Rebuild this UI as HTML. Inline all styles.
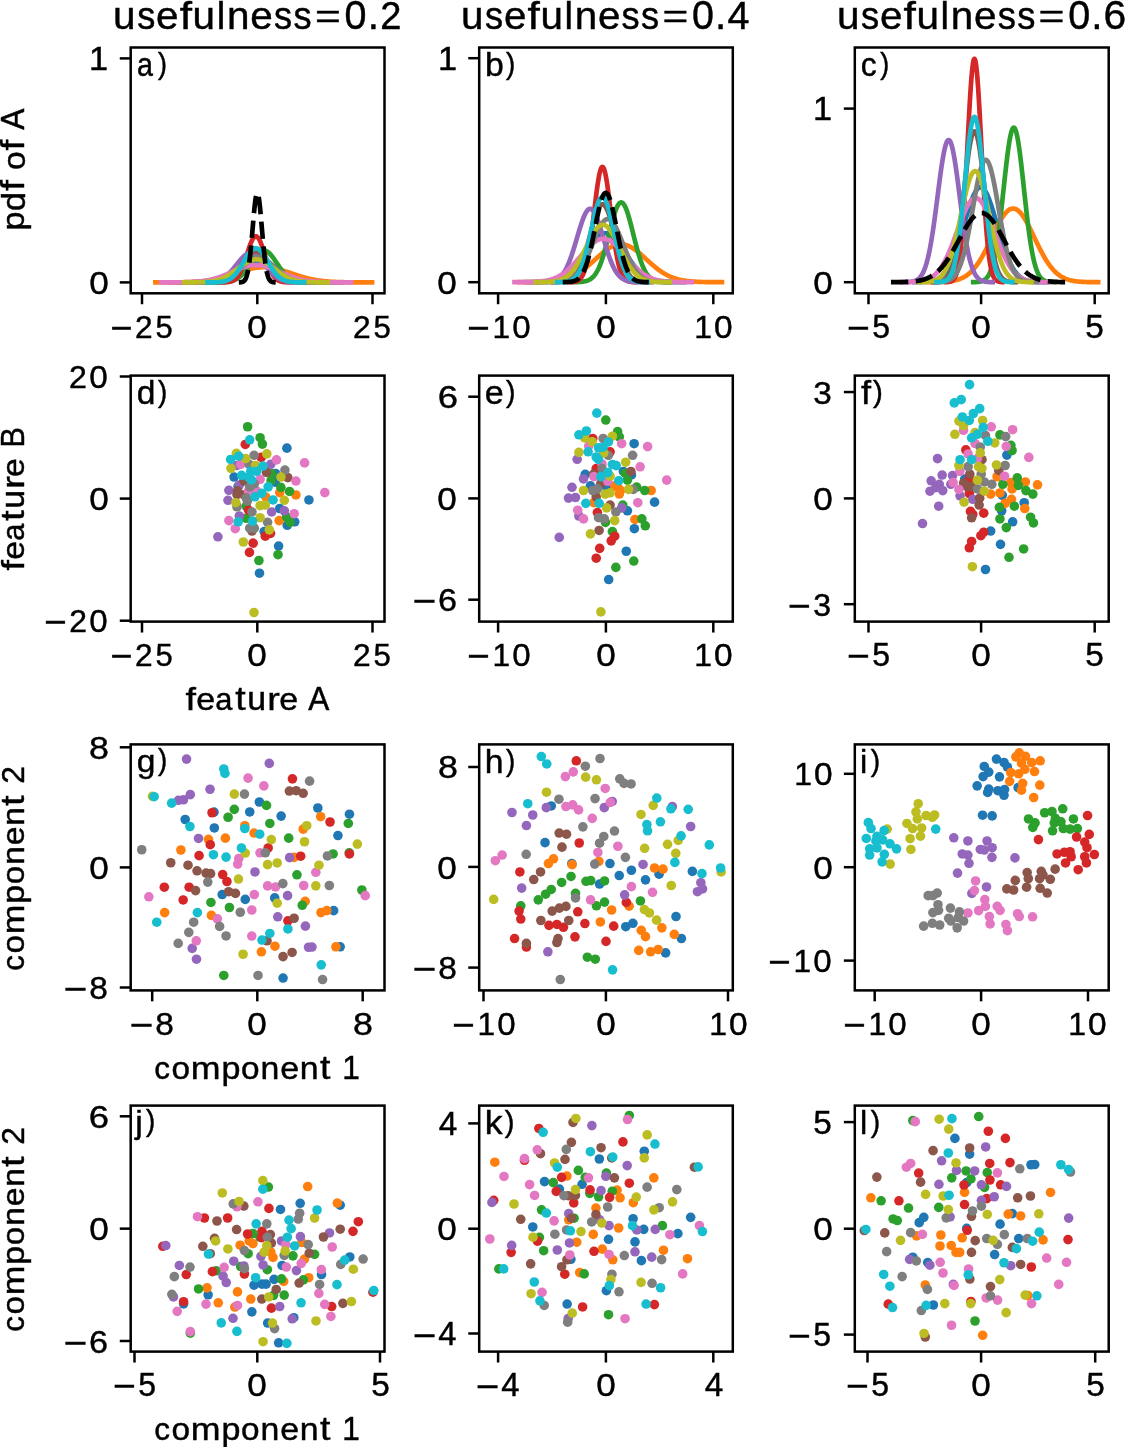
<!DOCTYPE html><html><head><meta charset="utf-8"><style>html,body{margin:0;padding:0;background:#fff;}svg{display:block;will-change:transform;}text{font-family:"Liberation Sans",sans-serif;}</style></head><body>
<svg width="1125" height="1447" viewBox="0 0 1125 1447">
<rect x="0" y="0" width="1125" height="1447" fill="#fff"/>
<defs>
<clipPath id="ca"><rect x="130.7" y="47.5" width="253.8" height="245.8"/></clipPath>
<clipPath id="cb"><rect x="479.2" y="47.5" width="253.6" height="245.8"/></clipPath>
<clipPath id="cc"><rect x="854.8" y="47.5" width="253.9" height="245.8"/></clipPath>
<clipPath id="cd"><rect x="130.7" y="375.6" width="253.8" height="246"/></clipPath>
<clipPath id="ce"><rect x="479.2" y="375.6" width="253.6" height="246"/></clipPath>
<clipPath id="cf"><rect x="854.8" y="375.6" width="253.9" height="246"/></clipPath>
<clipPath id="cg"><rect x="130.7" y="744.4" width="253.8" height="246"/></clipPath>
<clipPath id="ch"><rect x="479.2" y="744.4" width="253.6" height="246"/></clipPath>
<clipPath id="ci"><rect x="854.8" y="744.4" width="253.9" height="246"/></clipPath>
<clipPath id="cj"><rect x="130.7" y="1105.6" width="253.8" height="246"/></clipPath>
<clipPath id="ck"><rect x="479.2" y="1105.6" width="253.6" height="246"/></clipPath>
<clipPath id="cl"><rect x="854.8" y="1105.6" width="253.9" height="246"/></clipPath>
</defs>
<g clip-path="url(#ca)" fill="none" stroke-width="4.69" stroke-linejoin="round">
<path d="M172.95,282.39 L174.01,282.39 L175.07,282.39 L176.12,282.39 L177.18,282.39 L178.24,282.38 L179.3,282.38 L180.36,282.37 L181.42,282.37 L182.47,282.36 L183.53,282.36 L184.59,282.35 L185.65,282.34 L186.71,282.33 L187.77,282.31 L188.82,282.3 L189.88,282.28 L190.94,282.26 L192,282.24 L193.06,282.21 L194.12,282.18 L195.17,282.14 L196.23,282.1 L197.29,282.06 L198.35,282 L199.41,281.94 L200.46,281.88 L201.52,281.8 L202.58,281.72 L203.64,281.62 L204.7,281.52 L205.76,281.4 L206.81,281.27 L207.87,281.13 L208.93,280.97 L209.99,280.8 L211.05,280.61 L212.11,280.41 L213.16,280.19 L214.22,279.94 L215.28,279.68 L216.34,279.4 L217.4,279.1 L218.46,278.77 L219.51,278.43 L220.57,278.06 L221.63,277.67 L222.69,277.26 L223.75,276.82 L224.81,276.37 L225.86,275.89 L226.92,275.39 L227.98,274.88 L229.04,274.35 L230.1,273.8 L231.15,273.24 L232.21,272.66 L233.27,272.08 L234.33,271.49 L235.39,270.89 L236.45,270.3 L237.5,269.7 L238.56,269.11 L239.62,268.52 L240.68,267.95 L241.74,267.39 L242.8,266.85 L243.85,266.33 L244.91,265.83 L245.97,265.36 L247.03,264.93 L248.09,264.53 L249.15,264.16 L250.2,263.83 L251.26,263.55 L252.32,263.31 L253.38,263.11 L254.44,262.97 L255.49,262.87 L256.55,262.82 L257.61,262.82 L258.67,262.87 L259.73,262.97 L260.79,263.11 L261.84,263.31 L262.9,263.55 L263.96,263.83 L265.02,264.16 L266.08,264.53 L267.14,264.93 L268.19,265.36 L269.25,265.83 L270.31,266.33 L271.37,266.85 L272.43,267.39 L273.49,267.95 L274.54,268.52 L275.6,269.11 L276.66,269.7 L277.72,270.3 L278.78,270.89 L279.84,271.49 L280.89,272.08 L281.95,272.66 L283.01,273.24 L284.07,273.8 L285.13,274.35 L286.18,274.88 L287.24,275.39 L288.3,275.89 L289.36,276.37 L290.42,276.82 L291.48,277.26 L292.53,277.67 L293.59,278.06 L294.65,278.43 L295.71,278.77 L296.77,279.1 L297.83,279.4 L298.88,279.68 L299.94,279.94 L301,280.19 L302.06,280.41 L303.12,280.61 L304.18,280.8 L305.23,280.97 L306.29,281.13 L307.35,281.27 L308.41,281.4 L309.47,281.52 L310.52,281.62 L311.58,281.72 L312.64,281.8 L313.7,281.88 L314.76,281.94 L315.82,282 L316.87,282.06 L317.93,282.1 L318.99,282.14 L320.05,282.18 L321.11,282.21 L322.17,282.24 L323.22,282.26 L324.28,282.28 L325.34,282.3 L326.4,282.31 L327.46,282.33 L328.52,282.34 L329.57,282.35 L330.63,282.36 L331.69,282.36 L332.75,282.37 L333.81,282.37 L334.87,282.38 L335.92,282.38 L336.98,282.39 L338.04,282.39 L339.1,282.39 L340.16,282.39 L341.21,282.39" stroke="#1f77b4" stroke-linecap="square"/>
<path d="M155.39,282.39 L156.75,282.39 L158.11,282.39 L159.47,282.39 L160.84,282.39 L162.2,282.39 L163.56,282.38 L164.92,282.38 L166.29,282.38 L167.65,282.37 L169.01,282.37 L170.38,282.36 L171.74,282.35 L173.1,282.34 L174.46,282.33 L175.83,282.32 L177.19,282.31 L178.55,282.29 L179.91,282.27 L181.28,282.25 L182.64,282.23 L184,282.2 L185.37,282.17 L186.73,282.13 L188.09,282.09 L189.45,282.05 L190.82,281.99 L192.18,281.94 L193.54,281.87 L194.9,281.8 L196.27,281.72 L197.63,281.63 L198.99,281.53 L200.35,281.41 L201.72,281.29 L203.08,281.16 L204.44,281.01 L205.81,280.85 L207.17,280.68 L208.53,280.49 L209.89,280.29 L211.26,280.07 L212.62,279.83 L213.98,279.58 L215.34,279.31 L216.71,279.03 L218.07,278.73 L219.43,278.41 L220.8,278.07 L222.16,277.71 L223.52,277.34 L224.88,276.96 L226.25,276.56 L227.61,276.15 L228.97,275.72 L230.33,275.28 L231.7,274.84 L233.06,274.39 L234.42,273.93 L235.79,273.46 L237.15,273 L238.51,272.54 L239.87,272.08 L241.24,271.62 L242.6,271.18 L243.96,270.74 L245.32,270.32 L246.69,269.92 L248.05,269.53 L249.41,269.17 L250.77,268.83 L252.14,268.52 L253.5,268.23 L254.86,267.98 L256.23,267.76 L257.59,267.57 L258.95,267.42 L260.31,267.31 L261.68,267.23 L263.04,267.19 L264.4,267.19 L265.76,267.23 L267.13,267.31 L268.49,267.42 L269.85,267.57 L271.22,267.76 L272.58,267.98 L273.94,268.23 L275.3,268.52 L276.67,268.83 L278.03,269.17 L279.39,269.53 L280.75,269.92 L282.12,270.32 L283.48,270.74 L284.84,271.18 L286.21,271.62 L287.57,272.08 L288.93,272.54 L290.29,273 L291.66,273.46 L293.02,273.93 L294.38,274.39 L295.74,274.84 L297.11,275.28 L298.47,275.72 L299.83,276.15 L301.2,276.56 L302.56,276.96 L303.92,277.34 L305.28,277.71 L306.65,278.07 L308.01,278.41 L309.37,278.73 L310.73,279.03 L312.1,279.31 L313.46,279.58 L314.82,279.83 L316.18,280.07 L317.55,280.29 L318.91,280.49 L320.27,280.68 L321.64,280.85 L323,281.01 L324.36,281.16 L325.72,281.29 L327.09,281.41 L328.45,281.53 L329.81,281.63 L331.17,281.72 L332.54,281.8 L333.9,281.87 L335.26,281.94 L336.63,281.99 L337.99,282.05 L339.35,282.09 L340.71,282.13 L342.08,282.17 L343.44,282.2 L344.8,282.23 L346.16,282.25 L347.53,282.27 L348.89,282.29 L350.25,282.31 L351.62,282.32 L352.98,282.33 L354.34,282.34 L355.7,282.35 L357.07,282.36 L358.43,282.37 L359.79,282.37 L361.15,282.38 L362.52,282.38 L363.88,282.38 L365.24,282.39 L366.6,282.39 L367.97,282.39 L369.33,282.39 L370.69,282.39 L372.06,282.39" stroke="#ff7f0e" stroke-linecap="square"/>
<path d="M212.23,282.39 L212.88,282.39 L213.53,282.38 L214.18,282.38 L214.82,282.38 L215.47,282.37 L216.12,282.37 L216.77,282.36 L217.42,282.35 L218.07,282.34 L218.72,282.33 L219.37,282.32 L220.02,282.3 L220.67,282.28 L221.32,282.26 L221.97,282.24 L222.62,282.21 L223.27,282.17 L223.92,282.13 L224.57,282.09 L225.22,282.04 L225.87,281.98 L226.52,281.91 L227.16,281.84 L227.81,281.75 L228.46,281.66 L229.11,281.55 L229.76,281.43 L230.41,281.29 L231.06,281.14 L231.71,280.96 L232.36,280.77 L233.01,280.56 L233.66,280.33 L234.31,280.08 L234.96,279.8 L235.61,279.49 L236.26,279.16 L236.91,278.79 L237.56,278.4 L238.21,277.97 L238.85,277.51 L239.5,277.02 L240.15,276.49 L240.8,275.93 L241.45,275.33 L242.1,274.69 L242.75,274.02 L243.4,273.31 L244.05,272.57 L244.7,271.79 L245.35,270.98 L246,270.15 L246.65,269.28 L247.3,268.39 L247.95,267.47 L248.6,266.54 L249.25,265.58 L249.9,264.62 L250.55,263.65 L251.19,262.68 L251.84,261.71 L252.49,260.74 L253.14,259.79 L253.79,258.85 L254.44,257.94 L255.09,257.06 L255.74,256.21 L256.39,255.4 L257.04,254.64 L257.69,253.93 L258.34,253.27 L258.99,252.68 L259.64,252.15 L260.29,251.68 L260.94,251.29 L261.59,250.98 L262.24,250.74 L262.88,250.58 L263.53,250.49 L264.18,250.49 L264.83,250.58 L265.48,250.74 L266.13,250.98 L266.78,251.29 L267.43,251.68 L268.08,252.15 L268.73,252.68 L269.38,253.27 L270.03,253.93 L270.68,254.64 L271.33,255.4 L271.98,256.21 L272.63,257.06 L273.28,257.94 L273.93,258.85 L274.58,259.79 L275.22,260.74 L275.87,261.71 L276.52,262.68 L277.17,263.65 L277.82,264.62 L278.47,265.58 L279.12,266.54 L279.77,267.47 L280.42,268.39 L281.07,269.28 L281.72,270.15 L282.37,270.98 L283.02,271.79 L283.67,272.57 L284.32,273.31 L284.97,274.02 L285.62,274.69 L286.27,275.33 L286.91,275.93 L287.56,276.49 L288.21,277.02 L288.86,277.51 L289.51,277.97 L290.16,278.4 L290.81,278.79 L291.46,279.16 L292.11,279.49 L292.76,279.8 L293.41,280.08 L294.06,280.33 L294.71,280.56 L295.36,280.77 L296.01,280.96 L296.66,281.14 L297.31,281.29 L297.96,281.43 L298.61,281.55 L299.25,281.66 L299.9,281.75 L300.55,281.84 L301.2,281.91 L301.85,281.98 L302.5,282.04 L303.15,282.09 L303.8,282.13 L304.45,282.17 L305.1,282.21 L305.75,282.24 L306.4,282.26 L307.05,282.28 L307.7,282.3 L308.35,282.32 L309,282.33 L309.65,282.34 L310.3,282.35 L310.94,282.36 L311.59,282.37 L312.24,282.37 L312.89,282.38 L313.54,282.38 L314.19,282.38 L314.84,282.39 L315.49,282.39" stroke="#2ca02c" stroke-linecap="square"/>
<path d="M220.11,282.38 L220.56,282.38 L221.01,282.38 L221.46,282.37 L221.91,282.37 L222.36,282.36 L222.81,282.35 L223.26,282.34 L223.71,282.33 L224.15,282.31 L224.6,282.3 L225.05,282.28 L225.5,282.26 L225.95,282.23 L226.4,282.2 L226.85,282.16 L227.3,282.12 L227.75,282.07 L228.2,282.02 L228.65,281.95 L229.1,281.88 L229.55,281.79 L230,281.7 L230.45,281.59 L230.9,281.47 L231.35,281.33 L231.79,281.17 L232.24,280.99 L232.69,280.79 L233.14,280.57 L233.59,280.33 L234.04,280.05 L234.49,279.75 L234.94,279.41 L235.39,279.04 L235.84,278.64 L236.29,278.2 L236.74,277.71 L237.19,277.19 L237.64,276.62 L238.09,276 L238.54,275.34 L238.98,274.62 L239.43,273.86 L239.88,273.04 L240.33,272.18 L240.78,271.26 L241.23,270.29 L241.68,269.26 L242.13,268.19 L242.58,267.07 L243.03,265.9 L243.48,264.69 L243.93,263.44 L244.38,262.15 L244.83,260.83 L245.28,259.47 L245.73,258.1 L246.18,256.71 L246.62,255.3 L247.07,253.9 L247.52,252.49 L247.97,251.1 L248.42,249.72 L248.87,248.37 L249.32,247.05 L249.77,245.78 L250.22,244.55 L250.67,243.39 L251.12,242.28 L251.57,241.26 L252.02,240.31 L252.47,239.45 L252.92,238.68 L253.37,238.01 L253.82,237.44 L254.26,236.99 L254.71,236.64 L255.16,236.41 L255.61,236.29 L256.06,236.29 L256.51,236.41 L256.96,236.64 L257.41,236.99 L257.86,237.44 L258.31,238.01 L258.76,238.68 L259.21,239.45 L259.66,240.31 L260.11,241.26 L260.56,242.28 L261.01,243.39 L261.46,244.55 L261.9,245.78 L262.35,247.05 L262.8,248.37 L263.25,249.72 L263.7,251.1 L264.15,252.49 L264.6,253.9 L265.05,255.3 L265.5,256.71 L265.95,258.1 L266.4,259.47 L266.85,260.83 L267.3,262.15 L267.75,263.44 L268.2,264.69 L268.65,265.9 L269.09,267.07 L269.54,268.19 L269.99,269.26 L270.44,270.29 L270.89,271.26 L271.34,272.18 L271.79,273.04 L272.24,273.86 L272.69,274.62 L273.14,275.34 L273.59,276 L274.04,276.62 L274.49,277.19 L274.94,277.71 L275.39,278.2 L275.84,278.64 L276.29,279.04 L276.73,279.41 L277.18,279.75 L277.63,280.05 L278.08,280.33 L278.53,280.57 L278.98,280.79 L279.43,280.99 L279.88,281.17 L280.33,281.33 L280.78,281.47 L281.23,281.59 L281.68,281.7 L282.13,281.79 L282.58,281.88 L283.03,281.95 L283.48,282.02 L283.93,282.07 L284.37,282.12 L284.82,282.16 L285.27,282.2 L285.72,282.23 L286.17,282.26 L286.62,282.28 L287.07,282.3 L287.52,282.31 L287.97,282.33 L288.42,282.34 L288.87,282.35 L289.32,282.36 L289.77,282.37 L290.22,282.37 L290.67,282.38 L291.12,282.38 L291.57,282.38" stroke="#d62728" stroke-linecap="square"/>
<path d="M194.46,282.39 L195.16,282.39 L195.87,282.39 L196.57,282.38 L197.28,282.38 L197.99,282.37 L198.69,282.37 L199.4,282.36 L200.1,282.35 L200.81,282.35 L201.52,282.34 L202.22,282.32 L202.93,282.31 L203.63,282.29 L204.34,282.27 L205.05,282.25 L205.75,282.22 L206.46,282.19 L207.16,282.16 L207.87,282.11 L208.58,282.07 L209.28,282.01 L209.99,281.95 L210.69,281.88 L211.4,281.81 L212.11,281.72 L212.81,281.62 L213.52,281.5 L214.22,281.38 L214.93,281.24 L215.64,281.08 L216.34,280.9 L217.05,280.71 L217.75,280.5 L218.46,280.26 L219.17,280.01 L219.87,279.72 L220.58,279.42 L221.28,279.08 L221.99,278.72 L222.7,278.33 L223.4,277.9 L224.11,277.45 L224.81,276.96 L225.52,276.44 L226.23,275.89 L226.93,275.31 L227.64,274.69 L228.34,274.04 L229.05,273.36 L229.76,272.64 L230.46,271.9 L231.17,271.13 L231.87,270.33 L232.58,269.51 L233.29,268.67 L233.99,267.81 L234.7,266.93 L235.4,266.05 L236.11,265.15 L236.82,264.26 L237.52,263.36 L238.23,262.48 L238.93,261.6 L239.64,260.74 L240.35,259.9 L241.05,259.09 L241.76,258.31 L242.46,257.57 L243.17,256.86 L243.88,256.21 L244.58,255.61 L245.29,255.06 L245.99,254.57 L246.7,254.14 L247.41,253.78 L248.11,253.49 L248.82,253.27 L249.52,253.12 L250.23,253.05 L250.94,253.05 L251.64,253.12 L252.35,253.27 L253.05,253.49 L253.76,253.78 L254.47,254.14 L255.17,254.57 L255.88,255.06 L256.58,255.61 L257.29,256.21 L258,256.86 L258.7,257.57 L259.41,258.31 L260.11,259.09 L260.82,259.9 L261.53,260.74 L262.23,261.6 L262.94,262.48 L263.64,263.36 L264.35,264.26 L265.06,265.15 L265.76,266.05 L266.47,266.93 L267.17,267.81 L267.88,268.67 L268.59,269.51 L269.29,270.33 L270,271.13 L270.7,271.9 L271.41,272.64 L272.12,273.36 L272.82,274.04 L273.53,274.69 L274.23,275.31 L274.94,275.89 L275.65,276.44 L276.35,276.96 L277.06,277.45 L277.76,277.9 L278.47,278.33 L279.18,278.72 L279.88,279.08 L280.59,279.42 L281.29,279.72 L282,280.01 L282.71,280.26 L283.41,280.5 L284.12,280.71 L284.82,280.9 L285.53,281.08 L286.24,281.24 L286.94,281.38 L287.65,281.5 L288.35,281.62 L289.06,281.72 L289.76,281.81 L290.47,281.88 L291.18,281.95 L291.88,282.01 L292.59,282.07 L293.29,282.11 L294,282.16 L294.71,282.19 L295.41,282.22 L296.12,282.25 L296.82,282.27 L297.53,282.29 L298.24,282.31 L298.94,282.32 L299.65,282.34 L300.35,282.35 L301.06,282.35 L301.77,282.36 L302.47,282.37 L303.18,282.37 L303.88,282.38 L304.59,282.38 L305.3,282.39 L306,282.39 L306.71,282.39" stroke="#9467bd" stroke-linecap="square"/>
<path d="M202.94,282.39 L203.6,282.39 L204.27,282.38 L204.93,282.38 L205.6,282.38 L206.26,282.37 L206.93,282.37 L207.6,282.36 L208.26,282.35 L208.93,282.34 L209.59,282.33 L210.26,282.32 L210.92,282.3 L211.59,282.28 L212.25,282.26 L212.92,282.24 L213.58,282.21 L214.25,282.18 L214.92,282.14 L215.58,282.1 L216.25,282.05 L216.91,281.99 L217.58,281.93 L218.24,281.85 L218.91,281.77 L219.57,281.67 L220.24,281.57 L220.9,281.45 L221.57,281.31 L222.23,281.17 L222.9,281 L223.57,280.81 L224.23,280.61 L224.9,280.38 L225.56,280.13 L226.23,279.86 L226.89,279.56 L227.56,279.23 L228.22,278.88 L228.89,278.49 L229.55,278.08 L230.22,277.63 L230.88,277.15 L231.55,276.63 L232.22,276.08 L232.88,275.5 L233.55,274.87 L234.21,274.22 L234.88,273.53 L235.54,272.8 L236.21,272.05 L236.87,271.26 L237.54,270.44 L238.2,269.59 L238.87,268.72 L239.54,267.83 L240.2,266.92 L240.87,265.99 L241.53,265.05 L242.2,264.1 L242.86,263.15 L243.53,262.2 L244.19,261.26 L244.86,260.33 L245.52,259.42 L246.19,258.53 L246.85,257.67 L247.52,256.84 L248.19,256.05 L248.85,255.31 L249.52,254.61 L250.18,253.97 L250.85,253.39 L251.51,252.87 L252.18,252.42 L252.84,252.04 L253.51,251.73 L254.17,251.49 L254.84,251.34 L255.5,251.26 L256.17,251.26 L256.84,251.34 L257.5,251.49 L258.17,251.73 L258.83,252.04 L259.5,252.42 L260.16,252.87 L260.83,253.39 L261.49,253.97 L262.16,254.61 L262.82,255.31 L263.49,256.05 L264.16,256.84 L264.82,257.67 L265.49,258.53 L266.15,259.42 L266.82,260.33 L267.48,261.26 L268.15,262.2 L268.81,263.15 L269.48,264.1 L270.14,265.05 L270.81,265.99 L271.47,266.92 L272.14,267.83 L272.81,268.72 L273.47,269.59 L274.14,270.44 L274.8,271.26 L275.47,272.05 L276.13,272.8 L276.8,273.53 L277.46,274.22 L278.13,274.87 L278.79,275.5 L279.46,276.08 L280.12,276.63 L280.79,277.15 L281.46,277.63 L282.12,278.08 L282.79,278.49 L283.45,278.88 L284.12,279.23 L284.78,279.56 L285.45,279.86 L286.11,280.13 L286.78,280.38 L287.44,280.61 L288.11,280.81 L288.78,281 L289.44,281.17 L290.11,281.31 L290.77,281.45 L291.44,281.57 L292.1,281.67 L292.77,281.77 L293.43,281.85 L294.1,281.93 L294.76,281.99 L295.43,282.05 L296.09,282.1 L296.76,282.14 L297.43,282.18 L298.09,282.21 L298.76,282.24 L299.42,282.26 L300.09,282.28 L300.75,282.3 L301.42,282.32 L302.08,282.33 L302.75,282.34 L303.41,282.35 L304.08,282.36 L304.74,282.37 L305.41,282.37 L306.08,282.38 L306.74,282.38 L307.41,282.38 L308.07,282.39 L308.74,282.39" stroke="#8c564b" stroke-linecap="square"/>
<path d="M161.26,282.39 L162.46,282.39 L163.65,282.39 L164.84,282.39 L166.04,282.39 L167.23,282.38 L168.42,282.38 L169.62,282.38 L170.81,282.37 L172,282.37 L173.19,282.36 L174.39,282.35 L175.58,282.35 L176.77,282.34 L177.97,282.32 L179.16,282.31 L180.35,282.29 L181.55,282.28 L182.74,282.26 L183.93,282.23 L185.13,282.2 L186.32,282.17 L187.51,282.14 L188.7,282.09 L189.9,282.05 L191.09,282 L192.28,281.94 L193.48,281.87 L194.67,281.79 L195.86,281.71 L197.06,281.62 L198.25,281.52 L199.44,281.4 L200.64,281.27 L201.83,281.14 L203.02,280.98 L204.21,280.82 L205.41,280.63 L206.6,280.44 L207.79,280.22 L208.99,279.99 L210.18,279.74 L211.37,279.47 L212.57,279.18 L213.76,278.88 L214.95,278.55 L216.15,278.2 L217.34,277.84 L218.53,277.45 L219.72,277.05 L220.92,276.63 L222.11,276.19 L223.3,275.73 L224.5,275.26 L225.69,274.77 L226.88,274.27 L228.08,273.76 L229.27,273.25 L230.46,272.72 L231.66,272.19 L232.85,271.66 L234.04,271.13 L235.24,270.61 L236.43,270.09 L237.62,269.58 L238.81,269.09 L240.01,268.61 L241.2,268.14 L242.39,267.7 L243.59,267.29 L244.78,266.9 L245.97,266.55 L247.17,266.22 L248.36,265.93 L249.55,265.68 L250.75,265.47 L251.94,265.29 L253.13,265.16 L254.32,265.08 L255.52,265.03 L256.71,265.03 L257.9,265.08 L259.1,265.16 L260.29,265.29 L261.48,265.47 L262.68,265.68 L263.87,265.93 L265.06,266.22 L266.26,266.55 L267.45,266.9 L268.64,267.29 L269.83,267.7 L271.03,268.14 L272.22,268.61 L273.41,269.09 L274.61,269.58 L275.8,270.09 L276.99,270.61 L278.19,271.13 L279.38,271.66 L280.57,272.19 L281.77,272.72 L282.96,273.25 L284.15,273.76 L285.34,274.27 L286.54,274.77 L287.73,275.26 L288.92,275.73 L290.12,276.19 L291.31,276.63 L292.5,277.05 L293.7,277.45 L294.89,277.84 L296.08,278.2 L297.28,278.55 L298.47,278.88 L299.66,279.18 L300.86,279.47 L302.05,279.74 L303.24,279.99 L304.43,280.22 L305.63,280.44 L306.82,280.63 L308.01,280.82 L309.21,280.98 L310.4,281.14 L311.59,281.27 L312.79,281.4 L313.98,281.52 L315.17,281.62 L316.37,281.71 L317.56,281.79 L318.75,281.87 L319.94,281.94 L321.14,282 L322.33,282.05 L323.52,282.09 L324.72,282.14 L325.91,282.17 L327.1,282.2 L328.3,282.23 L329.49,282.26 L330.68,282.28 L331.88,282.29 L333.07,282.31 L334.26,282.32 L335.45,282.34 L336.65,282.35 L337.84,282.35 L339.03,282.36 L340.23,282.37 L341.42,282.37 L342.61,282.38 L343.81,282.38 L345,282.38 L346.19,282.39 L347.39,282.39 L348.58,282.39 L349.77,282.39 L350.96,282.39" stroke="#e377c2" stroke-linecap="square"/>
<path d="M192.91,282.39 L193.73,282.39 L194.55,282.39 L195.37,282.38 L196.19,282.38 L197.01,282.38 L197.83,282.37 L198.65,282.37 L199.48,282.36 L200.3,282.35 L201.12,282.34 L201.94,282.33 L202.76,282.32 L203.58,282.31 L204.4,282.29 L205.22,282.27 L206.04,282.25 L206.86,282.22 L207.68,282.19 L208.5,282.15 L209.32,282.11 L210.14,282.07 L210.96,282.02 L211.78,281.96 L212.6,281.89 L213.42,281.81 L214.24,281.73 L215.07,281.63 L215.89,281.52 L216.71,281.4 L217.53,281.26 L218.35,281.11 L219.17,280.95 L219.99,280.76 L220.81,280.56 L221.63,280.34 L222.45,280.1 L223.27,279.83 L224.09,279.54 L224.91,279.23 L225.73,278.89 L226.55,278.53 L227.37,278.14 L228.19,277.72 L229.01,277.28 L229.83,276.8 L230.66,276.3 L231.48,275.77 L232.3,275.21 L233.12,274.62 L233.94,274 L234.76,273.36 L235.58,272.7 L236.4,272.01 L237.22,271.31 L238.04,270.58 L238.86,269.84 L239.68,269.09 L240.5,268.33 L241.32,267.56 L242.14,266.79 L242.96,266.02 L243.78,265.26 L244.6,264.5 L245.42,263.76 L246.24,263.04 L247.07,262.34 L247.89,261.67 L248.71,261.03 L249.53,260.43 L250.35,259.87 L251.17,259.35 L251.99,258.87 L252.81,258.45 L253.63,258.09 L254.45,257.78 L255.27,257.53 L256.09,257.34 L256.91,257.21 L257.73,257.15 L258.55,257.15 L259.37,257.21 L260.19,257.34 L261.01,257.53 L261.83,257.78 L262.66,258.09 L263.48,258.45 L264.3,258.87 L265.12,259.35 L265.94,259.87 L266.76,260.43 L267.58,261.03 L268.4,261.67 L269.22,262.34 L270.04,263.04 L270.86,263.76 L271.68,264.5 L272.5,265.26 L273.32,266.02 L274.14,266.79 L274.96,267.56 L275.78,268.33 L276.6,269.09 L277.42,269.84 L278.25,270.58 L279.07,271.31 L279.89,272.01 L280.71,272.7 L281.53,273.36 L282.35,274 L283.17,274.62 L283.99,275.21 L284.81,275.77 L285.63,276.3 L286.45,276.8 L287.27,277.28 L288.09,277.72 L288.91,278.14 L289.73,278.53 L290.55,278.89 L291.37,279.23 L292.19,279.54 L293.01,279.83 L293.84,280.1 L294.66,280.34 L295.48,280.56 L296.3,280.76 L297.12,280.95 L297.94,281.11 L298.76,281.26 L299.58,281.4 L300.4,281.52 L301.22,281.63 L302.04,281.73 L302.86,281.81 L303.68,281.89 L304.5,281.96 L305.32,282.02 L306.14,282.07 L306.96,282.11 L307.78,282.15 L308.6,282.19 L309.43,282.22 L310.25,282.25 L311.07,282.27 L311.89,282.29 L312.71,282.31 L313.53,282.32 L314.35,282.33 L315.17,282.34 L315.99,282.35 L316.81,282.36 L317.63,282.37 L318.45,282.37 L319.27,282.38 L320.09,282.38 L320.91,282.38 L321.73,282.39 L322.55,282.39 L323.37,282.39" stroke="#7f7f7f" stroke-linecap="square"/>
<path d="M184.18,282.39 L185.08,282.39 L185.98,282.39 L186.88,282.39 L187.79,282.38 L188.69,282.38 L189.59,282.38 L190.5,282.37 L191.4,282.36 L192.3,282.36 L193.21,282.35 L194.11,282.34 L195.01,282.33 L195.92,282.31 L196.82,282.3 L197.72,282.28 L198.63,282.26 L199.53,282.24 L200.43,282.21 L201.34,282.18 L202.24,282.14 L203.14,282.1 L204.04,282.05 L204.95,282 L205.85,281.93 L206.75,281.87 L207.66,281.79 L208.56,281.7 L209.46,281.6 L210.37,281.49 L211.27,281.37 L212.17,281.23 L213.08,281.08 L213.98,280.91 L214.88,280.73 L215.79,280.53 L216.69,280.31 L217.59,280.07 L218.49,279.81 L219.4,279.52 L220.3,279.22 L221.2,278.88 L222.11,278.53 L223.01,278.15 L223.91,277.74 L224.82,277.31 L225.72,276.86 L226.62,276.37 L227.53,275.86 L228.43,275.33 L229.33,274.77 L230.24,274.19 L231.14,273.59 L232.04,272.96 L232.95,272.32 L233.85,271.66 L234.75,270.99 L235.65,270.31 L236.56,269.62 L237.46,268.92 L238.36,268.22 L239.27,267.52 L240.17,266.82 L241.07,266.14 L241.98,265.47 L242.88,264.81 L243.78,264.18 L244.69,263.57 L245.59,262.99 L246.49,262.44 L247.4,261.93 L248.3,261.46 L249.2,261.03 L250.11,260.64 L251.01,260.31 L251.91,260.03 L252.81,259.8 L253.72,259.63 L254.62,259.51 L255.52,259.46 L256.43,259.46 L257.33,259.51 L258.23,259.63 L259.14,259.8 L260.04,260.03 L260.94,260.31 L261.85,260.64 L262.75,261.03 L263.65,261.46 L264.56,261.93 L265.46,262.44 L266.36,262.99 L267.27,263.57 L268.17,264.18 L269.07,264.81 L269.97,265.47 L270.88,266.14 L271.78,266.82 L272.68,267.52 L273.59,268.22 L274.49,268.92 L275.39,269.62 L276.3,270.31 L277.2,270.99 L278.1,271.66 L279.01,272.32 L279.91,272.96 L280.81,273.59 L281.72,274.19 L282.62,274.77 L283.52,275.33 L284.43,275.86 L285.33,276.37 L286.23,276.86 L287.13,277.31 L288.04,277.74 L288.94,278.15 L289.84,278.53 L290.75,278.88 L291.65,279.22 L292.55,279.52 L293.46,279.81 L294.36,280.07 L295.26,280.31 L296.17,280.53 L297.07,280.73 L297.97,280.91 L298.88,281.08 L299.78,281.23 L300.68,281.37 L301.59,281.49 L302.49,281.6 L303.39,281.7 L304.29,281.79 L305.2,281.87 L306.1,281.93 L307,282 L307.91,282.05 L308.81,282.1 L309.71,282.14 L310.62,282.18 L311.52,282.21 L312.42,282.24 L313.33,282.26 L314.23,282.28 L315.13,282.3 L316.04,282.31 L316.94,282.33 L317.84,282.34 L318.75,282.35 L319.65,282.36 L320.55,282.36 L321.45,282.37 L322.36,282.38 L323.26,282.38 L324.16,282.38 L325.07,282.39 L325.97,282.39 L326.87,282.39 L327.78,282.39" stroke="#bcbd22" stroke-linecap="square"/>
<path d="M207.55,282.39 L208.16,282.39 L208.76,282.38 L209.37,282.38 L209.98,282.37 L210.58,282.37 L211.19,282.36 L211.8,282.36 L212.41,282.35 L213.01,282.34 L213.62,282.32 L214.23,282.31 L214.84,282.29 L215.44,282.27 L216.05,282.25 L216.66,282.22 L217.27,282.19 L217.87,282.16 L218.48,282.12 L219.09,282.07 L219.7,282.01 L220.3,281.95 L220.91,281.88 L221.52,281.8 L222.13,281.71 L222.73,281.61 L223.34,281.49 L223.95,281.36 L224.56,281.21 L225.16,281.05 L225.77,280.86 L226.38,280.66 L226.99,280.44 L227.59,280.19 L228.2,279.92 L228.81,279.62 L229.41,279.29 L230.02,278.93 L230.63,278.54 L231.24,278.12 L231.84,277.66 L232.45,277.17 L233.06,276.65 L233.67,276.08 L234.27,275.48 L234.88,274.84 L235.49,274.16 L236.1,273.44 L236.7,272.68 L237.31,271.89 L237.92,271.06 L238.53,270.19 L239.13,269.3 L239.74,268.37 L240.35,267.42 L240.96,266.44 L241.56,265.44 L242.17,264.42 L242.78,263.39 L243.39,262.35 L243.99,261.31 L244.6,260.27 L245.21,259.24 L245.82,258.22 L246.42,257.22 L247.03,256.25 L247.64,255.31 L248.24,254.4 L248.85,253.54 L249.46,252.72 L250.07,251.96 L250.67,251.26 L251.28,250.62 L251.89,250.05 L252.5,249.56 L253.1,249.14 L253.71,248.8 L254.32,248.54 L254.93,248.37 L255.53,248.29 L256.14,248.29 L256.75,248.37 L257.36,248.54 L257.96,248.8 L258.57,249.14 L259.18,249.56 L259.79,250.05 L260.39,250.62 L261,251.26 L261.61,251.96 L262.22,252.72 L262.82,253.54 L263.43,254.4 L264.04,255.31 L264.65,256.25 L265.25,257.22 L265.86,258.22 L266.47,259.24 L267.07,260.27 L267.68,261.31 L268.29,262.35 L268.9,263.39 L269.5,264.42 L270.11,265.44 L270.72,266.44 L271.33,267.42 L271.93,268.37 L272.54,269.3 L273.15,270.19 L273.76,271.06 L274.36,271.89 L274.97,272.68 L275.58,273.44 L276.19,274.16 L276.79,274.84 L277.4,275.48 L278.01,276.08 L278.62,276.65 L279.22,277.17 L279.83,277.66 L280.44,278.12 L281.05,278.54 L281.65,278.93 L282.26,279.29 L282.87,279.62 L283.48,279.92 L284.08,280.19 L284.69,280.44 L285.3,280.66 L285.9,280.86 L286.51,281.05 L287.12,281.21 L287.73,281.36 L288.33,281.49 L288.94,281.61 L289.55,281.71 L290.16,281.8 L290.76,281.88 L291.37,281.95 L291.98,282.01 L292.59,282.07 L293.19,282.12 L293.8,282.16 L294.41,282.19 L295.02,282.22 L295.62,282.25 L296.23,282.27 L296.84,282.29 L297.45,282.31 L298.05,282.32 L298.66,282.34 L299.27,282.35 L299.88,282.36 L300.48,282.36 L301.09,282.37 L301.7,282.37 L302.31,282.38 L302.91,282.38 L303.52,282.39 L304.13,282.39" stroke="#17becf" stroke-linecap="square"/>
<path d="M238.83,282.37 L239.06,282.36 L239.29,282.36 L239.52,282.35 L239.75,282.33 L239.99,282.32 L240.22,282.3 L240.45,282.28 L240.68,282.26 L240.91,282.23 L241.15,282.2 L241.38,282.16 L241.61,282.12 L241.84,282.07 L242.07,282.01 L242.31,281.94 L242.54,281.86 L242.77,281.76 L243,281.66 L243.23,281.53 L243.47,281.39 L243.7,281.23 L243.93,281.04 L244.16,280.83 L244.39,280.59 L244.63,280.32 L244.86,280.01 L245.09,279.67 L245.32,279.29 L245.55,278.86 L245.79,278.38 L246.02,277.85 L246.25,277.26 L246.48,276.61 L246.71,275.9 L246.94,275.11 L247.18,274.25 L247.41,273.32 L247.64,272.3 L247.87,271.19 L248.1,270 L248.34,268.71 L248.57,267.33 L248.8,265.85 L249.03,264.27 L249.26,262.59 L249.5,260.81 L249.73,258.93 L249.96,256.95 L250.19,254.87 L250.42,252.7 L250.66,250.44 L250.89,248.09 L251.12,245.66 L251.35,243.16 L251.58,240.6 L251.82,237.98 L252.05,235.32 L252.28,232.62 L252.51,229.9 L252.74,227.18 L252.98,224.45 L253.21,221.75 L253.44,219.09 L253.67,216.47 L253.9,213.92 L254.14,211.45 L254.37,209.07 L254.6,206.81 L254.83,204.68 L255.06,202.68 L255.3,200.85 L255.53,199.18 L255.76,197.69 L255.99,196.39 L256.22,195.3 L256.45,194.41 L256.69,193.74 L256.92,193.29 L257.15,193.07 L257.38,193.07 L257.61,193.29 L257.85,193.74 L258.08,194.41 L258.31,195.3 L258.54,196.39 L258.77,197.69 L259.01,199.18 L259.24,200.85 L259.47,202.68 L259.7,204.68 L259.93,206.81 L260.17,209.07 L260.4,211.45 L260.63,213.92 L260.86,216.47 L261.09,219.09 L261.33,221.75 L261.56,224.45 L261.79,227.18 L262.02,229.9 L262.25,232.62 L262.49,235.32 L262.72,237.98 L262.95,240.6 L263.18,243.16 L263.41,245.66 L263.65,248.09 L263.88,250.44 L264.11,252.7 L264.34,254.87 L264.57,256.95 L264.81,258.93 L265.04,260.81 L265.27,262.59 L265.5,264.27 L265.73,265.85 L265.96,267.33 L266.2,268.71 L266.43,270 L266.66,271.19 L266.89,272.3 L267.12,273.32 L267.36,274.25 L267.59,275.11 L267.82,275.9 L268.05,276.61 L268.28,277.26 L268.52,277.85 L268.75,278.38 L268.98,278.86 L269.21,279.29 L269.44,279.67 L269.68,280.01 L269.91,280.32 L270.14,280.59 L270.37,280.83 L270.6,281.04 L270.84,281.23 L271.07,281.39 L271.3,281.53 L271.53,281.66 L271.76,281.76 L272,281.86 L272.23,281.94 L272.46,282.01 L272.69,282.07 L272.92,282.12 L273.16,282.16 L273.39,282.2 L273.62,282.23 L273.85,282.26 L274.08,282.28 L274.31,282.3 L274.55,282.32 L274.78,282.33 L275.01,282.35 L275.24,282.36 L275.47,282.36 L275.71,282.37" stroke="#000" stroke-dasharray="17.34 7.5"/>
</g>
<g clip-path="url(#cb)" fill="none" stroke-width="4.69" stroke-linejoin="round">
<path d="M526.79,282.18 L527.78,282.18 L528.76,282.18 L529.75,282.17 L530.74,282.16 L531.73,282.16 L532.72,282.15 L533.7,282.14 L534.69,282.12 L535.68,282.11 L536.67,282.09 L537.66,282.07 L538.64,282.05 L539.63,282.02 L540.62,281.99 L541.61,281.95 L542.6,281.9 L543.58,281.85 L544.57,281.79 L545.56,281.72 L546.55,281.65 L547.54,281.56 L548.52,281.45 L549.51,281.34 L550.5,281.21 L551.49,281.06 L552.48,280.89 L553.46,280.7 L554.45,280.49 L555.44,280.26 L556.43,280 L557.42,279.71 L558.41,279.38 L559.39,279.03 L560.38,278.64 L561.37,278.21 L562.36,277.74 L563.35,277.22 L564.33,276.66 L565.32,276.06 L566.31,275.4 L567.3,274.7 L568.29,273.94 L569.27,273.13 L570.26,272.27 L571.25,271.35 L572.24,270.37 L573.23,269.34 L574.21,268.25 L575.2,267.12 L576.19,265.93 L577.18,264.69 L578.17,263.4 L579.15,262.07 L580.14,260.7 L581.13,259.3 L582.12,257.86 L583.11,256.4 L584.09,254.92 L585.08,253.43 L586.07,251.94 L587.06,250.45 L588.05,248.97 L589.03,247.51 L590.02,246.07 L591.01,244.68 L592,243.32 L592.99,242.02 L593.97,240.78 L594.96,239.61 L595.95,238.52 L596.94,237.51 L597.93,236.6 L598.91,235.78 L599.9,235.07 L600.89,234.47 L601.88,233.99 L602.87,233.62 L603.85,233.37 L604.84,233.25 L605.83,233.25 L606.82,233.37 L607.81,233.62 L608.79,233.99 L609.78,234.47 L610.77,235.07 L611.76,235.78 L612.75,236.6 L613.73,237.51 L614.72,238.52 L615.71,239.61 L616.7,240.78 L617.69,242.02 L618.67,243.32 L619.66,244.68 L620.65,246.07 L621.64,247.51 L622.63,248.97 L623.61,250.45 L624.6,251.94 L625.59,253.43 L626.58,254.92 L627.57,256.4 L628.55,257.86 L629.54,259.3 L630.53,260.7 L631.52,262.07 L632.51,263.4 L633.49,264.69 L634.48,265.93 L635.47,267.12 L636.46,268.25 L637.45,269.34 L638.44,270.37 L639.42,271.35 L640.41,272.27 L641.4,273.13 L642.39,273.94 L643.38,274.7 L644.36,275.4 L645.35,276.06 L646.34,276.66 L647.33,277.22 L648.32,277.74 L649.3,278.21 L650.29,278.64 L651.28,279.03 L652.27,279.38 L653.26,279.71 L654.24,280 L655.23,280.26 L656.22,280.49 L657.21,280.7 L658.2,280.89 L659.18,281.06 L660.17,281.21 L661.16,281.34 L662.15,281.45 L663.14,281.56 L664.12,281.65 L665.11,281.72 L666.1,281.79 L667.09,281.85 L668.08,281.9 L669.06,281.95 L670.05,281.99 L671.04,282.02 L672.03,282.05 L673.02,282.07 L674,282.09 L674.99,282.11 L675.98,282.12 L676.97,282.14 L677.96,282.15 L678.94,282.16 L679.93,282.16 L680.92,282.17 L681.91,282.18 L682.9,282.18 L683.88,282.18" stroke="#1f77b4" stroke-linecap="square"/>
<path d="M519.69,282.19 L520.96,282.18 L522.23,282.18 L523.5,282.18 L524.78,282.17 L526.05,282.17 L527.32,282.16 L528.59,282.15 L529.86,282.14 L531.14,282.13 L532.41,282.12 L533.68,282.1 L534.95,282.08 L536.23,282.06 L537.5,282.03 L538.77,282 L540.04,281.97 L541.31,281.93 L542.59,281.88 L543.86,281.83 L545.13,281.77 L546.4,281.7 L547.68,281.62 L548.95,281.53 L550.22,281.43 L551.49,281.31 L552.77,281.18 L554.04,281.04 L555.31,280.88 L556.58,280.69 L557.85,280.49 L559.13,280.26 L560.4,280.01 L561.67,279.74 L562.94,279.43 L564.22,279.1 L565.49,278.73 L566.76,278.33 L568.03,277.9 L569.3,277.43 L570.58,276.92 L571.85,276.38 L573.12,275.79 L574.39,275.16 L575.67,274.49 L576.94,273.77 L578.21,273.01 L579.48,272.21 L580.75,271.37 L582.03,270.49 L583.3,269.56 L584.57,268.6 L585.84,267.6 L587.12,266.57 L588.39,265.5 L589.66,264.41 L590.93,263.3 L592.21,262.16 L593.48,261.02 L594.75,259.86 L596.02,258.7 L597.29,257.54 L598.57,256.39 L599.84,255.26 L601.11,254.14 L602.38,253.06 L603.66,252.01 L604.93,251 L606.2,250.03 L607.47,249.13 L608.74,248.28 L610.02,247.5 L611.29,246.79 L612.56,246.15 L613.83,245.6 L615.11,245.14 L616.38,244.76 L617.65,244.47 L618.92,244.28 L620.19,244.19 L621.47,244.19 L622.74,244.28 L624.01,244.47 L625.28,244.76 L626.56,245.14 L627.83,245.6 L629.1,246.15 L630.37,246.79 L631.64,247.5 L632.92,248.28 L634.19,249.13 L635.46,250.03 L636.73,251 L638.01,252.01 L639.28,253.06 L640.55,254.14 L641.82,255.26 L643.1,256.39 L644.37,257.54 L645.64,258.7 L646.91,259.86 L648.18,261.02 L649.46,262.16 L650.73,263.3 L652,264.41 L653.27,265.5 L654.55,266.57 L655.82,267.6 L657.09,268.6 L658.36,269.56 L659.63,270.49 L660.91,271.37 L662.18,272.21 L663.45,273.01 L664.72,273.77 L666,274.49 L667.27,275.16 L668.54,275.79 L669.81,276.38 L671.08,276.92 L672.36,277.43 L673.63,277.9 L674.9,278.33 L676.17,278.73 L677.45,279.1 L678.72,279.43 L679.99,279.74 L681.26,280.01 L682.53,280.26 L683.81,280.49 L685.08,280.69 L686.35,280.88 L687.62,281.04 L688.9,281.18 L690.17,281.31 L691.44,281.43 L692.71,281.53 L693.99,281.62 L695.26,281.7 L696.53,281.77 L697.8,281.83 L699.07,281.88 L700.35,281.93 L701.62,281.97 L702.89,282 L704.16,282.03 L705.44,282.06 L706.71,282.08 L707.98,282.1 L709.25,282.12 L710.52,282.13 L711.8,282.14 L713.07,282.15 L714.34,282.16 L715.61,282.17 L716.89,282.17 L718.16,282.18 L719.43,282.18 L720.7,282.18 L721.97,282.19" stroke="#ff7f0e" stroke-linecap="square"/>
<path d="M572.95,282.17 L573.56,282.17 L574.16,282.16 L574.77,282.15 L575.37,282.14 L575.98,282.13 L576.59,282.11 L577.19,282.1 L577.8,282.08 L578.41,282.05 L579.01,282.02 L579.62,281.99 L580.22,281.95 L580.83,281.9 L581.44,281.85 L582.04,281.79 L582.65,281.72 L583.26,281.63 L583.86,281.54 L584.47,281.42 L585.08,281.3 L585.68,281.15 L586.29,280.99 L586.89,280.8 L587.5,280.58 L588.11,280.34 L588.71,280.07 L589.32,279.76 L589.93,279.42 L590.53,279.04 L591.14,278.61 L591.75,278.14 L592.35,277.61 L592.96,277.03 L593.56,276.39 L594.17,275.69 L594.78,274.93 L595.38,274.09 L595.99,273.18 L596.6,272.19 L597.2,271.13 L597.81,269.98 L598.42,268.74 L599.02,267.42 L599.63,266.01 L600.23,264.51 L600.84,262.92 L601.45,261.24 L602.05,259.48 L602.66,257.62 L603.27,255.68 L603.87,253.66 L604.48,251.57 L605.09,249.4 L605.69,247.17 L606.3,244.88 L606.9,242.54 L607.51,240.16 L608.12,237.75 L608.72,235.33 L609.33,232.89 L609.94,230.46 L610.54,228.05 L611.15,225.67 L611.76,223.33 L612.36,221.05 L612.97,218.85 L613.57,216.73 L614.18,214.71 L614.79,212.8 L615.39,211.02 L616,209.38 L616.61,207.89 L617.21,206.57 L617.82,205.41 L618.42,204.43 L619.03,203.64 L619.64,203.04 L620.24,202.64 L620.85,202.44 L621.46,202.44 L622.06,202.64 L622.67,203.04 L623.28,203.64 L623.88,204.43 L624.49,205.41 L625.09,206.57 L625.7,207.89 L626.31,209.38 L626.91,211.02 L627.52,212.8 L628.13,214.71 L628.73,216.73 L629.34,218.85 L629.95,221.05 L630.55,223.33 L631.16,225.67 L631.76,228.05 L632.37,230.46 L632.98,232.89 L633.58,235.33 L634.19,237.75 L634.8,240.16 L635.4,242.54 L636.01,244.88 L636.62,247.17 L637.22,249.4 L637.83,251.57 L638.43,253.66 L639.04,255.68 L639.65,257.62 L640.25,259.48 L640.86,261.24 L641.47,262.92 L642.07,264.51 L642.68,266.01 L643.29,267.42 L643.89,268.74 L644.5,269.98 L645.1,271.13 L645.71,272.19 L646.32,273.18 L646.92,274.09 L647.53,274.93 L648.14,275.69 L648.74,276.39 L649.35,277.03 L649.96,277.61 L650.56,278.14 L651.17,278.61 L651.77,279.04 L652.38,279.42 L652.99,279.76 L653.59,280.07 L654.2,280.34 L654.81,280.58 L655.41,280.8 L656.02,280.99 L656.62,281.15 L657.23,281.3 L657.84,281.42 L658.44,281.54 L659.05,281.63 L659.66,281.72 L660.26,281.79 L660.87,281.85 L661.48,281.9 L662.08,281.95 L662.69,281.99 L663.29,282.02 L663.9,282.05 L664.51,282.08 L665.11,282.1 L665.72,282.11 L666.33,282.13 L666.93,282.14 L667.54,282.15 L668.15,282.16 L668.75,282.17 L669.36,282.17" stroke="#2ca02c" stroke-linecap="square"/>
<path d="M569.08,282.16 L569.49,282.15 L569.91,282.14 L570.33,282.13 L570.75,282.12 L571.17,282.1 L571.59,282.08 L572.01,282.05 L572.43,282.02 L572.85,281.99 L573.27,281.94 L573.69,281.9 L574.11,281.84 L574.53,281.77 L574.95,281.69 L575.37,281.6 L575.79,281.5 L576.21,281.38 L576.63,281.24 L577.05,281.08 L577.47,280.89 L577.89,280.68 L578.31,280.44 L578.73,280.17 L579.14,279.86 L579.56,279.51 L579.98,279.12 L580.4,278.68 L580.82,278.18 L581.24,277.63 L581.66,277.01 L582.08,276.33 L582.5,275.57 L582.92,274.73 L583.34,273.81 L583.76,272.8 L584.18,271.69 L584.6,270.48 L585.02,269.17 L585.44,267.74 L585.86,266.2 L586.28,264.54 L586.7,262.75 L587.12,260.85 L587.54,258.81 L587.96,256.64 L588.38,254.34 L588.79,251.92 L589.21,249.36 L589.63,246.68 L590.05,243.88 L590.47,240.96 L590.89,237.93 L591.31,234.8 L591.73,231.57 L592.15,228.26 L592.57,224.88 L592.99,221.45 L593.41,217.97 L593.83,214.46 L594.25,210.94 L594.67,207.43 L595.09,203.95 L595.51,200.5 L595.93,197.13 L596.35,193.84 L596.77,190.65 L597.19,187.58 L597.61,184.67 L598.03,181.91 L598.45,179.34 L598.86,176.97 L599.28,174.82 L599.7,172.9 L600.12,171.22 L600.54,169.81 L600.96,168.67 L601.38,167.8 L601.8,167.22 L602.22,166.93 L602.64,166.93 L603.06,167.22 L603.48,167.8 L603.9,168.67 L604.32,169.81 L604.74,171.22 L605.16,172.9 L605.58,174.82 L606,176.97 L606.42,179.34 L606.84,181.91 L607.26,184.67 L607.68,187.58 L608.1,190.65 L608.51,193.84 L608.93,197.13 L609.35,200.5 L609.77,203.95 L610.19,207.43 L610.61,210.94 L611.03,214.46 L611.45,217.97 L611.87,221.45 L612.29,224.88 L612.71,228.26 L613.13,231.57 L613.55,234.8 L613.97,237.93 L614.39,240.96 L614.81,243.88 L615.23,246.68 L615.65,249.36 L616.07,251.92 L616.49,254.34 L616.91,256.64 L617.33,258.81 L617.75,260.85 L618.17,262.75 L618.58,264.54 L619,266.2 L619.42,267.74 L619.84,269.17 L620.26,270.48 L620.68,271.69 L621.1,272.8 L621.52,273.81 L621.94,274.73 L622.36,275.57 L622.78,276.33 L623.2,277.01 L623.62,277.63 L624.04,278.18 L624.46,278.68 L624.88,279.12 L625.3,279.51 L625.72,279.86 L626.14,280.17 L626.56,280.44 L626.98,280.68 L627.4,280.89 L627.82,281.08 L628.23,281.24 L628.65,281.38 L629.07,281.5 L629.49,281.6 L629.91,281.69 L630.33,281.77 L630.75,281.84 L631.17,281.9 L631.59,281.94 L632.01,281.99 L632.43,282.02 L632.85,282.05 L633.27,282.08 L633.69,282.1 L634.11,282.12 L634.53,282.13 L634.95,282.14 L635.37,282.15 L635.79,282.16" stroke="#d62728" stroke-linecap="square"/>
<path d="M537.76,282.18 L538.42,282.17 L539.08,282.16 L539.74,282.16 L540.4,282.15 L541.06,282.13 L541.72,282.12 L542.38,282.11 L543.04,282.09 L543.7,282.06 L544.35,282.04 L545.01,282.01 L545.67,281.97 L546.33,281.93 L546.99,281.88 L547.65,281.82 L548.31,281.75 L548.97,281.68 L549.63,281.59 L550.29,281.49 L550.95,281.37 L551.61,281.24 L552.26,281.08 L552.92,280.91 L553.58,280.71 L554.24,280.49 L554.9,280.24 L555.56,279.96 L556.22,279.64 L556.88,279.29 L557.54,278.9 L558.2,278.46 L558.86,277.98 L559.51,277.45 L560.17,276.86 L560.83,276.21 L561.49,275.51 L562.15,274.74 L562.81,273.9 L563.47,273 L564.13,272.01 L564.79,270.96 L565.45,269.82 L566.11,268.61 L566.77,267.31 L567.42,265.93 L568.08,264.47 L568.74,262.92 L569.4,261.3 L570.06,259.59 L570.72,257.81 L571.38,255.95 L572.04,254.02 L572.7,252.02 L573.36,249.97 L574.02,247.87 L574.68,245.72 L575.33,243.53 L575.99,241.31 L576.65,239.08 L577.31,236.84 L577.97,234.61 L578.63,232.39 L579.29,230.2 L579.95,228.05 L580.61,225.95 L581.27,223.92 L581.93,221.97 L582.58,220.11 L583.24,218.36 L583.9,216.72 L584.56,215.22 L585.22,213.85 L585.88,212.62 L586.54,211.56 L587.2,210.66 L587.86,209.93 L588.52,209.38 L589.18,209.01 L589.84,208.82 L590.49,208.82 L591.15,209.01 L591.81,209.38 L592.47,209.93 L593.13,210.66 L593.79,211.56 L594.45,212.62 L595.11,213.85 L595.77,215.22 L596.43,216.72 L597.09,218.36 L597.74,220.11 L598.4,221.97 L599.06,223.92 L599.72,225.95 L600.38,228.05 L601.04,230.2 L601.7,232.39 L602.36,234.61 L603.02,236.84 L603.68,239.08 L604.34,241.31 L605,243.53 L605.65,245.72 L606.31,247.87 L606.97,249.97 L607.63,252.02 L608.29,254.02 L608.95,255.95 L609.61,257.81 L610.27,259.59 L610.93,261.3 L611.59,262.92 L612.25,264.47 L612.9,265.93 L613.56,267.31 L614.22,268.61 L614.88,269.82 L615.54,270.96 L616.2,272.01 L616.86,273 L617.52,273.9 L618.18,274.74 L618.84,275.51 L619.5,276.21 L620.16,276.86 L620.81,277.45 L621.47,277.98 L622.13,278.46 L622.79,278.9 L623.45,279.29 L624.11,279.64 L624.77,279.96 L625.43,280.24 L626.09,280.49 L626.75,280.71 L627.41,280.91 L628.06,281.08 L628.72,281.24 L629.38,281.37 L630.04,281.49 L630.7,281.59 L631.36,281.68 L632.02,281.75 L632.68,281.82 L633.34,281.88 L634,281.93 L634.66,281.97 L635.32,282.01 L635.97,282.04 L636.63,282.06 L637.29,282.09 L637.95,282.11 L638.61,282.12 L639.27,282.13 L639.93,282.15 L640.59,282.16 L641.25,282.16 L641.91,282.17 L642.57,282.18" stroke="#9467bd" stroke-linecap="square"/>
<path d="M553.04,282.17 L553.66,282.17 L554.29,282.16 L554.91,282.15 L555.53,282.14 L556.15,282.13 L556.77,282.12 L557.39,282.1 L558.01,282.08 L558.63,282.06 L559.26,282.03 L559.88,281.99 L560.5,281.96 L561.12,281.91 L561.74,281.86 L562.36,281.8 L562.98,281.73 L563.6,281.65 L564.22,281.55 L564.85,281.44 L565.47,281.32 L566.09,281.18 L566.71,281.01 L567.33,280.83 L567.95,280.62 L568.57,280.39 L569.19,280.12 L569.82,279.82 L570.44,279.49 L571.06,279.11 L571.68,278.7 L572.3,278.23 L572.92,277.72 L573.54,277.16 L574.16,276.53 L574.79,275.85 L575.41,275.1 L576.03,274.28 L576.65,273.4 L577.27,272.43 L577.89,271.39 L578.51,270.27 L579.13,269.07 L579.76,267.78 L580.38,266.4 L581,264.94 L581.62,263.39 L582.24,261.75 L582.86,260.02 L583.48,258.21 L584.1,256.32 L584.73,254.35 L585.35,252.3 L585.97,250.18 L586.59,248.01 L587.21,245.77 L587.83,243.49 L588.45,241.17 L589.07,238.82 L589.7,236.45 L590.32,234.07 L590.94,231.7 L591.56,229.35 L592.18,227.02 L592.8,224.74 L593.42,222.52 L594.04,220.37 L594.67,218.3 L595.29,216.33 L595.91,214.47 L596.53,212.73 L597.15,211.13 L597.77,209.68 L598.39,208.38 L599.01,207.25 L599.64,206.29 L600.26,205.52 L600.88,204.94 L601.5,204.55 L602.12,204.35 L602.74,204.35 L603.36,204.55 L603.98,204.94 L604.61,205.52 L605.23,206.29 L605.85,207.25 L606.47,208.38 L607.09,209.68 L607.71,211.13 L608.33,212.73 L608.95,214.47 L609.58,216.33 L610.2,218.3 L610.82,220.37 L611.44,222.52 L612.06,224.74 L612.68,227.02 L613.3,229.35 L613.92,231.7 L614.55,234.07 L615.17,236.45 L615.79,238.82 L616.41,241.17 L617.03,243.49 L617.65,245.77 L618.27,248.01 L618.89,250.18 L619.52,252.3 L620.14,254.35 L620.76,256.32 L621.38,258.21 L622,260.02 L622.62,261.75 L623.24,263.39 L623.86,264.94 L624.49,266.4 L625.11,267.78 L625.73,269.07 L626.35,270.27 L626.97,271.39 L627.59,272.43 L628.21,273.4 L628.83,274.28 L629.45,275.1 L630.08,275.85 L630.7,276.53 L631.32,277.16 L631.94,277.72 L632.56,278.23 L633.18,278.7 L633.8,279.11 L634.42,279.49 L635.05,279.82 L635.67,280.12 L636.29,280.39 L636.91,280.62 L637.53,280.83 L638.15,281.01 L638.77,281.18 L639.39,281.32 L640.02,281.44 L640.64,281.55 L641.26,281.65 L641.88,281.73 L642.5,281.8 L643.12,281.86 L643.74,281.91 L644.36,281.96 L644.99,281.99 L645.61,282.03 L646.23,282.06 L646.85,282.08 L647.47,282.1 L648.09,282.12 L648.71,282.13 L649.33,282.14 L649.96,282.15 L650.58,282.16 L651.2,282.17 L651.82,282.17" stroke="#8c564b" stroke-linecap="square"/>
<path d="M514.52,282.19 L515.64,282.18 L516.75,282.18 L517.86,282.17 L518.98,282.17 L520.09,282.16 L521.21,282.15 L522.32,282.14 L523.43,282.13 L524.55,282.12 L525.66,282.1 L526.77,282.09 L527.89,282.06 L529,282.04 L530.12,282.01 L531.23,281.98 L532.34,281.94 L533.46,281.89 L534.57,281.84 L535.69,281.78 L536.8,281.71 L537.91,281.63 L539.03,281.54 L540.14,281.44 L541.26,281.32 L542.37,281.19 L543.48,281.04 L544.6,280.87 L545.71,280.69 L546.82,280.48 L547.94,280.25 L549.05,279.99 L550.17,279.7 L551.28,279.39 L552.39,279.04 L553.51,278.66 L554.62,278.24 L555.74,277.79 L556.85,277.29 L557.96,276.75 L559.08,276.17 L560.19,275.55 L561.31,274.88 L562.42,274.16 L563.53,273.39 L564.65,272.57 L565.76,271.71 L566.88,270.79 L567.99,269.83 L569.1,268.82 L570.22,267.76 L571.33,266.67 L572.44,265.52 L573.56,264.34 L574.67,263.13 L575.79,261.88 L576.9,260.61 L578.01,259.32 L579.13,258.01 L580.24,256.68 L581.36,255.36 L582.47,254.04 L583.58,252.72 L584.7,251.43 L585.81,250.16 L586.93,248.92 L588.04,247.71 L589.15,246.56 L590.27,245.46 L591.38,244.42 L592.49,243.46 L593.61,242.56 L594.72,241.75 L595.84,241.03 L596.95,240.4 L598.06,239.87 L599.18,239.44 L600.29,239.11 L601.41,238.89 L602.52,238.78 L603.63,238.78 L604.75,238.89 L605.86,239.11 L606.98,239.44 L608.09,239.87 L609.2,240.4 L610.32,241.03 L611.43,241.75 L612.54,242.56 L613.66,243.46 L614.77,244.42 L615.89,245.46 L617,246.56 L618.11,247.71 L619.23,248.92 L620.34,250.16 L621.46,251.43 L622.57,252.72 L623.68,254.04 L624.8,255.36 L625.91,256.68 L627.03,258.01 L628.14,259.32 L629.25,260.61 L630.37,261.88 L631.48,263.13 L632.59,264.34 L633.71,265.52 L634.82,266.67 L635.94,267.76 L637.05,268.82 L638.16,269.83 L639.28,270.79 L640.39,271.71 L641.51,272.57 L642.62,273.39 L643.73,274.16 L644.85,274.88 L645.96,275.55 L647.08,276.17 L648.19,276.75 L649.3,277.29 L650.42,277.79 L651.53,278.24 L652.65,278.66 L653.76,279.04 L654.87,279.39 L655.99,279.7 L657.1,279.99 L658.21,280.25 L659.33,280.48 L660.44,280.69 L661.56,280.87 L662.67,281.04 L663.78,281.19 L664.9,281.32 L666.01,281.44 L667.13,281.54 L668.24,281.63 L669.35,281.71 L670.47,281.78 L671.58,281.84 L672.7,281.89 L673.81,281.94 L674.92,281.98 L676.04,282.01 L677.15,282.04 L678.26,282.06 L679.38,282.09 L680.49,282.1 L681.61,282.12 L682.72,282.13 L683.83,282.14 L684.95,282.15 L686.06,282.16 L687.18,282.17 L688.29,282.17 L689.4,282.18 L690.52,282.18 L691.63,282.19" stroke="#e377c2" stroke-linecap="square"/>
<path d="M546.91,282.18 L547.68,282.17 L548.44,282.17 L549.21,282.16 L549.97,282.15 L550.74,282.14 L551.51,282.13 L552.27,282.12 L553.04,282.1 L553.8,282.08 L554.57,282.06 L555.34,282.03 L556.1,282 L556.87,281.97 L557.63,281.92 L558.4,281.87 L559.17,281.82 L559.93,281.75 L560.7,281.67 L561.46,281.59 L562.23,281.49 L563,281.37 L563.76,281.24 L564.53,281.09 L565.29,280.92 L566.06,280.73 L566.83,280.51 L567.59,280.27 L568.36,280 L569.13,279.7 L569.89,279.36 L570.66,278.98 L571.42,278.57 L572.19,278.11 L572.96,277.6 L573.72,277.05 L574.49,276.44 L575.25,275.78 L576.02,275.06 L576.79,274.28 L577.55,273.44 L578.32,272.53 L579.08,271.55 L579.85,270.5 L580.62,269.39 L581.38,268.2 L582.15,266.94 L582.91,265.61 L583.68,264.21 L584.45,262.75 L585.21,261.21 L585.98,259.61 L586.74,257.95 L587.51,256.24 L588.28,254.47 L589.04,252.66 L589.81,250.81 L590.57,248.93 L591.34,247.02 L592.11,245.1 L592.87,243.17 L593.64,241.25 L594.41,239.34 L595.17,237.46 L595.94,235.61 L596.7,233.8 L597.47,232.06 L598.24,230.38 L599,228.78 L599.77,227.27 L600.53,225.86 L601.3,224.57 L602.07,223.39 L602.83,222.33 L603.6,221.42 L604.36,220.64 L605.13,220.02 L605.9,219.54 L606.66,219.23 L607.43,219.07 L608.19,219.07 L608.96,219.23 L609.73,219.54 L610.49,220.02 L611.26,220.64 L612.02,221.42 L612.79,222.33 L613.56,223.39 L614.32,224.57 L615.09,225.86 L615.85,227.27 L616.62,228.78 L617.39,230.38 L618.15,232.06 L618.92,233.8 L619.68,235.61 L620.45,237.46 L621.22,239.34 L621.98,241.25 L622.75,243.17 L623.52,245.1 L624.28,247.02 L625.05,248.93 L625.81,250.81 L626.58,252.66 L627.35,254.47 L628.11,256.24 L628.88,257.95 L629.64,259.61 L630.41,261.21 L631.18,262.75 L631.94,264.21 L632.71,265.61 L633.47,266.94 L634.24,268.2 L635.01,269.39 L635.77,270.5 L636.54,271.55 L637.3,272.53 L638.07,273.44 L638.84,274.28 L639.6,275.06 L640.37,275.78 L641.13,276.44 L641.9,277.05 L642.67,277.6 L643.43,278.11 L644.2,278.57 L644.96,278.98 L645.73,279.36 L646.5,279.7 L647.26,280 L648.03,280.27 L648.8,280.51 L649.56,280.73 L650.33,280.92 L651.09,281.09 L651.86,281.24 L652.63,281.37 L653.39,281.49 L654.16,281.59 L654.92,281.67 L655.69,281.75 L656.46,281.82 L657.22,281.87 L657.99,281.92 L658.75,281.97 L659.52,282 L660.29,282.03 L661.05,282.06 L661.82,282.08 L662.58,282.1 L663.35,282.12 L664.12,282.13 L664.88,282.14 L665.65,282.15 L666.41,282.16 L667.18,282.17 L667.95,282.17 L668.71,282.18" stroke="#7f7f7f" stroke-linecap="square"/>
<path d="M535.72,282.18 L536.56,282.18 L537.41,282.17 L538.25,282.17 L539.09,282.16 L539.94,282.15 L540.78,282.14 L541.62,282.13 L542.46,282.11 L543.31,282.09 L544.15,282.07 L544.99,282.05 L545.84,282.02 L546.68,281.99 L547.52,281.95 L548.37,281.9 L549.21,281.85 L550.05,281.79 L550.9,281.72 L551.74,281.64 L552.58,281.55 L553.43,281.45 L554.27,281.33 L555.11,281.19 L555.96,281.04 L556.8,280.86 L557.64,280.67 L558.49,280.45 L559.33,280.2 L560.17,279.93 L561.02,279.62 L561.86,279.28 L562.7,278.9 L563.54,278.48 L564.39,278.02 L565.23,277.52 L566.07,276.97 L566.92,276.37 L567.76,275.71 L568.6,275 L569.45,274.24 L570.29,273.41 L571.13,272.52 L571.98,271.57 L572.82,270.56 L573.66,269.48 L574.51,268.34 L575.35,267.13 L576.19,265.86 L577.04,264.53 L577.88,263.13 L578.72,261.68 L579.57,260.17 L580.41,258.61 L581.25,257.01 L582.1,255.36 L582.94,253.68 L583.78,251.97 L584.62,250.24 L585.47,248.49 L586.31,246.74 L587.15,245 L588,243.26 L588.84,241.55 L589.68,239.87 L590.53,238.23 L591.37,236.64 L592.21,235.12 L593.06,233.67 L593.9,232.3 L594.74,231.02 L595.59,229.84 L596.43,228.77 L597.27,227.81 L598.12,226.98 L598.96,226.28 L599.8,225.71 L600.65,225.28 L601.49,224.99 L602.33,224.84 L603.18,224.84 L604.02,224.99 L604.86,225.28 L605.71,225.71 L606.55,226.28 L607.39,226.98 L608.23,227.81 L609.08,228.77 L609.92,229.84 L610.76,231.02 L611.61,232.3 L612.45,233.67 L613.29,235.12 L614.14,236.64 L614.98,238.23 L615.82,239.87 L616.67,241.55 L617.51,243.26 L618.35,245 L619.2,246.74 L620.04,248.49 L620.88,250.24 L621.73,251.97 L622.57,253.68 L623.41,255.36 L624.26,257.01 L625.1,258.61 L625.94,260.17 L626.79,261.68 L627.63,263.13 L628.47,264.53 L629.31,265.86 L630.16,267.13 L631,268.34 L631.84,269.48 L632.69,270.56 L633.53,271.57 L634.37,272.52 L635.22,273.41 L636.06,274.24 L636.9,275 L637.75,275.71 L638.59,276.37 L639.43,276.97 L640.28,277.52 L641.12,278.02 L641.96,278.48 L642.81,278.9 L643.65,279.28 L644.49,279.62 L645.34,279.93 L646.18,280.2 L647.02,280.45 L647.87,280.67 L648.71,280.86 L649.55,281.04 L650.39,281.19 L651.24,281.33 L652.08,281.45 L652.92,281.55 L653.77,281.64 L654.61,281.72 L655.45,281.79 L656.3,281.85 L657.14,281.9 L657.98,281.95 L658.83,281.99 L659.67,282.02 L660.51,282.05 L661.36,282.07 L662.2,282.09 L663.04,282.11 L663.89,282.13 L664.73,282.14 L665.57,282.15 L666.42,282.16 L667.26,282.17 L668.1,282.17 L668.95,282.18 L669.79,282.18" stroke="#bcbd22" stroke-linecap="square"/>
<path d="M557.35,282.17 L557.91,282.17 L558.48,282.16 L559.05,282.15 L559.62,282.14 L560.18,282.12 L560.75,282.11 L561.32,282.09 L561.88,282.07 L562.45,282.04 L563.02,282.01 L563.58,281.98 L564.15,281.93 L564.72,281.88 L565.29,281.83 L565.85,281.76 L566.42,281.68 L566.99,281.59 L567.55,281.49 L568.12,281.37 L568.69,281.23 L569.26,281.08 L569.82,280.9 L570.39,280.7 L570.96,280.47 L571.52,280.21 L572.09,279.92 L572.66,279.59 L573.23,279.23 L573.79,278.82 L574.36,278.36 L574.93,277.86 L575.49,277.29 L576.06,276.67 L576.63,275.99 L577.2,275.24 L577.76,274.42 L578.33,273.53 L578.9,272.56 L579.46,271.5 L580.03,270.36 L580.6,269.13 L581.16,267.81 L581.73,266.4 L582.3,264.89 L582.87,263.29 L583.43,261.59 L584,259.79 L584.57,257.9 L585.13,255.92 L585.7,253.85 L586.27,251.69 L586.84,249.44 L587.4,247.13 L587.97,244.74 L588.54,242.29 L589.1,239.79 L589.67,237.25 L590.24,234.68 L590.81,232.08 L591.37,229.48 L591.94,226.88 L592.51,224.3 L593.07,221.76 L593.64,219.26 L594.21,216.82 L594.78,214.46 L595.34,212.2 L595.91,210.04 L596.48,208 L597.04,206.1 L597.61,204.34 L598.18,202.75 L598.74,201.33 L599.31,200.09 L599.88,199.05 L600.45,198.2 L601.01,197.56 L601.58,197.13 L602.15,196.92 L602.71,196.92 L603.28,197.13 L603.85,197.56 L604.42,198.2 L604.98,199.05 L605.55,200.09 L606.12,201.33 L606.68,202.75 L607.25,204.34 L607.82,206.1 L608.39,208 L608.95,210.04 L609.52,212.2 L610.09,214.46 L610.65,216.82 L611.22,219.26 L611.79,221.76 L612.36,224.3 L612.92,226.88 L613.49,229.48 L614.06,232.08 L614.62,234.68 L615.19,237.25 L615.76,239.79 L616.33,242.29 L616.89,244.74 L617.46,247.13 L618.03,249.44 L618.59,251.69 L619.16,253.85 L619.73,255.92 L620.29,257.9 L620.86,259.79 L621.43,261.59 L622,263.29 L622.56,264.89 L623.13,266.4 L623.7,267.81 L624.26,269.13 L624.83,270.36 L625.4,271.5 L625.97,272.56 L626.53,273.53 L627.1,274.42 L627.67,275.24 L628.23,275.99 L628.8,276.67 L629.37,277.29 L629.94,277.86 L630.5,278.36 L631.07,278.82 L631.64,279.23 L632.2,279.59 L632.77,279.92 L633.34,280.21 L633.91,280.47 L634.47,280.7 L635.04,280.9 L635.61,281.08 L636.17,281.23 L636.74,281.37 L637.31,281.49 L637.87,281.59 L638.44,281.68 L639.01,281.76 L639.58,281.83 L640.14,281.88 L640.71,281.93 L641.28,281.98 L641.84,282.01 L642.41,282.04 L642.98,282.07 L643.55,282.09 L644.11,282.11 L644.68,282.12 L645.25,282.14 L645.81,282.15 L646.38,282.16 L646.95,282.17 L647.52,282.17" stroke="#17becf" stroke-linecap="square"/>
<path d="M562.73,282.17 L563.27,282.16 L563.81,282.16 L564.35,282.15 L564.89,282.13 L565.43,282.12 L565.97,282.1 L566.52,282.08 L567.06,282.06 L567.6,282.03 L568.14,282 L568.68,281.96 L569.22,281.92 L569.76,281.87 L570.31,281.81 L570.85,281.74 L571.39,281.66 L571.93,281.56 L572.47,281.46 L573.01,281.33 L573.55,281.19 L574.1,281.03 L574.64,280.84 L575.18,280.63 L575.72,280.39 L576.26,280.12 L576.8,279.81 L577.34,279.47 L577.89,279.09 L578.43,278.66 L578.97,278.18 L579.51,277.65 L580.05,277.06 L580.59,276.41 L581.13,275.7 L581.68,274.91 L582.22,274.05 L582.76,273.12 L583.3,272.1 L583.84,270.99 L584.38,269.8 L584.92,268.51 L585.46,267.13 L586.01,265.65 L586.55,264.07 L587.09,262.39 L587.63,260.61 L588.17,258.73 L588.71,256.75 L589.25,254.67 L589.8,252.5 L590.34,250.24 L590.88,247.89 L591.42,245.46 L591.96,242.96 L592.5,240.4 L593.04,237.78 L593.59,235.12 L594.13,232.42 L594.67,229.7 L595.21,226.98 L595.75,224.25 L596.29,221.55 L596.83,218.89 L597.38,216.27 L597.92,213.72 L598.46,211.25 L599,208.87 L599.54,206.61 L600.08,204.48 L600.62,202.48 L601.16,200.65 L601.71,198.98 L602.25,197.49 L602.79,196.19 L603.33,195.1 L603.87,194.21 L604.41,193.54 L604.95,193.09 L605.5,192.87 L606.04,192.87 L606.58,193.09 L607.12,193.54 L607.66,194.21 L608.2,195.1 L608.74,196.19 L609.29,197.49 L609.83,198.98 L610.37,200.65 L610.91,202.48 L611.45,204.48 L611.99,206.61 L612.53,208.87 L613.08,211.25 L613.62,213.72 L614.16,216.27 L614.7,218.89 L615.24,221.55 L615.78,224.25 L616.32,226.98 L616.87,229.7 L617.41,232.42 L617.95,235.12 L618.49,237.78 L619.03,240.4 L619.57,242.96 L620.11,245.46 L620.65,247.89 L621.2,250.24 L621.74,252.5 L622.28,254.67 L622.82,256.75 L623.36,258.73 L623.9,260.61 L624.44,262.39 L624.99,264.07 L625.53,265.65 L626.07,267.13 L626.61,268.51 L627.15,269.8 L627.69,270.99 L628.23,272.1 L628.78,273.12 L629.32,274.05 L629.86,274.91 L630.4,275.7 L630.94,276.41 L631.48,277.06 L632.02,277.65 L632.57,278.18 L633.11,278.66 L633.65,279.09 L634.19,279.47 L634.73,279.81 L635.27,280.12 L635.81,280.39 L636.35,280.63 L636.9,280.84 L637.44,281.03 L637.98,281.19 L638.52,281.33 L639.06,281.46 L639.6,281.56 L640.14,281.66 L640.69,281.74 L641.23,281.81 L641.77,281.87 L642.31,281.92 L642.85,281.96 L643.39,282 L643.93,282.03 L644.48,282.06 L645.02,282.08 L645.56,282.1 L646.1,282.12 L646.64,282.13 L647.18,282.15 L647.72,282.16 L648.27,282.16 L648.81,282.17" stroke="#000" stroke-dasharray="17.34 7.5"/>
</g>
<g clip-path="url(#cc)" fill="none" stroke-width="4.69" stroke-linejoin="round">
<path d="M914.48,282.17 L915.31,282.16 L916.14,282.15 L916.97,282.14 L917.8,282.13 L918.63,282.12 L919.46,282.1 L920.29,282.08 L921.12,282.05 L921.96,282.02 L922.79,281.99 L923.62,281.95 L924.45,281.9 L925.28,281.85 L926.11,281.78 L926.94,281.71 L927.77,281.62 L928.6,281.52 L929.43,281.41 L930.26,281.28 L931.09,281.13 L931.93,280.95 L932.76,280.76 L933.59,280.53 L934.42,280.28 L935.25,279.99 L936.08,279.67 L936.91,279.3 L937.74,278.9 L938.57,278.44 L939.4,277.93 L940.23,277.37 L941.06,276.74 L941.9,276.06 L942.73,275.3 L943.56,274.46 L944.39,273.55 L945.22,272.56 L946.05,271.48 L946.88,270.3 L947.71,269.03 L948.54,267.67 L949.37,266.2 L950.2,264.63 L951.03,262.95 L951.87,261.17 L952.7,259.28 L953.53,257.28 L954.36,255.18 L955.19,252.97 L956.02,250.67 L956.85,248.27 L957.68,245.77 L958.51,243.2 L959.34,240.54 L960.17,237.82 L961,235.04 L961.84,232.21 L962.67,229.35 L963.5,226.47 L964.33,223.57 L965.16,220.68 L965.99,217.81 L966.82,214.98 L967.65,212.2 L968.48,209.5 L969.31,206.87 L970.14,204.35 L970.97,201.95 L971.8,199.69 L972.64,197.57 L973.47,195.62 L974.3,193.85 L975.13,192.27 L975.96,190.89 L976.79,189.73 L977.62,188.79 L978.45,188.08 L979.28,187.6 L980.11,187.36 L980.94,187.36 L981.77,187.6 L982.61,188.08 L983.44,188.79 L984.27,189.73 L985.1,190.89 L985.93,192.27 L986.76,193.85 L987.59,195.62 L988.42,197.57 L989.25,199.69 L990.08,201.95 L990.91,204.35 L991.74,206.87 L992.58,209.5 L993.41,212.2 L994.24,214.98 L995.07,217.81 L995.9,220.68 L996.73,223.57 L997.56,226.47 L998.39,229.35 L999.22,232.21 L1000.05,235.04 L1000.88,237.82 L1001.71,240.54 L1002.55,243.2 L1003.38,245.77 L1004.21,248.27 L1005.04,250.67 L1005.87,252.97 L1006.7,255.18 L1007.53,257.28 L1008.36,259.28 L1009.19,261.17 L1010.02,262.95 L1010.85,264.63 L1011.68,266.2 L1012.52,267.67 L1013.35,269.03 L1014.18,270.3 L1015.01,271.48 L1015.84,272.56 L1016.67,273.55 L1017.5,274.46 L1018.33,275.3 L1019.16,276.06 L1019.99,276.74 L1020.82,277.37 L1021.65,277.93 L1022.49,278.44 L1023.32,278.9 L1024.15,279.3 L1024.98,279.67 L1025.81,279.99 L1026.64,280.28 L1027.47,280.53 L1028.3,280.76 L1029.13,280.95 L1029.96,281.13 L1030.79,281.28 L1031.62,281.41 L1032.45,281.52 L1033.29,281.62 L1034.12,281.71 L1034.95,281.78 L1035.78,281.85 L1036.61,281.9 L1037.44,281.95 L1038.27,281.99 L1039.1,282.02 L1039.93,282.05 L1040.76,282.08 L1041.59,282.1 L1042.42,282.12 L1043.26,282.13 L1044.09,282.14 L1044.92,282.15 L1045.75,282.16 L1046.58,282.17" stroke="#1f77b4" stroke-linecap="square"/>
<path d="M928.05,282.18 L929.12,282.17 L930.19,282.16 L931.26,282.16 L932.33,282.15 L933.4,282.13 L934.47,282.12 L935.54,282.1 L936.61,282.09 L937.68,282.06 L938.75,282.04 L939.82,282.01 L940.89,281.97 L941.96,281.93 L943.03,281.88 L944.1,281.82 L945.17,281.75 L946.24,281.68 L947.31,281.59 L948.38,281.48 L949.45,281.37 L950.52,281.23 L951.59,281.08 L952.66,280.9 L953.73,280.71 L954.8,280.48 L955.87,280.23 L956.94,279.95 L958.01,279.63 L959.08,279.28 L960.14,278.89 L961.21,278.45 L962.28,277.96 L963.35,277.43 L964.42,276.84 L965.49,276.19 L966.56,275.48 L967.63,274.71 L968.7,273.87 L969.77,272.96 L970.84,271.98 L971.91,270.91 L972.98,269.78 L974.05,268.56 L975.12,267.25 L976.19,265.87 L977.26,264.4 L978.33,262.85 L979.4,261.22 L980.47,259.5 L981.54,257.71 L982.61,255.85 L983.68,253.91 L984.75,251.91 L985.82,249.85 L986.89,247.74 L987.96,245.58 L989.03,243.38 L990.1,241.16 L991.17,238.92 L992.24,236.67 L993.31,234.43 L994.38,232.2 L995.45,230 L996.52,227.84 L997.59,225.74 L998.66,223.7 L999.73,221.74 L1000.8,219.88 L1001.87,218.12 L1002.94,216.48 L1004.01,214.96 L1005.08,213.59 L1006.15,212.36 L1007.22,211.29 L1008.29,210.39 L1009.36,209.66 L1010.43,209.1 L1011.5,208.73 L1012.57,208.55 L1013.64,208.55 L1014.71,208.73 L1015.78,209.1 L1016.85,209.66 L1017.92,210.39 L1018.99,211.29 L1020.06,212.36 L1021.13,213.59 L1022.19,214.96 L1023.26,216.48 L1024.33,218.12 L1025.4,219.88 L1026.47,221.74 L1027.54,223.7 L1028.61,225.74 L1029.68,227.84 L1030.75,230 L1031.82,232.2 L1032.89,234.43 L1033.96,236.67 L1035.03,238.92 L1036.1,241.16 L1037.17,243.38 L1038.24,245.58 L1039.31,247.74 L1040.38,249.85 L1041.45,251.91 L1042.52,253.91 L1043.59,255.85 L1044.66,257.71 L1045.73,259.5 L1046.8,261.22 L1047.87,262.85 L1048.94,264.4 L1050.01,265.87 L1051.08,267.25 L1052.15,268.56 L1053.22,269.78 L1054.29,270.91 L1055.36,271.98 L1056.43,272.96 L1057.5,273.87 L1058.57,274.71 L1059.64,275.48 L1060.71,276.19 L1061.78,276.84 L1062.85,277.43 L1063.92,277.96 L1064.99,278.45 L1066.06,278.89 L1067.13,279.28 L1068.2,279.63 L1069.27,279.95 L1070.34,280.23 L1071.41,280.48 L1072.48,280.71 L1073.55,280.9 L1074.62,281.08 L1075.69,281.23 L1076.76,281.37 L1077.83,281.48 L1078.9,281.59 L1079.97,281.68 L1081.04,281.75 L1082.11,281.82 L1083.17,281.88 L1084.24,281.93 L1085.31,281.97 L1086.38,282.01 L1087.45,282.04 L1088.52,282.06 L1089.59,282.09 L1090.66,282.1 L1091.73,282.12 L1092.8,282.13 L1093.87,282.15 L1094.94,282.16 L1096.01,282.16 L1097.08,282.17 L1098.15,282.18" stroke="#ff7f0e" stroke-linecap="square"/>
<path d="M973.24,282.15 L973.75,282.14 L974.26,282.12 L974.77,282.11 L975.28,282.09 L975.79,282.06 L976.3,282.03 L976.81,282 L977.32,281.96 L977.83,281.91 L978.34,281.86 L978.85,281.79 L979.36,281.72 L979.87,281.63 L980.38,281.52 L980.89,281.4 L981.4,281.26 L981.91,281.1 L982.42,280.91 L982.93,280.7 L983.44,280.45 L983.95,280.17 L984.46,279.85 L984.97,279.48 L985.48,279.07 L985.99,278.6 L986.5,278.07 L987.01,277.48 L987.52,276.81 L988.03,276.07 L988.54,275.25 L989.05,274.33 L989.56,273.31 L990.07,272.19 L990.58,270.95 L991.09,269.59 L991.6,268.11 L992.11,266.49 L992.62,264.72 L993.13,262.81 L993.64,260.75 L994.15,258.52 L994.66,256.13 L995.17,253.57 L995.68,250.84 L996.19,247.93 L996.7,244.85 L997.21,241.6 L997.72,238.17 L998.23,234.58 L998.74,230.82 L999.25,226.91 L999.76,222.84 L1000.27,218.65 L1000.78,214.32 L1001.29,209.89 L1001.8,205.36 L1002.31,200.75 L1002.82,196.09 L1003.33,191.38 L1003.84,186.67 L1004.35,181.96 L1004.86,177.29 L1005.37,172.67 L1005.88,168.15 L1006.39,163.73 L1006.9,159.46 L1007.41,155.35 L1007.92,151.44 L1008.43,147.75 L1008.94,144.3 L1009.45,141.12 L1009.96,138.23 L1010.47,135.66 L1010.98,133.42 L1011.49,131.52 L1012,129.99 L1012.51,128.83 L1013.02,128.05 L1013.52,127.66 L1014.03,127.66 L1014.54,128.05 L1015.05,128.83 L1015.56,129.99 L1016.07,131.52 L1016.58,133.42 L1017.09,135.66 L1017.6,138.23 L1018.11,141.12 L1018.62,144.3 L1019.13,147.75 L1019.64,151.44 L1020.15,155.35 L1020.66,159.46 L1021.17,163.73 L1021.68,168.15 L1022.19,172.67 L1022.7,177.29 L1023.21,181.96 L1023.72,186.67 L1024.23,191.38 L1024.74,196.09 L1025.25,200.75 L1025.76,205.36 L1026.27,209.89 L1026.78,214.32 L1027.29,218.65 L1027.8,222.84 L1028.31,226.91 L1028.82,230.82 L1029.33,234.58 L1029.84,238.17 L1030.35,241.6 L1030.86,244.85 L1031.37,247.93 L1031.88,250.84 L1032.39,253.57 L1032.9,256.13 L1033.41,258.52 L1033.92,260.75 L1034.43,262.81 L1034.94,264.72 L1035.45,266.49 L1035.96,268.11 L1036.47,269.59 L1036.98,270.95 L1037.49,272.19 L1038,273.31 L1038.51,274.33 L1039.02,275.25 L1039.53,276.07 L1040.04,276.81 L1040.55,277.48 L1041.06,278.07 L1041.57,278.6 L1042.08,279.07 L1042.59,279.48 L1043.1,279.85 L1043.61,280.17 L1044.12,280.45 L1044.63,280.7 L1045.14,280.91 L1045.65,281.1 L1046.16,281.26 L1046.67,281.4 L1047.18,281.52 L1047.69,281.63 L1048.2,281.72 L1048.71,281.79 L1049.22,281.86 L1049.73,281.91 L1050.24,281.96 L1050.75,282 L1051.26,282.03 L1051.77,282.06 L1052.28,282.09 L1052.79,282.11 L1053.3,282.12 L1053.81,282.14 L1054.31,282.15" stroke="#2ca02c" stroke-linecap="square"/>
<path d="M946.37,282.13 L946.73,282.11 L947.08,282.09 L947.43,282.06 L947.78,282.04 L948.14,282 L948.49,281.96 L948.84,281.91 L949.19,281.85 L949.55,281.79 L949.9,281.71 L950.25,281.61 L950.61,281.5 L950.96,281.37 L951.31,281.22 L951.66,281.05 L952.02,280.84 L952.37,280.61 L952.72,280.34 L953.08,280.03 L953.43,279.67 L953.78,279.26 L954.13,278.8 L954.49,278.27 L954.84,277.67 L955.19,277 L955.55,276.23 L955.9,275.38 L956.25,274.42 L956.6,273.35 L956.96,272.15 L957.31,270.82 L957.66,269.35 L958.02,267.73 L958.37,265.94 L958.72,263.98 L959.07,261.83 L959.43,259.49 L959.78,256.95 L960.13,254.18 L960.48,251.2 L960.84,247.98 L961.19,244.52 L961.54,240.83 L961.9,236.88 L962.25,232.68 L962.6,228.23 L962.95,223.52 L963.31,218.57 L963.66,213.38 L964.01,207.95 L964.37,202.29 L964.72,196.42 L965.07,190.35 L965.42,184.11 L965.78,177.7 L966.13,171.15 L966.48,164.49 L966.84,157.75 L967.19,150.96 L967.54,144.14 L967.89,137.34 L968.25,130.58 L968.6,123.92 L968.95,117.37 L969.31,110.99 L969.66,104.82 L970.01,98.88 L970.36,93.23 L970.72,87.89 L971.07,82.91 L971.42,78.32 L971.78,74.15 L972.13,70.43 L972.48,67.18 L972.83,64.45 L973.19,62.23 L973.54,60.55 L973.89,59.43 L974.24,58.86 L974.6,58.86 L974.95,59.43 L975.3,60.55 L975.66,62.23 L976.01,64.45 L976.36,67.18 L976.71,70.43 L977.07,74.15 L977.42,78.32 L977.77,82.91 L978.13,87.89 L978.48,93.23 L978.83,98.88 L979.18,104.82 L979.54,110.99 L979.89,117.37 L980.24,123.92 L980.6,130.58 L980.95,137.34 L981.3,144.14 L981.65,150.96 L982.01,157.75 L982.36,164.49 L982.71,171.15 L983.07,177.7 L983.42,184.11 L983.77,190.35 L984.12,196.42 L984.48,202.29 L984.83,207.95 L985.18,213.38 L985.53,218.57 L985.89,223.52 L986.24,228.23 L986.59,232.68 L986.95,236.88 L987.3,240.83 L987.65,244.52 L988,247.98 L988.36,251.2 L988.71,254.18 L989.06,256.95 L989.42,259.49 L989.77,261.83 L990.12,263.98 L990.47,265.94 L990.83,267.73 L991.18,269.35 L991.53,270.82 L991.89,272.15 L992.24,273.35 L992.59,274.42 L992.94,275.38 L993.3,276.23 L993.65,277 L994,277.67 L994.36,278.27 L994.71,278.8 L995.06,279.26 L995.41,279.67 L995.77,280.03 L996.12,280.34 L996.47,280.61 L996.82,280.84 L997.18,281.05 L997.53,281.22 L997.88,281.37 L998.24,281.5 L998.59,281.61 L998.94,281.71 L999.29,281.79 L999.65,281.85 L1000,281.91 L1000.35,281.96 L1000.71,282 L1001.06,282.04 L1001.41,282.06 L1001.76,282.09 L1002.12,282.11 L1002.47,282.13" stroke="#d62728" stroke-linecap="square"/>
<path d="M904.57,282.15 L905.12,282.14 L905.68,282.13 L906.23,282.11 L906.79,282.1 L907.34,282.07 L907.9,282.05 L908.45,282.02 L909,281.98 L909.56,281.94 L910.11,281.89 L910.67,281.83 L911.22,281.76 L911.78,281.67 L912.33,281.58 L912.88,281.47 L913.44,281.34 L913.99,281.19 L914.55,281.01 L915.1,280.82 L915.66,280.59 L916.21,280.33 L916.76,280.04 L917.32,279.7 L917.87,279.32 L918.43,278.89 L918.98,278.4 L919.54,277.86 L920.09,277.25 L920.64,276.56 L921.2,275.8 L921.75,274.96 L922.31,274.02 L922.86,272.99 L923.42,271.85 L923.97,270.6 L924.52,269.24 L925.08,267.75 L925.63,266.12 L926.19,264.37 L926.74,262.47 L927.3,260.42 L927.85,258.22 L928.4,255.86 L928.96,253.35 L929.51,250.68 L930.07,247.84 L930.62,244.85 L931.18,241.7 L931.73,238.39 L932.28,234.94 L932.84,231.33 L933.39,227.6 L933.95,223.74 L934.5,219.76 L935.05,215.68 L935.61,211.51 L936.16,207.27 L936.72,202.98 L937.27,198.66 L937.83,194.32 L938.38,189.99 L938.93,185.69 L939.49,181.44 L940.04,177.28 L940.6,173.22 L941.15,169.29 L941.71,165.51 L942.26,161.91 L942.81,158.51 L943.37,155.34 L943.92,152.42 L944.48,149.76 L945.03,147.4 L945.59,145.33 L946.14,143.59 L946.69,142.18 L947.25,141.11 L947.8,140.39 L948.36,140.03 L948.91,140.03 L949.47,140.39 L950.02,141.11 L950.57,142.18 L951.13,143.59 L951.68,145.33 L952.24,147.4 L952.79,149.76 L953.35,152.42 L953.9,155.34 L954.45,158.51 L955.01,161.91 L955.56,165.51 L956.12,169.29 L956.67,173.22 L957.23,177.28 L957.78,181.44 L958.33,185.69 L958.89,189.99 L959.44,194.32 L960,198.66 L960.55,202.98 L961.11,207.27 L961.66,211.51 L962.21,215.68 L962.77,219.76 L963.32,223.74 L963.88,227.6 L964.43,231.33 L964.99,234.94 L965.54,238.39 L966.09,241.7 L966.65,244.85 L967.2,247.84 L967.76,250.68 L968.31,253.35 L968.86,255.86 L969.42,258.22 L969.97,260.42 L970.53,262.47 L971.08,264.37 L971.64,266.12 L972.19,267.75 L972.74,269.24 L973.3,270.6 L973.85,271.85 L974.41,272.99 L974.96,274.02 L975.52,274.96 L976.07,275.8 L976.62,276.56 L977.18,277.25 L977.73,277.86 L978.29,278.4 L978.84,278.89 L979.4,279.32 L979.95,279.7 L980.5,280.04 L981.06,280.33 L981.61,280.59 L982.17,280.82 L982.72,281.01 L983.28,281.19 L983.83,281.34 L984.38,281.47 L984.94,281.58 L985.49,281.67 L986.05,281.76 L986.6,281.83 L987.16,281.89 L987.71,281.94 L988.26,281.98 L988.82,282.02 L989.37,282.05 L989.93,282.07 L990.48,282.1 L991.04,282.11 L991.59,282.13 L992.14,282.14 L992.7,282.15" stroke="#9467bd" stroke-linecap="square"/>
<path d="M932.89,282.15 L933.41,282.14 L933.94,282.12 L934.46,282.11 L934.98,282.09 L935.5,282.07 L936.03,282.04 L936.55,282.01 L937.07,281.97 L937.59,281.92 L938.11,281.87 L938.64,281.8 L939.16,281.73 L939.68,281.64 L940.2,281.54 L940.73,281.42 L941.25,281.28 L941.77,281.13 L942.29,280.94 L942.82,280.73 L943.34,280.49 L943.86,280.22 L944.38,279.9 L944.91,279.55 L945.43,279.14 L945.95,278.69 L946.47,278.17 L947,277.59 L947.52,276.94 L948.04,276.22 L948.56,275.41 L949.09,274.52 L949.61,273.52 L950.13,272.43 L950.65,271.22 L951.17,269.9 L951.7,268.45 L952.22,266.86 L952.74,265.14 L953.26,263.28 L953.79,261.26 L954.31,259.09 L954.83,256.75 L955.35,254.26 L955.88,251.59 L956.4,248.75 L956.92,245.75 L957.44,242.57 L957.97,239.23 L958.49,235.72 L959.01,232.05 L959.53,228.23 L960.06,224.27 L960.58,220.17 L961.1,215.95 L961.62,211.62 L962.14,207.2 L962.67,202.7 L963.19,198.15 L963.71,193.56 L964.23,188.96 L964.76,184.36 L965.28,179.8 L965.8,175.3 L966.32,170.88 L966.85,166.57 L967.37,162.4 L967.89,158.39 L968.41,154.57 L968.94,150.97 L969.46,147.6 L969.98,144.5 L970.5,141.68 L971.03,139.17 L971.55,136.98 L972.07,135.13 L972.59,133.64 L973.12,132.5 L973.64,131.74 L974.16,131.36 L974.68,131.36 L975.2,131.74 L975.73,132.5 L976.25,133.64 L976.77,135.13 L977.29,136.98 L977.82,139.17 L978.34,141.68 L978.86,144.5 L979.38,147.6 L979.91,150.97 L980.43,154.57 L980.95,158.39 L981.47,162.4 L982,166.57 L982.52,170.88 L983.04,175.3 L983.56,179.8 L984.09,184.36 L984.61,188.96 L985.13,193.56 L985.65,198.15 L986.17,202.7 L986.7,207.2 L987.22,211.62 L987.74,215.95 L988.26,220.17 L988.79,224.27 L989.31,228.23 L989.83,232.05 L990.35,235.72 L990.88,239.23 L991.4,242.57 L991.92,245.75 L992.44,248.75 L992.97,251.59 L993.49,254.26 L994.01,256.75 L994.53,259.09 L995.06,261.26 L995.58,263.28 L996.1,265.14 L996.62,266.86 L997.15,268.45 L997.67,269.9 L998.19,271.22 L998.71,272.43 L999.23,273.52 L999.76,274.52 L1000.28,275.41 L1000.8,276.22 L1001.32,276.94 L1001.85,277.59 L1002.37,278.17 L1002.89,278.69 L1003.41,279.14 L1003.94,279.55 L1004.46,279.9 L1004.98,280.22 L1005.5,280.49 L1006.03,280.73 L1006.55,280.94 L1007.07,281.13 L1007.59,281.28 L1008.12,281.42 L1008.64,281.54 L1009.16,281.64 L1009.68,281.73 L1010.21,281.8 L1010.73,281.87 L1011.25,281.92 L1011.77,281.97 L1012.29,282.01 L1012.82,282.04 L1013.34,282.07 L1013.86,282.09 L1014.38,282.11 L1014.91,282.12 L1015.43,282.14 L1015.95,282.15" stroke="#8c564b" stroke-linecap="square"/>
<path d="M901.31,282.17 L902.25,282.17 L903.19,282.16 L904.12,282.15 L905.06,282.14 L906,282.13 L906.93,282.11 L907.87,282.09 L908.81,282.07 L909.74,282.04 L910.68,282.01 L911.62,281.98 L912.55,281.94 L913.49,281.89 L914.43,281.83 L915.36,281.77 L916.3,281.69 L917.24,281.6 L918.17,281.5 L919.11,281.38 L920.05,281.25 L920.98,281.09 L921.92,280.92 L922.86,280.72 L923.79,280.49 L924.73,280.24 L925.67,279.95 L926.6,279.63 L927.54,279.27 L928.48,278.86 L929.41,278.41 L930.35,277.91 L931.29,277.36 L932.22,276.75 L933.16,276.08 L934.1,275.34 L935.03,274.53 L935.97,273.65 L936.91,272.69 L937.84,271.65 L938.78,270.52 L939.72,269.31 L940.65,268.01 L941.59,266.62 L942.53,265.13 L943.46,263.55 L944.4,261.87 L945.34,260.1 L946.27,258.23 L947.21,256.28 L948.15,254.23 L949.08,252.1 L950.02,249.89 L950.96,247.6 L951.89,245.25 L952.83,242.84 L953.77,240.37 L954.7,237.86 L955.64,235.32 L956.58,232.76 L957.51,230.2 L958.45,227.63 L959.39,225.09 L960.32,222.58 L961.26,220.11 L962.2,217.71 L963.13,215.39 L964.07,213.15 L965.01,211.02 L965.94,209.01 L966.88,207.13 L967.82,205.4 L968.75,203.83 L969.69,202.43 L970.63,201.21 L971.56,200.18 L972.5,199.34 L973.44,198.71 L974.37,198.29 L975.31,198.08 L976.25,198.08 L977.18,198.29 L978.12,198.71 L979.06,199.34 L979.99,200.18 L980.93,201.21 L981.87,202.43 L982.8,203.83 L983.74,205.4 L984.68,207.13 L985.61,209.01 L986.55,211.02 L987.49,213.15 L988.42,215.39 L989.36,217.71 L990.3,220.11 L991.23,222.58 L992.17,225.09 L993.11,227.63 L994.04,230.2 L994.98,232.76 L995.92,235.32 L996.85,237.86 L997.79,240.37 L998.73,242.84 L999.66,245.25 L1000.6,247.6 L1001.54,249.89 L1002.47,252.1 L1003.41,254.23 L1004.35,256.28 L1005.28,258.23 L1006.22,260.1 L1007.16,261.87 L1008.09,263.55 L1009.03,265.13 L1009.97,266.62 L1010.9,268.01 L1011.84,269.31 L1012.78,270.52 L1013.71,271.65 L1014.65,272.69 L1015.59,273.65 L1016.52,274.53 L1017.46,275.34 L1018.4,276.08 L1019.33,276.75 L1020.27,277.36 L1021.21,277.91 L1022.14,278.41 L1023.08,278.86 L1024.02,279.27 L1024.95,279.63 L1025.89,279.95 L1026.83,280.24 L1027.76,280.49 L1028.7,280.72 L1029.64,280.92 L1030.57,281.09 L1031.51,281.25 L1032.45,281.38 L1033.38,281.5 L1034.32,281.6 L1035.26,281.69 L1036.19,281.77 L1037.13,281.83 L1038.07,281.89 L1039,281.94 L1039.94,281.98 L1040.88,282.01 L1041.81,282.04 L1042.75,282.07 L1043.69,282.09 L1044.62,282.11 L1045.56,282.13 L1046.5,282.14 L1047.43,282.15 L1048.37,282.16 L1049.31,282.17 L1050.24,282.17" stroke="#e377c2" stroke-linecap="square"/>
<path d="M934.52,282.16 L935.16,282.15 L935.81,282.14 L936.45,282.13 L937.1,282.11 L937.74,282.09 L938.38,282.07 L939.03,282.04 L939.67,282.01 L940.32,281.97 L940.96,281.93 L941.61,281.88 L942.25,281.82 L942.89,281.75 L943.54,281.66 L944.18,281.57 L944.83,281.46 L945.47,281.33 L946.11,281.18 L946.76,281.01 L947.4,280.81 L948.05,280.59 L948.69,280.34 L949.34,280.05 L949.98,279.72 L950.62,279.35 L951.27,278.93 L951.91,278.46 L952.56,277.94 L953.2,277.35 L953.84,276.7 L954.49,275.97 L955.13,275.16 L955.78,274.27 L956.42,273.3 L957.07,272.22 L957.71,271.05 L958.35,269.76 L959,268.37 L959.64,266.85 L960.29,265.22 L960.93,263.46 L961.57,261.57 L962.22,259.54 L962.86,257.38 L963.51,255.08 L964.15,252.64 L964.8,250.06 L965.44,247.35 L966.08,244.51 L966.73,241.53 L967.37,238.43 L968.02,235.22 L968.66,231.9 L969.3,228.47 L969.95,224.96 L970.59,221.38 L971.24,217.73 L971.88,214.04 L972.53,210.32 L973.17,206.58 L973.81,202.86 L974.46,199.16 L975.1,195.51 L975.75,191.92 L976.39,188.43 L977.03,185.05 L977.68,181.8 L978.32,178.7 L978.97,175.78 L979.61,173.05 L980.26,170.53 L980.9,168.25 L981.54,166.21 L982.19,164.44 L982.83,162.94 L983.48,161.72 L984.12,160.8 L984.76,160.19 L985.41,159.88 L986.05,159.88 L986.7,160.19 L987.34,160.8 L987.99,161.72 L988.63,162.94 L989.27,164.44 L989.92,166.21 L990.56,168.25 L991.21,170.53 L991.85,173.05 L992.49,175.78 L993.14,178.7 L993.78,181.8 L994.43,185.05 L995.07,188.43 L995.72,191.92 L996.36,195.51 L997,199.16 L997.65,202.86 L998.29,206.58 L998.94,210.32 L999.58,214.04 L1000.23,217.73 L1000.87,221.38 L1001.51,224.96 L1002.16,228.47 L1002.8,231.9 L1003.45,235.22 L1004.09,238.43 L1004.73,241.53 L1005.38,244.51 L1006.02,247.35 L1006.67,250.06 L1007.31,252.64 L1007.96,255.08 L1008.6,257.38 L1009.24,259.54 L1009.89,261.57 L1010.53,263.46 L1011.18,265.22 L1011.82,266.85 L1012.46,268.37 L1013.11,269.76 L1013.75,271.05 L1014.4,272.22 L1015.04,273.3 L1015.69,274.27 L1016.33,275.16 L1016.97,275.97 L1017.62,276.7 L1018.26,277.35 L1018.91,277.94 L1019.55,278.46 L1020.19,278.93 L1020.84,279.35 L1021.48,279.72 L1022.13,280.05 L1022.77,280.34 L1023.42,280.59 L1024.06,280.81 L1024.7,281.01 L1025.35,281.18 L1025.99,281.33 L1026.64,281.46 L1027.28,281.57 L1027.92,281.66 L1028.57,281.75 L1029.21,281.82 L1029.86,281.88 L1030.5,281.93 L1031.15,281.97 L1031.79,282.01 L1032.43,282.04 L1033.08,282.07 L1033.72,282.09 L1034.37,282.11 L1035.01,282.13 L1035.65,282.14 L1036.3,282.15 L1036.94,282.16" stroke="#7f7f7f" stroke-linecap="square"/>
<path d="M918.73,282.16 L919.44,282.15 L920.15,282.14 L920.86,282.13 L921.57,282.12 L922.28,282.1 L922.98,282.08 L923.69,282.06 L924.4,282.03 L925.11,281.99 L925.82,281.95 L926.53,281.91 L927.24,281.85 L927.95,281.79 L928.66,281.71 L929.37,281.63 L930.08,281.52 L930.78,281.41 L931.49,281.27 L932.2,281.12 L932.91,280.94 L933.62,280.74 L934.33,280.51 L935.04,280.25 L935.75,279.95 L936.46,279.61 L937.17,279.23 L937.87,278.81 L938.58,278.33 L939.29,277.79 L940,277.2 L940.71,276.54 L941.42,275.81 L942.13,275 L942.84,274.11 L943.55,273.13 L944.26,272.07 L944.97,270.9 L945.67,269.63 L946.38,268.26 L947.09,266.77 L947.8,265.17 L948.51,263.45 L949.22,261.61 L949.93,259.65 L950.64,257.56 L951.35,255.34 L952.06,253 L952.76,250.54 L953.47,247.96 L954.18,245.25 L954.89,242.44 L955.6,239.52 L956.31,236.5 L957.02,233.39 L957.73,230.2 L958.44,226.94 L959.15,223.63 L959.86,220.28 L960.56,216.89 L961.27,213.5 L961.98,210.12 L962.69,206.76 L963.4,203.44 L964.11,200.18 L964.82,197.01 L965.53,193.94 L966.24,190.98 L966.95,188.17 L967.65,185.51 L968.36,183.03 L969.07,180.75 L969.78,178.67 L970.49,176.82 L971.2,175.21 L971.91,173.85 L972.62,172.74 L973.33,171.91 L974.04,171.35 L974.75,171.07 L975.45,171.07 L976.16,171.35 L976.87,171.91 L977.58,172.74 L978.29,173.85 L979,175.21 L979.71,176.82 L980.42,178.67 L981.13,180.75 L981.84,183.03 L982.54,185.51 L983.25,188.17 L983.96,190.98 L984.67,193.94 L985.38,197.01 L986.09,200.18 L986.8,203.44 L987.51,206.76 L988.22,210.12 L988.93,213.5 L989.64,216.89 L990.34,220.28 L991.05,223.63 L991.76,226.94 L992.47,230.2 L993.18,233.39 L993.89,236.5 L994.6,239.52 L995.31,242.44 L996.02,245.25 L996.73,247.96 L997.43,250.54 L998.14,253 L998.85,255.34 L999.56,257.56 L1000.27,259.65 L1000.98,261.61 L1001.69,263.45 L1002.4,265.17 L1003.11,266.77 L1003.82,268.26 L1004.53,269.63 L1005.23,270.9 L1005.94,272.07 L1006.65,273.13 L1007.36,274.11 L1008.07,275 L1008.78,275.81 L1009.49,276.54 L1010.2,277.2 L1010.91,277.79 L1011.62,278.33 L1012.32,278.81 L1013.03,279.23 L1013.74,279.61 L1014.45,279.95 L1015.16,280.25 L1015.87,280.51 L1016.58,280.74 L1017.29,280.94 L1018,281.12 L1018.71,281.27 L1019.42,281.41 L1020.12,281.52 L1020.83,281.63 L1021.54,281.71 L1022.25,281.79 L1022.96,281.85 L1023.67,281.91 L1024.38,281.95 L1025.09,281.99 L1025.8,282.03 L1026.51,282.06 L1027.21,282.08 L1027.92,282.1 L1028.63,282.12 L1029.34,282.13 L1030.05,282.14 L1030.76,282.15 L1031.47,282.16" stroke="#bcbd22" stroke-linecap="square"/>
<path d="M936.51,282.14 L936.99,282.13 L937.46,282.12 L937.94,282.1 L938.42,282.08 L938.89,282.05 L939.37,282.02 L939.85,281.99 L940.32,281.94 L940.8,281.89 L941.28,281.83 L941.76,281.76 L942.23,281.68 L942.71,281.59 L943.19,281.48 L943.66,281.35 L944.14,281.2 L944.62,281.02 L945.09,280.82 L945.57,280.59 L946.05,280.33 L946.52,280.03 L947,279.68 L947.48,279.29 L947.95,278.85 L948.43,278.35 L948.91,277.79 L949.39,277.15 L949.86,276.44 L950.34,275.65 L950.82,274.76 L951.29,273.78 L951.77,272.7 L952.25,271.49 L952.72,270.17 L953.2,268.72 L953.68,267.13 L954.15,265.4 L954.63,263.51 L955.11,261.47 L955.58,259.26 L956.06,256.88 L956.54,254.33 L957.02,251.59 L957.49,248.67 L957.97,245.56 L958.45,242.27 L958.92,238.79 L959.4,235.13 L959.88,231.28 L960.35,227.26 L960.83,223.08 L961.31,218.74 L961.78,214.25 L962.26,209.62 L962.74,204.88 L963.21,200.04 L963.69,195.11 L964.17,190.13 L964.65,185.1 L965.12,180.06 L965.6,175.02 L966.08,170.03 L966.55,165.09 L967.03,160.25 L967.51,155.53 L967.98,150.96 L968.46,146.57 L968.94,142.39 L969.41,138.44 L969.89,134.75 L970.37,131.36 L970.84,128.27 L971.32,125.52 L971.8,123.12 L972.28,121.09 L972.75,119.45 L973.23,118.21 L973.71,117.38 L974.18,116.96 L974.66,116.96 L975.14,117.38 L975.61,118.21 L976.09,119.45 L976.57,121.09 L977.04,123.12 L977.52,125.52 L978,128.27 L978.47,131.36 L978.95,134.75 L979.43,138.44 L979.91,142.39 L980.38,146.57 L980.86,150.96 L981.34,155.53 L981.81,160.25 L982.29,165.09 L982.77,170.03 L983.24,175.02 L983.72,180.06 L984.2,185.1 L984.67,190.13 L985.15,195.11 L985.63,200.04 L986.1,204.88 L986.58,209.62 L987.06,214.25 L987.54,218.74 L988.01,223.08 L988.49,227.26 L988.97,231.28 L989.44,235.13 L989.92,238.79 L990.4,242.27 L990.87,245.56 L991.35,248.67 L991.83,251.59 L992.3,254.33 L992.78,256.88 L993.26,259.26 L993.73,261.47 L994.21,263.51 L994.69,265.4 L995.16,267.13 L995.64,268.72 L996.12,270.17 L996.6,271.49 L997.07,272.7 L997.55,273.78 L998.03,274.76 L998.5,275.65 L998.98,276.44 L999.46,277.15 L999.93,277.79 L1000.41,278.35 L1000.89,278.85 L1001.36,279.29 L1001.84,279.68 L1002.32,280.03 L1002.79,280.33 L1003.27,280.59 L1003.75,280.82 L1004.23,281.02 L1004.7,281.2 L1005.18,281.35 L1005.66,281.48 L1006.13,281.59 L1006.61,281.68 L1007.09,281.76 L1007.56,281.83 L1008.04,281.89 L1008.52,281.94 L1008.99,281.99 L1009.47,282.02 L1009.95,282.05 L1010.42,282.08 L1010.9,282.1 L1011.38,282.12 L1011.86,282.13 L1012.33,282.14" stroke="#17becf" stroke-linecap="square"/>
<path d="M890.95,282.18 L892.09,282.17 L893.23,282.17 L894.37,282.16 L895.51,282.15 L896.64,282.14 L897.78,282.13 L898.92,282.11 L900.06,282.09 L901.2,282.07 L902.33,282.05 L903.47,282.02 L904.61,281.98 L905.75,281.94 L906.89,281.9 L908.03,281.84 L909.16,281.78 L910.3,281.71 L911.44,281.62 L912.58,281.53 L913.72,281.42 L914.85,281.29 L915.99,281.15 L917.13,280.98 L918.27,280.8 L919.41,280.59 L920.54,280.35 L921.68,280.09 L922.82,279.79 L923.96,279.46 L925.1,279.08 L926.23,278.67 L927.37,278.22 L928.51,277.71 L929.65,277.16 L930.79,276.55 L931.93,275.89 L933.06,275.16 L934.2,274.37 L935.34,273.51 L936.48,272.59 L937.62,271.59 L938.75,270.52 L939.89,269.37 L941.03,268.15 L942.17,266.85 L943.31,265.47 L944.44,264.01 L945.58,262.48 L946.72,260.87 L947.86,259.18 L949,257.43 L950.14,255.61 L951.27,253.73 L952.41,251.79 L953.55,249.8 L954.69,247.77 L955.83,245.71 L956.96,243.62 L958.1,241.51 L959.24,239.4 L960.38,237.29 L961.52,235.2 L962.65,233.13 L963.79,231.1 L964.93,229.13 L966.07,227.21 L967.21,225.37 L968.35,223.62 L969.48,221.96 L970.62,220.42 L971.76,219 L972.9,217.7 L974.04,216.55 L975.17,215.55 L976.31,214.7 L977.45,214.01 L978.59,213.49 L979.73,213.14 L980.86,212.97 L982,212.97 L983.14,213.14 L984.28,213.49 L985.42,214.01 L986.55,214.7 L987.69,215.55 L988.83,216.55 L989.97,217.7 L991.11,219 L992.25,220.42 L993.38,221.96 L994.52,223.62 L995.66,225.37 L996.8,227.21 L997.94,229.13 L999.07,231.1 L1000.21,233.13 L1001.35,235.2 L1002.49,237.29 L1003.63,239.4 L1004.76,241.51 L1005.9,243.62 L1007.04,245.71 L1008.18,247.77 L1009.32,249.8 L1010.46,251.79 L1011.59,253.73 L1012.73,255.61 L1013.87,257.43 L1015.01,259.18 L1016.15,260.87 L1017.28,262.48 L1018.42,264.01 L1019.56,265.47 L1020.7,266.85 L1021.84,268.15 L1022.97,269.37 L1024.11,270.52 L1025.25,271.59 L1026.39,272.59 L1027.53,273.51 L1028.67,274.37 L1029.8,275.16 L1030.94,275.89 L1032.08,276.55 L1033.22,277.16 L1034.36,277.71 L1035.49,278.22 L1036.63,278.67 L1037.77,279.08 L1038.91,279.46 L1040.05,279.79 L1041.18,280.09 L1042.32,280.35 L1043.46,280.59 L1044.6,280.8 L1045.74,280.98 L1046.87,281.15 L1048.01,281.29 L1049.15,281.42 L1050.29,281.53 L1051.43,281.62 L1052.57,281.71 L1053.7,281.78 L1054.84,281.84 L1055.98,281.9 L1057.12,281.94 L1058.26,281.98 L1059.39,282.02 L1060.53,282.05 L1061.67,282.07 L1062.81,282.09 L1063.95,282.11 L1065.08,282.13 L1066.22,282.14 L1067.36,282.15 L1068.5,282.16 L1069.64,282.17 L1070.78,282.17 L1071.91,282.18" stroke="#000" stroke-dasharray="17.34 7.5"/>
</g>
<g clip-path="url(#cd)">
<circle cx="286.9" cy="448.13" r="4.8" fill="#1f77b4"/>
<circle cx="275.69" cy="473.55" r="4.8" fill="#1f77b4"/>
<circle cx="234.09" cy="477.02" r="4.8" fill="#1f77b4"/>
<circle cx="275.11" cy="482.22" r="4.8" fill="#1f77b4"/>
<circle cx="238.13" cy="486.27" r="4.8" fill="#1f77b4"/>
<circle cx="308.91" cy="499.98" r="4.8" fill="#1f77b4"/>
<circle cx="279.73" cy="508.49" r="4.8" fill="#1f77b4"/>
<circle cx="294.75" cy="521.78" r="4.8" fill="#1f77b4"/>
<circle cx="287.24" cy="525.24" r="4.8" fill="#1f77b4"/>
<circle cx="264.13" cy="531.6" r="4.8" fill="#1f77b4"/>
<circle cx="278.58" cy="546.04" r="4.8" fill="#1f77b4"/>
<circle cx="259.51" cy="573.2" r="4.8" fill="#1f77b4"/>
<circle cx="279.73" cy="492.62" r="4.8" fill="#ff7f0e"/>
<circle cx="295.91" cy="494.93" r="4.8" fill="#ff7f0e"/>
<circle cx="265.87" cy="497.09" r="4.8" fill="#ff7f0e"/>
<circle cx="279.15" cy="520.62" r="4.8" fill="#ff7f0e"/>
<circle cx="247.61" cy="426.76" r="4.8" fill="#2ca02c"/>
<circle cx="260.09" cy="437.73" r="4.8" fill="#2ca02c"/>
<circle cx="262.4" cy="444.09" r="4.8" fill="#2ca02c"/>
<circle cx="271.64" cy="473.55" r="4.8" fill="#2ca02c"/>
<circle cx="271.07" cy="480.49" r="4.8" fill="#2ca02c"/>
<circle cx="280.89" cy="487.42" r="4.8" fill="#2ca02c"/>
<circle cx="289.55" cy="491.47" r="4.8" fill="#2ca02c"/>
<circle cx="246.22" cy="506.18" r="4.8" fill="#2ca02c"/>
<circle cx="246.22" cy="518.31" r="4.8" fill="#2ca02c"/>
<circle cx="286.67" cy="517.16" r="4.8" fill="#2ca02c"/>
<circle cx="290.13" cy="522.35" r="4.8" fill="#2ca02c"/>
<circle cx="278" cy="554.71" r="4.8" fill="#2ca02c"/>
<circle cx="258.93" cy="560.49" r="4.8" fill="#2ca02c"/>
<circle cx="245.3" cy="444.43" r="4.8" fill="#d62728"/>
<circle cx="261.24" cy="457.38" r="4.8" fill="#d62728"/>
<circle cx="248.53" cy="510.22" r="4.8" fill="#d62728"/>
<circle cx="265.29" cy="536.22" r="4.8" fill="#d62728"/>
<circle cx="270.49" cy="533.33" r="4.8" fill="#d62728"/>
<circle cx="253.15" cy="543.15" r="4.8" fill="#d62728"/>
<circle cx="249.46" cy="552.4" r="4.8" fill="#d62728"/>
<circle cx="236.98" cy="465.47" r="4.8" fill="#9467bd"/>
<circle cx="270.72" cy="464.31" r="4.8" fill="#9467bd"/>
<circle cx="228.89" cy="490.31" r="4.8" fill="#9467bd"/>
<circle cx="239.29" cy="485.11" r="4.8" fill="#9467bd"/>
<circle cx="228.02" cy="500.27" r="4.8" fill="#9467bd"/>
<circle cx="284.35" cy="510.8" r="4.8" fill="#9467bd"/>
<circle cx="271.64" cy="511.96" r="4.8" fill="#9467bd"/>
<circle cx="239.29" cy="516" r="4.8" fill="#9467bd"/>
<circle cx="217.91" cy="536.8" r="4.8" fill="#9467bd"/>
<circle cx="266.44" cy="472.4" r="4.8" fill="#8c564b"/>
<circle cx="287.82" cy="477.6" r="4.8" fill="#8c564b"/>
<circle cx="243.91" cy="481.07" r="4.8" fill="#8c564b"/>
<circle cx="237.55" cy="490.89" r="4.8" fill="#8c564b"/>
<circle cx="236.98" cy="494.62" r="4.8" fill="#8c564b"/>
<circle cx="252" cy="531.02" r="4.8" fill="#8c564b"/>
<circle cx="244.16" cy="494.79" r="4.8" fill="#8c564b"/>
<circle cx="276.5" cy="459.92" r="4.8" fill="#e377c2"/>
<circle cx="304.58" cy="462.92" r="4.8" fill="#e377c2"/>
<circle cx="240.67" cy="464.31" r="4.8" fill="#e377c2"/>
<circle cx="295.91" cy="481.07" r="4.8" fill="#e377c2"/>
<circle cx="260.09" cy="479.33" r="4.8" fill="#e377c2"/>
<circle cx="324.8" cy="492.62" r="4.8" fill="#e377c2"/>
<circle cx="248.53" cy="490.89" r="4.8" fill="#e377c2"/>
<circle cx="228.89" cy="520.62" r="4.8" fill="#e377c2"/>
<circle cx="294.18" cy="513.69" r="4.8" fill="#e377c2"/>
<circle cx="235.24" cy="528.71" r="4.8" fill="#e377c2"/>
<circle cx="256.25" cy="490.52" r="4.8" fill="#e377c2"/>
<circle cx="254.08" cy="455.3" r="4.8" fill="#7f7f7f"/>
<circle cx="249.11" cy="464.31" r="4.8" fill="#7f7f7f"/>
<circle cx="284.93" cy="470.09" r="4.8" fill="#7f7f7f"/>
<circle cx="249.69" cy="486.84" r="4.8" fill="#7f7f7f"/>
<circle cx="254.31" cy="483.95" r="4.8" fill="#7f7f7f"/>
<circle cx="246.22" cy="497.82" r="4.8" fill="#7f7f7f"/>
<circle cx="236.98" cy="506.76" r="4.8" fill="#7f7f7f"/>
<circle cx="247.38" cy="500.98" r="4.8" fill="#7f7f7f"/>
<circle cx="252" cy="511.96" r="4.8" fill="#7f7f7f"/>
<circle cx="267.6" cy="522.35" r="4.8" fill="#7f7f7f"/>
<circle cx="249.69" cy="528.13" r="4.8" fill="#7f7f7f"/>
<circle cx="254.31" cy="528.13" r="4.8" fill="#7f7f7f"/>
<circle cx="236.4" cy="453.33" r="4.8" fill="#bcbd22"/>
<circle cx="245.64" cy="458.53" r="4.8" fill="#bcbd22"/>
<circle cx="266.79" cy="453.91" r="4.8" fill="#bcbd22"/>
<circle cx="230.97" cy="468.35" r="4.8" fill="#bcbd22"/>
<circle cx="255.47" cy="465.47" r="4.8" fill="#bcbd22"/>
<circle cx="280.89" cy="477.02" r="4.8" fill="#bcbd22"/>
<circle cx="284.35" cy="500.27" r="4.8" fill="#bcbd22"/>
<circle cx="235.82" cy="502.71" r="4.8" fill="#bcbd22"/>
<circle cx="260.09" cy="505.6" r="4.8" fill="#bcbd22"/>
<circle cx="265.29" cy="505.02" r="4.8" fill="#bcbd22"/>
<circle cx="260.09" cy="517.73" r="4.8" fill="#bcbd22"/>
<circle cx="269.33" cy="529.87" r="4.8" fill="#bcbd22"/>
<circle cx="243.33" cy="542" r="4.8" fill="#bcbd22"/>
<circle cx="254" cy="612.5" r="4.8" fill="#bcbd22"/>
<circle cx="249.69" cy="439.81" r="4.8" fill="#17becf"/>
<circle cx="238.71" cy="456.22" r="4.8" fill="#17becf"/>
<circle cx="230.62" cy="459.46" r="4.8" fill="#17becf"/>
<circle cx="262.98" cy="466.04" r="4.8" fill="#17becf"/>
<circle cx="250.84" cy="471.24" r="4.8" fill="#17becf"/>
<circle cx="256.62" cy="471.24" r="4.8" fill="#17becf"/>
<circle cx="241.6" cy="475.29" r="4.8" fill="#17becf"/>
<circle cx="248.53" cy="477.02" r="4.8" fill="#17becf"/>
<circle cx="251.42" cy="479.91" r="4.8" fill="#17becf"/>
<circle cx="268.18" cy="486.84" r="4.8" fill="#17becf"/>
<circle cx="254.89" cy="496.8" r="4.8" fill="#17becf"/>
<circle cx="261.82" cy="493.33" r="4.8" fill="#17becf"/>
<circle cx="273.09" cy="499.98" r="4.8" fill="#17becf"/>
<circle cx="238.13" cy="521.78" r="4.8" fill="#17becf"/>
<circle cx="252.58" cy="521.2" r="4.8" fill="#17becf"/>
</g>
<g clip-path="url(#ce)">
<circle cx="634.12" cy="443.71" r="4.8" fill="#1f77b4"/>
<circle cx="585.24" cy="474.33" r="4.8" fill="#1f77b4"/>
<circle cx="623.38" cy="471.44" r="4.8" fill="#1f77b4"/>
<circle cx="631.47" cy="474.91" r="4.8" fill="#1f77b4"/>
<circle cx="590.44" cy="485.89" r="4.8" fill="#1f77b4"/>
<circle cx="654.58" cy="502.13" r="4.8" fill="#1f77b4"/>
<circle cx="627.42" cy="510.8" r="4.8" fill="#1f77b4"/>
<circle cx="634.35" cy="528.71" r="4.8" fill="#1f77b4"/>
<circle cx="626.27" cy="551.24" r="4.8" fill="#1f77b4"/>
<circle cx="608.7" cy="579.55" r="4.8" fill="#1f77b4"/>
<circle cx="606.96" cy="488.43" r="4.8" fill="#1f77b4"/>
<circle cx="614.71" cy="485.89" r="4.8" fill="#ff7f0e"/>
<circle cx="620.49" cy="490.51" r="4.8" fill="#ff7f0e"/>
<circle cx="651.11" cy="490.51" r="4.8" fill="#ff7f0e"/>
<circle cx="619.33" cy="494.04" r="4.8" fill="#ff7f0e"/>
<circle cx="593.91" cy="502.71" r="4.8" fill="#ff7f0e"/>
<circle cx="634.93" cy="519.47" r="4.8" fill="#ff7f0e"/>
<circle cx="617.63" cy="487.01" r="4.8" fill="#ff7f0e"/>
<circle cx="605.81" cy="420.02" r="4.8" fill="#2ca02c"/>
<circle cx="617.6" cy="431.58" r="4.8" fill="#2ca02c"/>
<circle cx="619.33" cy="436.78" r="4.8" fill="#2ca02c"/>
<circle cx="625.11" cy="473.18" r="4.8" fill="#2ca02c"/>
<circle cx="627.42" cy="480.11" r="4.8" fill="#2ca02c"/>
<circle cx="636.67" cy="487.04" r="4.8" fill="#2ca02c"/>
<circle cx="644.75" cy="490.51" r="4.8" fill="#2ca02c"/>
<circle cx="622.8" cy="505.02" r="4.8" fill="#2ca02c"/>
<circle cx="605.47" cy="522.35" r="4.8" fill="#2ca02c"/>
<circle cx="641.87" cy="518.89" r="4.8" fill="#2ca02c"/>
<circle cx="645.33" cy="525.82" r="4.8" fill="#2ca02c"/>
<circle cx="612.4" cy="531.6" r="4.8" fill="#2ca02c"/>
<circle cx="633.78" cy="561.07" r="4.8" fill="#2ca02c"/>
<circle cx="615.87" cy="567.42" r="4.8" fill="#2ca02c"/>
<circle cx="592.75" cy="438.51" r="4.8" fill="#d62728"/>
<circle cx="610.09" cy="451.8" r="4.8" fill="#d62728"/>
<circle cx="596.22" cy="468.55" r="4.8" fill="#d62728"/>
<circle cx="597.38" cy="512.53" r="4.8" fill="#d62728"/>
<circle cx="614.71" cy="536.22" r="4.8" fill="#d62728"/>
<circle cx="611.24" cy="540.84" r="4.8" fill="#d62728"/>
<circle cx="599.69" cy="548.35" r="4.8" fill="#d62728"/>
<circle cx="596.22" cy="558.18" r="4.8" fill="#d62728"/>
<circle cx="577.16" cy="459.31" r="4.8" fill="#9467bd"/>
<circle cx="583.51" cy="478.95" r="4.8" fill="#9467bd"/>
<circle cx="571.99" cy="487.27" r="4.8" fill="#9467bd"/>
<circle cx="568.49" cy="498.09" r="4.8" fill="#9467bd"/>
<circle cx="575.42" cy="497.51" r="4.8" fill="#9467bd"/>
<circle cx="621.64" cy="507.91" r="4.8" fill="#9467bd"/>
<circle cx="578.89" cy="516" r="4.8" fill="#9467bd"/>
<circle cx="559.24" cy="537.38" r="4.8" fill="#9467bd"/>
<circle cx="593.33" cy="474.33" r="4.8" fill="#8c564b"/>
<circle cx="630.89" cy="471.44" r="4.8" fill="#8c564b"/>
<circle cx="600.84" cy="483.58" r="4.8" fill="#8c564b"/>
<circle cx="596.22" cy="496.93" r="4.8" fill="#8c564b"/>
<circle cx="610.09" cy="505.02" r="4.8" fill="#8c564b"/>
<circle cx="599.11" cy="530.44" r="4.8" fill="#8c564b"/>
<circle cx="621.64" cy="443.71" r="4.8" fill="#e377c2"/>
<circle cx="647.64" cy="446.6" r="4.8" fill="#e377c2"/>
<circle cx="588.71" cy="446.02" r="4.8" fill="#e377c2"/>
<circle cx="640.13" cy="466.82" r="4.8" fill="#e377c2"/>
<circle cx="602" cy="463.93" r="4.8" fill="#e377c2"/>
<circle cx="593.91" cy="476.64" r="4.8" fill="#e377c2"/>
<circle cx="607.78" cy="481.27" r="4.8" fill="#e377c2"/>
<circle cx="666.71" cy="480.11" r="4.8" fill="#e377c2"/>
<circle cx="637.82" cy="502.71" r="4.8" fill="#e377c2"/>
<circle cx="577.73" cy="510.22" r="4.8" fill="#e377c2"/>
<circle cx="583.51" cy="518.89" r="4.8" fill="#e377c2"/>
<circle cx="603.15" cy="438.51" r="4.8" fill="#7f7f7f"/>
<circle cx="608.35" cy="455.27" r="4.8" fill="#7f7f7f"/>
<circle cx="632.62" cy="455.27" r="4.8" fill="#7f7f7f"/>
<circle cx="602" cy="468.55" r="4.8" fill="#7f7f7f"/>
<circle cx="597.38" cy="488.78" r="4.8" fill="#7f7f7f"/>
<circle cx="592.75" cy="490.51" r="4.8" fill="#7f7f7f"/>
<circle cx="633.2" cy="489.35" r="4.8" fill="#7f7f7f"/>
<circle cx="598.53" cy="517.73" r="4.8" fill="#7f7f7f"/>
<circle cx="604.31" cy="518.89" r="4.8" fill="#7f7f7f"/>
<circle cx="615.87" cy="511.96" r="4.8" fill="#7f7f7f"/>
<circle cx="584.67" cy="437.93" r="4.8" fill="#bcbd22"/>
<circle cx="592.18" cy="441.75" r="4.8" fill="#bcbd22"/>
<circle cx="612.4" cy="436.2" r="4.8" fill="#bcbd22"/>
<circle cx="578.89" cy="452.38" r="4.8" fill="#bcbd22"/>
<circle cx="603.73" cy="452.95" r="4.8" fill="#bcbd22"/>
<circle cx="625.69" cy="462.2" r="4.8" fill="#bcbd22"/>
<circle cx="610.09" cy="476.07" r="4.8" fill="#bcbd22"/>
<circle cx="583.51" cy="490.51" r="4.8" fill="#bcbd22"/>
<circle cx="610.09" cy="492.82" r="4.8" fill="#bcbd22"/>
<circle cx="628.58" cy="489.35" r="4.8" fill="#bcbd22"/>
<circle cx="606.62" cy="507.91" r="4.8" fill="#bcbd22"/>
<circle cx="614.71" cy="520.62" r="4.8" fill="#bcbd22"/>
<circle cx="590.44" cy="533.91" r="4.8" fill="#bcbd22"/>
<circle cx="600.9" cy="611.9" r="4.8" fill="#bcbd22"/>
<circle cx="605.18" cy="494.12" r="4.8" fill="#bcbd22"/>
<circle cx="596.8" cy="413.09" r="4.8" fill="#17becf"/>
<circle cx="586.4" cy="431" r="4.8" fill="#17becf"/>
<circle cx="578.89" cy="434.81" r="4.8" fill="#17becf"/>
<circle cx="608.35" cy="441.98" r="4.8" fill="#17becf"/>
<circle cx="598.53" cy="447.75" r="4.8" fill="#17becf"/>
<circle cx="603.15" cy="447.18" r="4.8" fill="#17becf"/>
<circle cx="588.13" cy="451.8" r="4.8" fill="#17becf"/>
<circle cx="596.22" cy="457" r="4.8" fill="#17becf"/>
<circle cx="612.4" cy="464.51" r="4.8" fill="#17becf"/>
<circle cx="600.84" cy="476.64" r="4.8" fill="#17becf"/>
<circle cx="607.78" cy="472.6" r="4.8" fill="#17becf"/>
<circle cx="618.75" cy="480.69" r="4.8" fill="#17becf"/>
<circle cx="585.82" cy="503.29" r="4.8" fill="#17becf"/>
<circle cx="599.11" cy="503.29" r="4.8" fill="#17becf"/>
<circle cx="598.43" cy="459.27" r="4.8" fill="#17becf"/>
<circle cx="616.21" cy="465.67" r="4.8" fill="#17becf"/>
</g>
<g clip-path="url(#cf)">
<circle cx="1006.87" cy="455.11" r="4.8" fill="#1f77b4"/>
<circle cx="964.69" cy="479.07" r="4.8" fill="#1f77b4"/>
<circle cx="1002.24" cy="495.24" r="4.8" fill="#1f77b4"/>
<circle cx="1024.2" cy="502.75" r="4.8" fill="#1f77b4"/>
<circle cx="1001.67" cy="510.84" r="4.8" fill="#1f77b4"/>
<circle cx="1012.64" cy="521.82" r="4.8" fill="#1f77b4"/>
<circle cx="990.69" cy="531.07" r="4.8" fill="#1f77b4"/>
<circle cx="1000.51" cy="544.35" r="4.8" fill="#1f77b4"/>
<circle cx="985.5" cy="569.5" r="4.8" fill="#1f77b4"/>
<circle cx="997.04" cy="476.76" r="4.8" fill="#ff7f0e"/>
<circle cx="1010.91" cy="482.53" r="4.8" fill="#ff7f0e"/>
<circle cx="1025.35" cy="481.96" r="4.8" fill="#ff7f0e"/>
<circle cx="1037.49" cy="484.84" r="4.8" fill="#ff7f0e"/>
<circle cx="1012.06" cy="488.89" r="4.8" fill="#ff7f0e"/>
<circle cx="990.69" cy="494.09" r="4.8" fill="#ff7f0e"/>
<circle cx="999.93" cy="492.93" r="4.8" fill="#ff7f0e"/>
<circle cx="1011.49" cy="499.29" r="4.8" fill="#ff7f0e"/>
<circle cx="1005.13" cy="503.33" r="4.8" fill="#ff7f0e"/>
<circle cx="1024.78" cy="508.53" r="4.8" fill="#ff7f0e"/>
<circle cx="999.93" cy="434.89" r="4.8" fill="#2ca02c"/>
<circle cx="1010.91" cy="445.29" r="4.8" fill="#2ca02c"/>
<circle cx="1012.06" cy="450.49" r="4.8" fill="#2ca02c"/>
<circle cx="1002.82" cy="484.27" r="4.8" fill="#2ca02c"/>
<circle cx="1017.26" cy="477.91" r="4.8" fill="#2ca02c"/>
<circle cx="1018.42" cy="485.42" r="4.8" fill="#2ca02c"/>
<circle cx="1025.93" cy="490.62" r="4.8" fill="#2ca02c"/>
<circle cx="1032.86" cy="494.09" r="4.8" fill="#2ca02c"/>
<circle cx="999.35" cy="507.38" r="4.8" fill="#2ca02c"/>
<circle cx="1014.38" cy="506.22" r="4.8" fill="#2ca02c"/>
<circle cx="999.93" cy="518.93" r="4.8" fill="#2ca02c"/>
<circle cx="1030.55" cy="517.2" r="4.8" fill="#2ca02c"/>
<circle cx="1033.44" cy="522.98" r="4.8" fill="#2ca02c"/>
<circle cx="1006.29" cy="527.6" r="4.8" fill="#2ca02c"/>
<circle cx="1023.62" cy="548.98" r="4.8" fill="#2ca02c"/>
<circle cx="1009" cy="557.3" r="4.8" fill="#2ca02c"/>
<circle cx="965.84" cy="449.91" r="4.8" fill="#d62728"/>
<circle cx="969.31" cy="478.49" r="4.8" fill="#d62728"/>
<circle cx="969.31" cy="493.51" r="4.8" fill="#d62728"/>
<circle cx="970.47" cy="511.42" r="4.8" fill="#d62728"/>
<circle cx="972.78" cy="514.31" r="4.8" fill="#d62728"/>
<circle cx="983.75" cy="513.15" r="4.8" fill="#d62728"/>
<circle cx="983.75" cy="532.22" r="4.8" fill="#d62728"/>
<circle cx="980.87" cy="535.69" r="4.8" fill="#d62728"/>
<circle cx="971.62" cy="541.47" r="4.8" fill="#d62728"/>
<circle cx="969.31" cy="547.82" r="4.8" fill="#d62728"/>
<circle cx="937.53" cy="458.58" r="4.8" fill="#9467bd"/>
<circle cx="942.16" cy="475.02" r="4.8" fill="#9467bd"/>
<circle cx="952.55" cy="475.6" r="4.8" fill="#9467bd"/>
<circle cx="931.18" cy="480.8" r="4.8" fill="#9467bd"/>
<circle cx="939.27" cy="484.27" r="4.8" fill="#9467bd"/>
<circle cx="930.02" cy="491.2" r="4.8" fill="#9467bd"/>
<circle cx="942.73" cy="490.62" r="4.8" fill="#9467bd"/>
<circle cx="935.8" cy="487.73" r="4.8" fill="#9467bd"/>
<circle cx="950.82" cy="484.27" r="4.8" fill="#9467bd"/>
<circle cx="960.07" cy="495.82" r="4.8" fill="#9467bd"/>
<circle cx="972.78" cy="499.29" r="4.8" fill="#9467bd"/>
<circle cx="938.69" cy="506.22" r="4.8" fill="#9467bd"/>
<circle cx="922.51" cy="523.55" r="4.8" fill="#9467bd"/>
<circle cx="982.02" cy="459.73" r="4.8" fill="#8c564b"/>
<circle cx="998.78" cy="470.4" r="4.8" fill="#8c564b"/>
<circle cx="963.53" cy="483.11" r="4.8" fill="#8c564b"/>
<circle cx="967" cy="486.58" r="4.8" fill="#8c564b"/>
<circle cx="979.71" cy="498.13" r="4.8" fill="#8c564b"/>
<circle cx="979.13" cy="505.07" r="4.8" fill="#8c564b"/>
<circle cx="971.62" cy="517.78" r="4.8" fill="#8c564b"/>
<circle cx="969.83" cy="474.14" r="4.8" fill="#8c564b"/>
<circle cx="971.25" cy="486.23" r="4.8" fill="#8c564b"/>
<circle cx="991.27" cy="426.8" r="4.8" fill="#e377c2"/>
<circle cx="963.53" cy="430.27" r="4.8" fill="#e377c2"/>
<circle cx="1012.64" cy="429.69" r="4.8" fill="#e377c2"/>
<circle cx="975.09" cy="443.55" r="4.8" fill="#e377c2"/>
<circle cx="1006.29" cy="446.44" r="4.8" fill="#e377c2"/>
<circle cx="1028.82" cy="457.42" r="4.8" fill="#e377c2"/>
<circle cx="968.15" cy="453.95" r="4.8" fill="#e377c2"/>
<circle cx="977.4" cy="458.58" r="4.8" fill="#e377c2"/>
<circle cx="953.13" cy="482.53" r="4.8" fill="#e377c2"/>
<circle cx="958.91" cy="489.47" r="4.8" fill="#e377c2"/>
<circle cx="1004.55" cy="476.18" r="4.8" fill="#e377c2"/>
<circle cx="959.87" cy="471.29" r="4.8" fill="#e377c2"/>
<circle cx="1005.71" cy="436.62" r="4.8" fill="#7f7f7f"/>
<circle cx="985.49" cy="435.47" r="4.8" fill="#7f7f7f"/>
<circle cx="980.29" cy="447.02" r="4.8" fill="#7f7f7f"/>
<circle cx="968.15" cy="466.67" r="4.8" fill="#7f7f7f"/>
<circle cx="1005.13" cy="465.51" r="4.8" fill="#7f7f7f"/>
<circle cx="984.33" cy="481.96" r="4.8" fill="#7f7f7f"/>
<circle cx="991.84" cy="484.27" r="4.8" fill="#7f7f7f"/>
<circle cx="977.4" cy="488.89" r="4.8" fill="#7f7f7f"/>
<circle cx="981.21" cy="474.14" r="4.8" fill="#7f7f7f"/>
<circle cx="958.91" cy="421.02" r="4.8" fill="#bcbd22"/>
<circle cx="963.53" cy="425.64" r="4.8" fill="#bcbd22"/>
<circle cx="982.6" cy="420.44" r="4.8" fill="#bcbd22"/>
<circle cx="954.87" cy="434.31" r="4.8" fill="#bcbd22"/>
<circle cx="975.09" cy="432.58" r="4.8" fill="#bcbd22"/>
<circle cx="994.73" cy="442.98" r="4.8" fill="#bcbd22"/>
<circle cx="980.29" cy="452.8" r="4.8" fill="#bcbd22"/>
<circle cx="958.91" cy="465.51" r="4.8" fill="#bcbd22"/>
<circle cx="978.55" cy="466.67" r="4.8" fill="#bcbd22"/>
<circle cx="996.47" cy="464.93" r="4.8" fill="#bcbd22"/>
<circle cx="977.4" cy="480.22" r="4.8" fill="#bcbd22"/>
<circle cx="984.33" cy="491.2" r="4.8" fill="#bcbd22"/>
<circle cx="964.11" cy="502.18" r="4.8" fill="#bcbd22"/>
<circle cx="972.4" cy="566.7" r="4.8" fill="#bcbd22"/>
<circle cx="981.92" cy="468.45" r="4.8" fill="#bcbd22"/>
<circle cx="969.54" cy="384.62" r="4.8" fill="#17becf"/>
<circle cx="961.22" cy="399.64" r="4.8" fill="#17becf"/>
<circle cx="954.29" cy="402.88" r="4.8" fill="#17becf"/>
<circle cx="979.71" cy="408.66" r="4.8" fill="#17becf"/>
<circle cx="973.35" cy="413.51" r="4.8" fill="#17becf"/>
<circle cx="962.38" cy="416.98" r="4.8" fill="#17becf"/>
<circle cx="969.31" cy="420.44" r="4.8" fill="#17becf"/>
<circle cx="983.18" cy="427.38" r="4.8" fill="#17becf"/>
<circle cx="977.4" cy="434.31" r="4.8" fill="#17becf"/>
<circle cx="971.62" cy="437.78" r="4.8" fill="#17becf"/>
<circle cx="987.8" cy="441.24" r="4.8" fill="#17becf"/>
<circle cx="960.07" cy="459.73" r="4.8" fill="#17becf"/>
<circle cx="971.62" cy="459.73" r="4.8" fill="#17becf"/>
</g>
<g clip-path="url(#cg)">
<circle cx="213.98" cy="812.17" r="4.8" fill="#1f77b4"/>
<circle cx="249.76" cy="811.95" r="4.8" fill="#1f77b4"/>
<circle cx="185.19" cy="819.51" r="4.8" fill="#1f77b4"/>
<circle cx="214.31" cy="827.98" r="4.8" fill="#1f77b4"/>
<circle cx="259.35" cy="802.01" r="4.8" fill="#1f77b4"/>
<circle cx="281.14" cy="816.12" r="4.8" fill="#1f77b4"/>
<circle cx="317.83" cy="807.99" r="4.8" fill="#1f77b4"/>
<circle cx="349.44" cy="814.2" r="4.8" fill="#1f77b4"/>
<circle cx="337.93" cy="835.54" r="4.8" fill="#1f77b4"/>
<circle cx="222.22" cy="894.53" r="4.8" fill="#1f77b4"/>
<circle cx="245.25" cy="899.38" r="4.8" fill="#1f77b4"/>
<circle cx="274.71" cy="897.92" r="4.8" fill="#1f77b4"/>
<circle cx="333.64" cy="910.67" r="4.8" fill="#1f77b4"/>
<circle cx="340.19" cy="946.8" r="4.8" fill="#1f77b4"/>
<circle cx="283.06" cy="978.07" r="4.8" fill="#1f77b4"/>
<circle cx="244.8" cy="825.72" r="4.8" fill="#ff7f0e"/>
<circle cx="254.05" cy="833.06" r="4.8" fill="#ff7f0e"/>
<circle cx="208.44" cy="839.27" r="4.8" fill="#ff7f0e"/>
<circle cx="225.38" cy="838.14" r="4.8" fill="#ff7f0e"/>
<circle cx="180.9" cy="849.99" r="4.8" fill="#ff7f0e"/>
<circle cx="320.66" cy="816.69" r="4.8" fill="#ff7f0e"/>
<circle cx="303.16" cy="829.1" r="4.8" fill="#ff7f0e"/>
<circle cx="294.13" cy="857.33" r="4.8" fill="#ff7f0e"/>
<circle cx="164.64" cy="912.59" r="4.8" fill="#ff7f0e"/>
<circle cx="211.38" cy="915.41" r="4.8" fill="#ff7f0e"/>
<circle cx="305.19" cy="901.3" r="4.8" fill="#ff7f0e"/>
<circle cx="320.99" cy="912.59" r="4.8" fill="#ff7f0e"/>
<circle cx="326.86" cy="910.67" r="4.8" fill="#ff7f0e"/>
<circle cx="274.93" cy="946.23" r="4.8" fill="#ff7f0e"/>
<circle cx="261.39" cy="951.77" r="4.8" fill="#ff7f0e"/>
<circle cx="335.9" cy="946.8" r="4.8" fill="#ff7f0e"/>
<circle cx="234.3" cy="809.35" r="4.8" fill="#2ca02c"/>
<circle cx="228.09" cy="817.25" r="4.8" fill="#2ca02c"/>
<circle cx="266.47" cy="805.4" r="4.8" fill="#2ca02c"/>
<circle cx="348.31" cy="823.46" r="4.8" fill="#2ca02c"/>
<circle cx="269.85" cy="823.46" r="4.8" fill="#2ca02c"/>
<circle cx="288.71" cy="838.14" r="4.8" fill="#2ca02c"/>
<circle cx="333.07" cy="853.94" r="4.8" fill="#2ca02c"/>
<circle cx="349.22" cy="852.81" r="4.8" fill="#2ca02c"/>
<circle cx="210.93" cy="902.43" r="4.8" fill="#2ca02c"/>
<circle cx="229.44" cy="907.51" r="4.8" fill="#2ca02c"/>
<circle cx="223.8" cy="975.47" r="4.8" fill="#2ca02c"/>
<circle cx="296.95" cy="874.77" r="4.8" fill="#2ca02c"/>
<circle cx="361.86" cy="890.01" r="4.8" fill="#2ca02c"/>
<circle cx="302.25" cy="905.25" r="4.8" fill="#2ca02c"/>
<circle cx="212.06" cy="812.74" r="4.8" fill="#d62728"/>
<circle cx="210.25" cy="844.68" r="4.8" fill="#d62728"/>
<circle cx="199.07" cy="855.63" r="4.8" fill="#d62728"/>
<circle cx="292.43" cy="778.87" r="4.8" fill="#d62728"/>
<circle cx="330.03" cy="821.99" r="4.8" fill="#d62728"/>
<circle cx="268.16" cy="847.96" r="4.8" fill="#d62728"/>
<circle cx="300.67" cy="856.2" r="4.8" fill="#d62728"/>
<circle cx="349.44" cy="853.94" r="4.8" fill="#d62728"/>
<circle cx="222.67" cy="874.55" r="4.8" fill="#d62728"/>
<circle cx="226.96" cy="881.55" r="4.8" fill="#d62728"/>
<circle cx="164.3" cy="887.19" r="4.8" fill="#d62728"/>
<circle cx="189.14" cy="887.19" r="4.8" fill="#d62728"/>
<circle cx="183.16" cy="899.95" r="4.8" fill="#d62728"/>
<circle cx="287.92" cy="920.83" r="4.8" fill="#d62728"/>
<circle cx="186.54" cy="759.11" r="4.8" fill="#9467bd"/>
<circle cx="210.02" cy="789.25" r="4.8" fill="#9467bd"/>
<circle cx="178.41" cy="800.32" r="4.8" fill="#9467bd"/>
<circle cx="183.49" cy="799.75" r="4.8" fill="#9467bd"/>
<circle cx="190.27" cy="794.67" r="4.8" fill="#9467bd"/>
<circle cx="198.51" cy="838.47" r="4.8" fill="#9467bd"/>
<circle cx="269.29" cy="763.4" r="4.8" fill="#9467bd"/>
<circle cx="289.61" cy="857.67" r="4.8" fill="#9467bd"/>
<circle cx="254.96" cy="871.95" r="4.8" fill="#9467bd"/>
<circle cx="192.19" cy="948.38" r="4.8" fill="#9467bd"/>
<circle cx="196.48" cy="959.22" r="4.8" fill="#9467bd"/>
<circle cx="287.58" cy="895.66" r="4.8" fill="#9467bd"/>
<circle cx="277.76" cy="916.77" r="4.8" fill="#9467bd"/>
<circle cx="305.41" cy="926.14" r="4.8" fill="#9467bd"/>
<circle cx="308.58" cy="947.25" r="4.8" fill="#9467bd"/>
<circle cx="311.96" cy="947.02" r="4.8" fill="#9467bd"/>
<circle cx="170.74" cy="862.75" r="4.8" fill="#8c564b"/>
<circle cx="188.01" cy="865.23" r="4.8" fill="#8c564b"/>
<circle cx="289.38" cy="791.06" r="4.8" fill="#8c564b"/>
<circle cx="296.16" cy="790.72" r="4.8" fill="#8c564b"/>
<circle cx="303.16" cy="793.32" r="4.8" fill="#8c564b"/>
<circle cx="197.04" cy="870.82" r="4.8" fill="#8c564b"/>
<circle cx="206.07" cy="873.08" r="4.8" fill="#8c564b"/>
<circle cx="210.59" cy="873.64" r="4.8" fill="#8c564b"/>
<circle cx="195.57" cy="890.58" r="4.8" fill="#8c564b"/>
<circle cx="228.65" cy="891.71" r="4.8" fill="#8c564b"/>
<circle cx="235.43" cy="893.4" r="4.8" fill="#8c564b"/>
<circle cx="294.13" cy="918.24" r="4.8" fill="#8c564b"/>
<circle cx="267.03" cy="940.82" r="4.8" fill="#8c564b"/>
<circle cx="283.06" cy="956.62" r="4.8" fill="#8c564b"/>
<circle cx="292.09" cy="952.44" r="4.8" fill="#8c564b"/>
<circle cx="248.07" cy="778.08" r="4.8" fill="#e377c2"/>
<circle cx="238.81" cy="858.46" r="4.8" fill="#e377c2"/>
<circle cx="237.68" cy="864.1" r="4.8" fill="#e377c2"/>
<circle cx="263.87" cy="785.87" r="4.8" fill="#e377c2"/>
<circle cx="260.03" cy="852.81" r="4.8" fill="#e377c2"/>
<circle cx="148.84" cy="896.79" r="4.8" fill="#e377c2"/>
<circle cx="254.28" cy="894.53" r="4.8" fill="#e377c2"/>
<circle cx="251.79" cy="910" r="4.8" fill="#e377c2"/>
<circle cx="217.36" cy="918.8" r="4.8" fill="#e377c2"/>
<circle cx="251.79" cy="936.07" r="4.8" fill="#e377c2"/>
<circle cx="196.25" cy="940.82" r="4.8" fill="#e377c2"/>
<circle cx="315.8" cy="872.29" r="4.8" fill="#e377c2"/>
<circle cx="267.6" cy="885.84" r="4.8" fill="#e377c2"/>
<circle cx="275.5" cy="886.97" r="4.8" fill="#e377c2"/>
<circle cx="303.72" cy="885.5" r="4.8" fill="#e377c2"/>
<circle cx="365.25" cy="895.66" r="4.8" fill="#e377c2"/>
<circle cx="244.46" cy="794.11" r="4.8" fill="#7f7f7f"/>
<circle cx="141.72" cy="849.76" r="4.8" fill="#7f7f7f"/>
<circle cx="309.59" cy="781.13" r="4.8" fill="#7f7f7f"/>
<circle cx="265.34" cy="852.81" r="4.8" fill="#7f7f7f"/>
<circle cx="327.43" cy="855.97" r="4.8" fill="#7f7f7f"/>
<circle cx="207.77" cy="882.11" r="4.8" fill="#7f7f7f"/>
<circle cx="240.28" cy="912.25" r="4.8" fill="#7f7f7f"/>
<circle cx="193.66" cy="922.19" r="4.8" fill="#7f7f7f"/>
<circle cx="219.62" cy="926.48" r="4.8" fill="#7f7f7f"/>
<circle cx="188.8" cy="932.35" r="4.8" fill="#7f7f7f"/>
<circle cx="226.06" cy="935.96" r="4.8" fill="#7f7f7f"/>
<circle cx="178.19" cy="943.41" r="4.8" fill="#7f7f7f"/>
<circle cx="282.84" cy="883.58" r="4.8" fill="#7f7f7f"/>
<circle cx="329.35" cy="885.5" r="4.8" fill="#7f7f7f"/>
<circle cx="322.57" cy="979.54" r="4.8" fill="#7f7f7f"/>
<circle cx="258" cy="975.47" r="4.8" fill="#7f7f7f"/>
<circle cx="234.3" cy="794.11" r="4.8" fill="#bcbd22"/>
<circle cx="152.45" cy="796.37" r="4.8" fill="#bcbd22"/>
<circle cx="245.25" cy="853.04" r="4.8" fill="#bcbd22"/>
<circle cx="271.32" cy="839.6" r="4.8" fill="#bcbd22"/>
<circle cx="306.77" cy="825.72" r="4.8" fill="#bcbd22"/>
<circle cx="304.51" cy="841.75" r="4.8" fill="#bcbd22"/>
<circle cx="357.35" cy="844.12" r="4.8" fill="#bcbd22"/>
<circle cx="267.6" cy="864.67" r="4.8" fill="#bcbd22"/>
<circle cx="277.19" cy="862.97" r="4.8" fill="#bcbd22"/>
<circle cx="318.96" cy="865.23" r="4.8" fill="#bcbd22"/>
<circle cx="238.47" cy="879.06" r="4.8" fill="#bcbd22"/>
<circle cx="243.05" cy="954.25" r="4.8" fill="#bcbd22"/>
<circle cx="315.8" cy="885.84" r="4.8" fill="#bcbd22"/>
<circle cx="277.19" cy="903.22" r="4.8" fill="#bcbd22"/>
<circle cx="223.8" cy="768.93" r="4.8" fill="#17becf"/>
<circle cx="224.93" cy="773.45" r="4.8" fill="#17becf"/>
<circle cx="154.14" cy="796.7" r="4.8" fill="#17becf"/>
<circle cx="171.64" cy="803.14" r="4.8" fill="#17becf"/>
<circle cx="189.93" cy="826.51" r="4.8" fill="#17becf"/>
<circle cx="244.8" cy="828.54" r="4.8" fill="#17becf"/>
<circle cx="213.41" cy="854.73" r="4.8" fill="#17becf"/>
<circle cx="226.06" cy="857.1" r="4.8" fill="#17becf"/>
<circle cx="241.41" cy="847.96" r="4.8" fill="#17becf"/>
<circle cx="259.69" cy="834.18" r="4.8" fill="#17becf"/>
<circle cx="197.38" cy="912.59" r="4.8" fill="#17becf"/>
<circle cx="156.74" cy="922.19" r="4.8" fill="#17becf"/>
<circle cx="287.92" cy="928.96" r="4.8" fill="#17becf"/>
<circle cx="269.85" cy="933.48" r="4.8" fill="#17becf"/>
<circle cx="261.95" cy="940.03" r="4.8" fill="#17becf"/>
<circle cx="321.22" cy="964.86" r="4.8" fill="#17becf"/>
</g>
<g clip-path="url(#ch)">
<circle cx="551.25" cy="805.96" r="4.8" fill="#1f77b4"/>
<circle cx="545.04" cy="842.65" r="4.8" fill="#1f77b4"/>
<circle cx="571.8" cy="863.54" r="4.8" fill="#1f77b4"/>
<circle cx="609.95" cy="863.54" r="4.8" fill="#1f77b4"/>
<circle cx="599.57" cy="884.03" r="4.8" fill="#1f77b4"/>
<circle cx="631.4" cy="870.26" r="4.8" fill="#1f77b4"/>
<circle cx="659.06" cy="874.21" r="4.8" fill="#1f77b4"/>
<circle cx="692.36" cy="871.39" r="4.8" fill="#1f77b4"/>
<circle cx="619.26" cy="875.56" r="4.8" fill="#1f77b4"/>
<circle cx="645.51" cy="879.85" r="4.8" fill="#1f77b4"/>
<circle cx="675.99" cy="916.54" r="4.8" fill="#1f77b4"/>
<circle cx="625.76" cy="926.7" r="4.8" fill="#1f77b4"/>
<circle cx="632.87" cy="923.32" r="4.8" fill="#1f77b4"/>
<circle cx="681.41" cy="938.56" r="4.8" fill="#1f77b4"/>
<circle cx="665.61" cy="952.9" r="4.8" fill="#1f77b4"/>
<circle cx="553.51" cy="858.8" r="4.8" fill="#ff7f0e"/>
<circle cx="548.43" cy="863.54" r="4.8" fill="#ff7f0e"/>
<circle cx="572.14" cy="864.67" r="4.8" fill="#ff7f0e"/>
<circle cx="598.89" cy="861.28" r="4.8" fill="#ff7f0e"/>
<circle cx="600.36" cy="921.96" r="4.8" fill="#ff7f0e"/>
<circle cx="654.54" cy="868" r="4.8" fill="#ff7f0e"/>
<circle cx="663.01" cy="869.13" r="4.8" fill="#ff7f0e"/>
<circle cx="629.14" cy="906.16" r="4.8" fill="#ff7f0e"/>
<circle cx="611.64" cy="910" r="4.8" fill="#ff7f0e"/>
<circle cx="641.22" cy="930.32" r="4.8" fill="#ff7f0e"/>
<circle cx="645.51" cy="936.64" r="4.8" fill="#ff7f0e"/>
<circle cx="661.88" cy="927.83" r="4.8" fill="#ff7f0e"/>
<circle cx="674.3" cy="934.38" r="4.8" fill="#ff7f0e"/>
<circle cx="638.74" cy="950.41" r="4.8" fill="#ff7f0e"/>
<circle cx="650.59" cy="951.77" r="4.8" fill="#ff7f0e"/>
<circle cx="658.16" cy="949.51" r="4.8" fill="#ff7f0e"/>
<circle cx="520.77" cy="905.82" r="4.8" fill="#2ca02c"/>
<circle cx="538.27" cy="899.84" r="4.8" fill="#2ca02c"/>
<circle cx="545.61" cy="894.19" r="4.8" fill="#2ca02c"/>
<circle cx="551.25" cy="889.45" r="4.8" fill="#2ca02c"/>
<circle cx="561.64" cy="882.45" r="4.8" fill="#2ca02c"/>
<circle cx="571.01" cy="876.47" r="4.8" fill="#2ca02c"/>
<circle cx="586.02" cy="881.32" r="4.8" fill="#2ca02c"/>
<circle cx="590.76" cy="880.64" r="4.8" fill="#2ca02c"/>
<circle cx="604.54" cy="880.98" r="4.8" fill="#2ca02c"/>
<circle cx="575.52" cy="893.4" r="4.8" fill="#2ca02c"/>
<circle cx="596.41" cy="905.82" r="4.8" fill="#2ca02c"/>
<circle cx="604.54" cy="902.09" r="4.8" fill="#2ca02c"/>
<circle cx="587.38" cy="957.18" r="4.8" fill="#2ca02c"/>
<circle cx="595.28" cy="959.22" r="4.8" fill="#2ca02c"/>
<circle cx="640.43" cy="900.96" r="4.8" fill="#2ca02c"/>
<circle cx="576.31" cy="760.8" r="4.8" fill="#d62728"/>
<circle cx="579.25" cy="842.99" r="4.8" fill="#d62728"/>
<circle cx="519.87" cy="871.95" r="4.8" fill="#d62728"/>
<circle cx="519.08" cy="911.12" r="4.8" fill="#d62728"/>
<circle cx="520.77" cy="919.03" r="4.8" fill="#d62728"/>
<circle cx="577.78" cy="911.8" r="4.8" fill="#d62728"/>
<circle cx="548.99" cy="925.35" r="4.8" fill="#d62728"/>
<circle cx="556.9" cy="924.45" r="4.8" fill="#d62728"/>
<circle cx="563.44" cy="927.27" r="4.8" fill="#d62728"/>
<circle cx="584.89" cy="923.54" r="4.8" fill="#d62728"/>
<circle cx="514.56" cy="938.56" r="4.8" fill="#d62728"/>
<circle cx="526.41" cy="947.02" r="4.8" fill="#d62728"/>
<circle cx="574.96" cy="936.86" r="4.8" fill="#d62728"/>
<circle cx="606" cy="941.38" r="4.8" fill="#d62728"/>
<circle cx="626.32" cy="902.43" r="4.8" fill="#d62728"/>
<circle cx="613.68" cy="926.14" r="4.8" fill="#d62728"/>
<circle cx="546.28" cy="807.66" r="4.8" fill="#9467bd"/>
<circle cx="604.31" cy="807.66" r="4.8" fill="#9467bd"/>
<circle cx="511.96" cy="812.51" r="4.8" fill="#9467bd"/>
<circle cx="532.74" cy="814.99" r="4.8" fill="#9467bd"/>
<circle cx="526.41" cy="825.55" r="4.8" fill="#9467bd"/>
<circle cx="612.21" cy="801.45" r="4.8" fill="#9467bd"/>
<circle cx="672.38" cy="806.53" r="4.8" fill="#9467bd"/>
<circle cx="690.67" cy="826.51" r="4.8" fill="#9467bd"/>
<circle cx="643.03" cy="864.44" r="4.8" fill="#9467bd"/>
<circle cx="521.67" cy="888.09" r="4.8" fill="#9467bd"/>
<circle cx="547.86" cy="951.77" r="4.8" fill="#9467bd"/>
<circle cx="700.83" cy="882.68" r="4.8" fill="#9467bd"/>
<circle cx="702.52" cy="888.89" r="4.8" fill="#9467bd"/>
<circle cx="697.44" cy="891.71" r="4.8" fill="#9467bd"/>
<circle cx="624.63" cy="894.87" r="4.8" fill="#9467bd"/>
<circle cx="559.15" cy="833.06" r="4.8" fill="#8c564b"/>
<circle cx="566.49" cy="834.18" r="4.8" fill="#8c564b"/>
<circle cx="561.98" cy="847.17" r="4.8" fill="#8c564b"/>
<circle cx="540.53" cy="871.95" r="4.8" fill="#8c564b"/>
<circle cx="533.75" cy="879.52" r="4.8" fill="#8c564b"/>
<circle cx="552.15" cy="911.12" r="4.8" fill="#8c564b"/>
<circle cx="559.38" cy="908.08" r="4.8" fill="#8c564b"/>
<circle cx="565.93" cy="906.38" r="4.8" fill="#8c564b"/>
<circle cx="540.86" cy="920.49" r="4.8" fill="#8c564b"/>
<circle cx="568.75" cy="920.49" r="4.8" fill="#8c564b"/>
<circle cx="526.41" cy="943.41" r="4.8" fill="#8c564b"/>
<circle cx="558.02" cy="938.56" r="4.8" fill="#8c564b"/>
<circle cx="556.9" cy="942.51" r="4.8" fill="#8c564b"/>
<circle cx="573.27" cy="771.87" r="4.8" fill="#e377c2"/>
<circle cx="565.36" cy="776.61" r="4.8" fill="#e377c2"/>
<circle cx="605.21" cy="788.46" r="4.8" fill="#e377c2"/>
<circle cx="565.93" cy="806.53" r="4.8" fill="#e377c2"/>
<circle cx="572.7" cy="804.83" r="4.8" fill="#e377c2"/>
<circle cx="578.57" cy="809.91" r="4.8" fill="#e377c2"/>
<circle cx="592.23" cy="818.38" r="4.8" fill="#e377c2"/>
<circle cx="597.88" cy="852.47" r="4.8" fill="#e377c2"/>
<circle cx="502.14" cy="855.07" r="4.8" fill="#e377c2"/>
<circle cx="495.37" cy="860.71" r="4.8" fill="#e377c2"/>
<circle cx="610.29" cy="802.35" r="4.8" fill="#e377c2"/>
<circle cx="617.85" cy="846.26" r="4.8" fill="#e377c2"/>
<circle cx="590.54" cy="899.84" r="4.8" fill="#e377c2"/>
<circle cx="631.4" cy="886.63" r="4.8" fill="#e377c2"/>
<circle cx="652.51" cy="892.27" r="4.8" fill="#e377c2"/>
<circle cx="585.34" cy="766.22" r="4.8" fill="#7f7f7f"/>
<circle cx="600.02" cy="758.55" r="4.8" fill="#7f7f7f"/>
<circle cx="558.93" cy="799.19" r="4.8" fill="#7f7f7f"/>
<circle cx="595.05" cy="798.62" r="4.8" fill="#7f7f7f"/>
<circle cx="582.86" cy="826.85" r="4.8" fill="#7f7f7f"/>
<circle cx="603.75" cy="836.44" r="4.8" fill="#7f7f7f"/>
<circle cx="599.57" cy="843.22" r="4.8" fill="#7f7f7f"/>
<circle cx="526.19" cy="854.28" r="4.8" fill="#7f7f7f"/>
<circle cx="594.71" cy="864.1" r="4.8" fill="#7f7f7f"/>
<circle cx="619.77" cy="778.87" r="4.8" fill="#7f7f7f"/>
<circle cx="624.06" cy="783.38" r="4.8" fill="#7f7f7f"/>
<circle cx="631.06" cy="783.95" r="4.8" fill="#7f7f7f"/>
<circle cx="614.47" cy="831.02" r="4.8" fill="#7f7f7f"/>
<circle cx="625.42" cy="857.33" r="4.8" fill="#7f7f7f"/>
<circle cx="575.52" cy="897.92" r="4.8" fill="#7f7f7f"/>
<circle cx="560.28" cy="979.54" r="4.8" fill="#7f7f7f"/>
<circle cx="585.68" cy="777.17" r="4.8" fill="#bcbd22"/>
<circle cx="596.41" cy="779.77" r="4.8" fill="#bcbd22"/>
<circle cx="546.51" cy="792.19" r="4.8" fill="#bcbd22"/>
<circle cx="653.19" cy="805.4" r="4.8" fill="#bcbd22"/>
<circle cx="641" cy="814.43" r="4.8" fill="#bcbd22"/>
<circle cx="678.25" cy="840.39" r="4.8" fill="#bcbd22"/>
<circle cx="667.53" cy="844.35" r="4.8" fill="#bcbd22"/>
<circle cx="644.61" cy="848.3" r="4.8" fill="#bcbd22"/>
<circle cx="675.77" cy="853.38" r="4.8" fill="#bcbd22"/>
<circle cx="493.68" cy="899.38" r="4.8" fill="#bcbd22"/>
<circle cx="721.15" cy="871.95" r="4.8" fill="#bcbd22"/>
<circle cx="671.25" cy="885.5" r="4.8" fill="#bcbd22"/>
<circle cx="644.38" cy="909.54" r="4.8" fill="#bcbd22"/>
<circle cx="649.46" cy="912.93" r="4.8" fill="#bcbd22"/>
<circle cx="656.58" cy="920.16" r="4.8" fill="#bcbd22"/>
<circle cx="541.32" cy="756.52" r="4.8" fill="#17becf"/>
<circle cx="546.74" cy="763.97" r="4.8" fill="#17becf"/>
<circle cx="527.77" cy="803.7" r="4.8" fill="#17becf"/>
<circle cx="656.8" cy="798.06" r="4.8" fill="#17becf"/>
<circle cx="670.91" cy="808.78" r="4.8" fill="#17becf"/>
<circle cx="688.19" cy="809.35" r="4.8" fill="#17becf"/>
<circle cx="660.41" cy="821.77" r="4.8" fill="#17becf"/>
<circle cx="646.87" cy="824.59" r="4.8" fill="#17becf"/>
<circle cx="647.54" cy="830.8" r="4.8" fill="#17becf"/>
<circle cx="681.07" cy="835.88" r="4.8" fill="#17becf"/>
<circle cx="709.3" cy="844.91" r="4.8" fill="#17becf"/>
<circle cx="674.86" cy="862.41" r="4.8" fill="#17becf"/>
<circle cx="701.96" cy="873.64" r="4.8" fill="#17becf"/>
<circle cx="720.59" cy="868" r="4.8" fill="#17becf"/>
<circle cx="612.55" cy="969.83" r="4.8" fill="#17becf"/>
</g>
<g clip-path="url(#ci)">
<circle cx="977.15" cy="785.87" r="4.8" fill="#1f77b4"/>
<circle cx="996.45" cy="759.11" r="4.8" fill="#1f77b4"/>
<circle cx="1004.01" cy="762.5" r="4.8" fill="#1f77b4"/>
<circle cx="1007.4" cy="767.01" r="4.8" fill="#1f77b4"/>
<circle cx="984.26" cy="766.45" r="4.8" fill="#1f77b4"/>
<circle cx="988.77" cy="772.09" r="4.8" fill="#1f77b4"/>
<circle cx="983.13" cy="776.61" r="4.8" fill="#1f77b4"/>
<circle cx="999.5" cy="776.84" r="4.8" fill="#1f77b4"/>
<circle cx="988.77" cy="789.03" r="4.8" fill="#1f77b4"/>
<circle cx="987.64" cy="792.41" r="4.8" fill="#1f77b4"/>
<circle cx="997.8" cy="790.72" r="4.8" fill="#1f77b4"/>
<circle cx="1004.58" cy="789.59" r="4.8" fill="#1f77b4"/>
<circle cx="1004.01" cy="795.24" r="4.8" fill="#1f77b4"/>
<circle cx="1018.13" cy="787.67" r="4.8" fill="#1f77b4"/>
<circle cx="992.16" cy="815.9" r="4.8" fill="#1f77b4"/>
<circle cx="982.56" cy="815.22" r="4.8" fill="#1f77b4"/>
<circle cx="1019.25" cy="752.9" r="4.8" fill="#ff7f0e"/>
<circle cx="1025.46" cy="756.29" r="4.8" fill="#ff7f0e"/>
<circle cx="1015.87" cy="756.85" r="4.8" fill="#ff7f0e"/>
<circle cx="1021.51" cy="763.06" r="4.8" fill="#ff7f0e"/>
<circle cx="1031.67" cy="762.5" r="4.8" fill="#ff7f0e"/>
<circle cx="1040.14" cy="760.8" r="4.8" fill="#ff7f0e"/>
<circle cx="1024.9" cy="769.27" r="4.8" fill="#ff7f0e"/>
<circle cx="1010.79" cy="772.66" r="4.8" fill="#ff7f0e"/>
<circle cx="1018.69" cy="773.79" r="4.8" fill="#ff7f0e"/>
<circle cx="1034.49" cy="771.53" r="4.8" fill="#ff7f0e"/>
<circle cx="1009.66" cy="781.35" r="4.8" fill="#ff7f0e"/>
<circle cx="1022.64" cy="783.38" r="4.8" fill="#ff7f0e"/>
<circle cx="1021.51" cy="790.16" r="4.8" fill="#ff7f0e"/>
<circle cx="1039.8" cy="785.08" r="4.8" fill="#ff7f0e"/>
<circle cx="1033.7" cy="797.49" r="4.8" fill="#ff7f0e"/>
<circle cx="1062.72" cy="808.78" r="4.8" fill="#2ca02c"/>
<circle cx="1044.66" cy="812.74" r="4.8" fill="#2ca02c"/>
<circle cx="1051.99" cy="811.61" r="4.8" fill="#2ca02c"/>
<circle cx="1028.51" cy="818.94" r="4.8" fill="#2ca02c"/>
<circle cx="1035.06" cy="822.9" r="4.8" fill="#2ca02c"/>
<circle cx="1032.8" cy="827.41" r="4.8" fill="#2ca02c"/>
<circle cx="1055.38" cy="818.38" r="4.8" fill="#2ca02c"/>
<circle cx="1054.25" cy="822.9" r="4.8" fill="#2ca02c"/>
<circle cx="1061.02" cy="821.77" r="4.8" fill="#2ca02c"/>
<circle cx="1073.44" cy="818.94" r="4.8" fill="#2ca02c"/>
<circle cx="1052.56" cy="830.8" r="4.8" fill="#2ca02c"/>
<circle cx="1063.28" cy="828.54" r="4.8" fill="#2ca02c"/>
<circle cx="1070.06" cy="829.1" r="4.8" fill="#2ca02c"/>
<circle cx="1077.39" cy="828.54" r="4.8" fill="#2ca02c"/>
<circle cx="1087.55" cy="815.56" r="4.8" fill="#d62728"/>
<circle cx="1038.45" cy="839.6" r="4.8" fill="#d62728"/>
<circle cx="1076.6" cy="837.01" r="4.8" fill="#d62728"/>
<circle cx="1089.25" cy="834.41" r="4.8" fill="#d62728"/>
<circle cx="1084.73" cy="842.09" r="4.8" fill="#d62728"/>
<circle cx="1086.99" cy="847.73" r="4.8" fill="#d62728"/>
<circle cx="1057.07" cy="853.94" r="4.8" fill="#d62728"/>
<circle cx="1064.41" cy="852.25" r="4.8" fill="#d62728"/>
<circle cx="1070.06" cy="851.68" r="4.8" fill="#d62728"/>
<circle cx="1071.18" cy="856.76" r="4.8" fill="#d62728"/>
<circle cx="1065.54" cy="862.97" r="4.8" fill="#d62728"/>
<circle cx="1094.33" cy="854.51" r="4.8" fill="#d62728"/>
<circle cx="1084.73" cy="856.76" r="4.8" fill="#d62728"/>
<circle cx="1086.43" cy="862.97" r="4.8" fill="#d62728"/>
<circle cx="1078.18" cy="869.69" r="4.8" fill="#d62728"/>
<circle cx="953.78" cy="837.8" r="4.8" fill="#9467bd"/>
<circle cx="967.89" cy="840.96" r="4.8" fill="#9467bd"/>
<circle cx="980.31" cy="849.43" r="4.8" fill="#9467bd"/>
<circle cx="962.25" cy="853.94" r="4.8" fill="#9467bd"/>
<circle cx="967.89" cy="855.07" r="4.8" fill="#9467bd"/>
<circle cx="969.02" cy="863.31" r="4.8" fill="#9467bd"/>
<circle cx="987.08" cy="840.96" r="4.8" fill="#9467bd"/>
<circle cx="992.16" cy="847.73" r="4.8" fill="#9467bd"/>
<circle cx="984.26" cy="849.99" r="4.8" fill="#9467bd"/>
<circle cx="991.93" cy="857.33" r="4.8" fill="#9467bd"/>
<circle cx="1014.96" cy="857.89" r="4.8" fill="#9467bd"/>
<circle cx="957.51" cy="873.08" r="4.8" fill="#9467bd"/>
<circle cx="971.84" cy="893.4" r="4.8" fill="#9467bd"/>
<circle cx="986.52" cy="886.97" r="4.8" fill="#9467bd"/>
<circle cx="1027.16" cy="872.52" r="4.8" fill="#8c564b"/>
<circle cx="1028.29" cy="878.72" r="4.8" fill="#8c564b"/>
<circle cx="1015.3" cy="880.42" r="4.8" fill="#8c564b"/>
<circle cx="1041.27" cy="871.39" r="4.8" fill="#8c564b"/>
<circle cx="1042.96" cy="874.77" r="4.8" fill="#8c564b"/>
<circle cx="1039.58" cy="878.72" r="4.8" fill="#8c564b"/>
<circle cx="1050.3" cy="879.29" r="4.8" fill="#8c564b"/>
<circle cx="1055.15" cy="869.13" r="4.8" fill="#8c564b"/>
<circle cx="1006.84" cy="888.89" r="4.8" fill="#8c564b"/>
<circle cx="1013.61" cy="890.01" r="4.8" fill="#8c564b"/>
<circle cx="1026.59" cy="887.19" r="4.8" fill="#8c564b"/>
<circle cx="1040.14" cy="888.32" r="4.8" fill="#8c564b"/>
<circle cx="1047.25" cy="893.06" r="4.8" fill="#8c564b"/>
<circle cx="975.57" cy="880.98" r="4.8" fill="#e377c2"/>
<circle cx="974.44" cy="890.58" r="4.8" fill="#e377c2"/>
<circle cx="967.89" cy="912.93" r="4.8" fill="#e377c2"/>
<circle cx="978.62" cy="910.67" r="4.8" fill="#e377c2"/>
<circle cx="984.82" cy="899.61" r="4.8" fill="#e377c2"/>
<circle cx="985.39" cy="906.38" r="4.8" fill="#e377c2"/>
<circle cx="997.24" cy="906.38" r="4.8" fill="#e377c2"/>
<circle cx="1000.06" cy="910.33" r="4.8" fill="#e377c2"/>
<circle cx="989.34" cy="916.54" r="4.8" fill="#e377c2"/>
<circle cx="990.13" cy="923.88" r="4.8" fill="#e377c2"/>
<circle cx="1017.56" cy="913.72" r="4.8" fill="#e377c2"/>
<circle cx="1019.25" cy="916.54" r="4.8" fill="#e377c2"/>
<circle cx="1032.58" cy="916.77" r="4.8" fill="#e377c2"/>
<circle cx="1005.93" cy="924.45" r="4.8" fill="#e377c2"/>
<circle cx="1007.4" cy="930.66" r="4.8" fill="#e377c2"/>
<circle cx="928.15" cy="895.66" r="4.8" fill="#7f7f7f"/>
<circle cx="937.19" cy="893.06" r="4.8" fill="#7f7f7f"/>
<circle cx="932.9" cy="895.66" r="4.8" fill="#7f7f7f"/>
<circle cx="937.98" cy="904.69" r="4.8" fill="#7f7f7f"/>
<circle cx="938.54" cy="910.33" r="4.8" fill="#7f7f7f"/>
<circle cx="932.9" cy="912.59" r="4.8" fill="#7f7f7f"/>
<circle cx="950.39" cy="908.08" r="4.8" fill="#7f7f7f"/>
<circle cx="959.43" cy="911.8" r="4.8" fill="#7f7f7f"/>
<circle cx="948.7" cy="918.24" r="4.8" fill="#7f7f7f"/>
<circle cx="950.96" cy="921.06" r="4.8" fill="#7f7f7f"/>
<circle cx="958.3" cy="917.67" r="4.8" fill="#7f7f7f"/>
<circle cx="963.6" cy="921.06" r="4.8" fill="#7f7f7f"/>
<circle cx="957.17" cy="927.83" r="4.8" fill="#7f7f7f"/>
<circle cx="923.64" cy="926.14" r="4.8" fill="#7f7f7f"/>
<circle cx="932.33" cy="923.32" r="4.8" fill="#7f7f7f"/>
<circle cx="939.67" cy="925.01" r="4.8" fill="#7f7f7f"/>
<circle cx="918.22" cy="803.7" r="4.8" fill="#bcbd22"/>
<circle cx="915.96" cy="811.83" r="4.8" fill="#bcbd22"/>
<circle cx="917.32" cy="818.94" r="4.8" fill="#bcbd22"/>
<circle cx="926.12" cy="815.56" r="4.8" fill="#bcbd22"/>
<circle cx="934.59" cy="814.99" r="4.8" fill="#bcbd22"/>
<circle cx="932.33" cy="817.25" r="4.8" fill="#bcbd22"/>
<circle cx="906.93" cy="823.46" r="4.8" fill="#bcbd22"/>
<circle cx="912.58" cy="828.54" r="4.8" fill="#bcbd22"/>
<circle cx="921.61" cy="827.98" r="4.8" fill="#bcbd22"/>
<circle cx="920.48" cy="836.22" r="4.8" fill="#bcbd22"/>
<circle cx="910.09" cy="838.7" r="4.8" fill="#bcbd22"/>
<circle cx="910.88" cy="849.43" r="4.8" fill="#bcbd22"/>
<circle cx="887.17" cy="829.1" r="4.8" fill="#bcbd22"/>
<circle cx="890.22" cy="864.1" r="4.8" fill="#bcbd22"/>
<circle cx="868.32" cy="822.67" r="4.8" fill="#17becf"/>
<circle cx="871.03" cy="828.54" r="4.8" fill="#17becf"/>
<circle cx="884.13" cy="830.57" r="4.8" fill="#17becf"/>
<circle cx="866.29" cy="838.47" r="4.8" fill="#17becf"/>
<circle cx="877.01" cy="836.22" r="4.8" fill="#17becf"/>
<circle cx="875.89" cy="840.96" r="4.8" fill="#17becf"/>
<circle cx="882.66" cy="839.83" r="4.8" fill="#17becf"/>
<circle cx="890" cy="843.78" r="4.8" fill="#17becf"/>
<circle cx="896.54" cy="848.86" r="4.8" fill="#17becf"/>
<circle cx="869.68" cy="848.86" r="4.8" fill="#17becf"/>
<circle cx="877.01" cy="847.96" r="4.8" fill="#17becf"/>
<circle cx="869.68" cy="855.07" r="4.8" fill="#17becf"/>
<circle cx="884.35" cy="854.28" r="4.8" fill="#17becf"/>
<circle cx="882.09" cy="861.84" r="4.8" fill="#17becf"/>
<circle cx="935.72" cy="829.1" r="4.8" fill="#17becf"/>
</g>
<g clip-path="url(#cj)">
<circle cx="300.2" cy="1203.28" r="4.8" fill="#1f77b4"/>
<circle cx="280.47" cy="1209.47" r="4.8" fill="#1f77b4"/>
<circle cx="340.2" cy="1205.2" r="4.8" fill="#1f77b4"/>
<circle cx="349.8" cy="1256.93" r="4.8" fill="#1f77b4"/>
<circle cx="254" cy="1285.2" r="4.8" fill="#1f77b4"/>
<circle cx="262" cy="1284.13" r="4.8" fill="#1f77b4"/>
<circle cx="208.13" cy="1294.8" r="4.8" fill="#1f77b4"/>
<circle cx="183.6" cy="1303.87" r="4.8" fill="#1f77b4"/>
<circle cx="251.87" cy="1311.87" r="4.8" fill="#1f77b4"/>
<circle cx="321.53" cy="1274.53" r="4.8" fill="#1f77b4"/>
<circle cx="282.07" cy="1265.47" r="4.8" fill="#1f77b4"/>
<circle cx="274.07" cy="1279.33" r="4.8" fill="#1f77b4"/>
<circle cx="266.07" cy="1284.13" r="4.8" fill="#1f77b4"/>
<circle cx="293.8" cy="1317.73" r="4.8" fill="#1f77b4"/>
<circle cx="267.67" cy="1323.07" r="4.8" fill="#1f77b4"/>
<circle cx="278.65" cy="1342.8" r="4.8" fill="#1f77b4"/>
<circle cx="240.13" cy="1245.2" r="4.8" fill="#ff7f0e"/>
<circle cx="249.2" cy="1240.93" r="4.8" fill="#ff7f0e"/>
<circle cx="252.93" cy="1243.6" r="4.8" fill="#ff7f0e"/>
<circle cx="307.67" cy="1186.53" r="4.8" fill="#ff7f0e"/>
<circle cx="337.32" cy="1203.07" r="4.8" fill="#ff7f0e"/>
<circle cx="301.8" cy="1242.53" r="4.8" fill="#ff7f0e"/>
<circle cx="270.87" cy="1252.13" r="4.8" fill="#ff7f0e"/>
<circle cx="273" cy="1257.47" r="4.8" fill="#ff7f0e"/>
<circle cx="304.47" cy="1259.07" r="4.8" fill="#ff7f0e"/>
<circle cx="207.07" cy="1287.87" r="4.8" fill="#ff7f0e"/>
<circle cx="218.27" cy="1302.8" r="4.8" fill="#ff7f0e"/>
<circle cx="237.47" cy="1291.92" r="4.8" fill="#ff7f0e"/>
<circle cx="250.8" cy="1299.07" r="4.8" fill="#ff7f0e"/>
<circle cx="234.8" cy="1307.07" r="4.8" fill="#ff7f0e"/>
<circle cx="283.67" cy="1281.47" r="4.8" fill="#ff7f0e"/>
<circle cx="308.73" cy="1277.73" r="4.8" fill="#ff7f0e"/>
<circle cx="268.4" cy="1187.07" r="4.8" fill="#2ca02c"/>
<circle cx="252.93" cy="1233.47" r="4.8" fill="#2ca02c"/>
<circle cx="259.87" cy="1237.2" r="4.8" fill="#2ca02c"/>
<circle cx="248.13" cy="1253.73" r="4.8" fill="#2ca02c"/>
<circle cx="292.95" cy="1255.87" r="4.8" fill="#2ca02c"/>
<circle cx="314.6" cy="1254.27" r="4.8" fill="#2ca02c"/>
<circle cx="216.13" cy="1270.8" r="4.8" fill="#2ca02c"/>
<circle cx="240.67" cy="1266.53" r="4.8" fill="#2ca02c"/>
<circle cx="267.33" cy="1269.73" r="4.8" fill="#2ca02c"/>
<circle cx="198.53" cy="1288.93" r="4.8" fill="#2ca02c"/>
<circle cx="190.32" cy="1333.2" r="4.8" fill="#2ca02c"/>
<circle cx="281.53" cy="1278.8" r="4.8" fill="#2ca02c"/>
<circle cx="303.4" cy="1279.87" r="4.8" fill="#2ca02c"/>
<circle cx="273.53" cy="1295.33" r="4.8" fill="#2ca02c"/>
<circle cx="284.2" cy="1295.12" r="4.8" fill="#2ca02c"/>
<circle cx="268.93" cy="1208.4" r="4.8" fill="#d62728"/>
<circle cx="204.4" cy="1218" r="4.8" fill="#d62728"/>
<circle cx="227.65" cy="1218" r="4.8" fill="#d62728"/>
<circle cx="247.6" cy="1234" r="4.8" fill="#d62728"/>
<circle cx="262" cy="1231.33" r="4.8" fill="#d62728"/>
<circle cx="261.47" cy="1237.73" r="4.8" fill="#d62728"/>
<circle cx="162.8" cy="1246.27" r="4.8" fill="#d62728"/>
<circle cx="358.33" cy="1221.73" r="4.8" fill="#d62728"/>
<circle cx="353" cy="1231.33" r="4.8" fill="#d62728"/>
<circle cx="186.27" cy="1274.53" r="4.8" fill="#d62728"/>
<circle cx="212.4" cy="1271.65" r="4.8" fill="#d62728"/>
<circle cx="244.4" cy="1274" r="4.8" fill="#d62728"/>
<circle cx="183.6" cy="1301.73" r="4.8" fill="#d62728"/>
<circle cx="372.95" cy="1292.13" r="4.8" fill="#d62728"/>
<circle cx="331.67" cy="1306.53" r="4.8" fill="#d62728"/>
<circle cx="271.4" cy="1308.13" r="4.8" fill="#d62728"/>
<circle cx="165.79" cy="1245.52" r="4.8" fill="#9467bd"/>
<circle cx="260.93" cy="1256.4" r="4.8" fill="#9467bd"/>
<circle cx="329.53" cy="1232.93" r="4.8" fill="#9467bd"/>
<circle cx="281.53" cy="1240.93" r="4.8" fill="#9467bd"/>
<circle cx="300.41" cy="1236.67" r="4.8" fill="#9467bd"/>
<circle cx="179.33" cy="1265.47" r="4.8" fill="#9467bd"/>
<circle cx="233.73" cy="1261.2" r="4.8" fill="#9467bd"/>
<circle cx="243.87" cy="1266" r="4.8" fill="#9467bd"/>
<circle cx="223.07" cy="1276.13" r="4.8" fill="#9467bd"/>
<circle cx="226.27" cy="1282.53" r="4.8" fill="#9467bd"/>
<circle cx="263.07" cy="1264.93" r="4.8" fill="#9467bd"/>
<circle cx="173.47" cy="1296.93" r="4.8" fill="#9467bd"/>
<circle cx="232.99" cy="1318.27" r="4.8" fill="#9467bd"/>
<circle cx="296.47" cy="1270.59" r="4.8" fill="#9467bd"/>
<circle cx="279.72" cy="1306.53" r="4.8" fill="#9467bd"/>
<circle cx="292.2" cy="1318.8" r="4.8" fill="#9467bd"/>
<circle cx="243.87" cy="1206.05" r="4.8" fill="#8c564b"/>
<circle cx="216.99" cy="1220.99" r="4.8" fill="#8c564b"/>
<circle cx="236.61" cy="1229.52" r="4.8" fill="#8c564b"/>
<circle cx="214.53" cy="1238.27" r="4.8" fill="#8c564b"/>
<circle cx="202.8" cy="1246.27" r="4.8" fill="#8c564b"/>
<circle cx="210.27" cy="1253.73" r="4.8" fill="#8c564b"/>
<circle cx="340.2" cy="1229.2" r="4.8" fill="#8c564b"/>
<circle cx="323.45" cy="1236.99" r="4.8" fill="#8c564b"/>
<circle cx="309.27" cy="1253.2" r="4.8" fill="#8c564b"/>
<circle cx="270.33" cy="1234.53" r="4.8" fill="#8c564b"/>
<circle cx="271.4" cy="1243.07" r="4.8" fill="#8c564b"/>
<circle cx="261.79" cy="1299.07" r="4.8" fill="#8c564b"/>
<circle cx="299.13" cy="1283.07" r="4.8" fill="#8c564b"/>
<circle cx="276.2" cy="1289.47" r="4.8" fill="#8c564b"/>
<circle cx="342.87" cy="1303.33" r="4.8" fill="#8c564b"/>
<circle cx="236.93" cy="1206.8" r="4.8" fill="#e377c2"/>
<circle cx="257.95" cy="1201.79" r="4.8" fill="#e377c2"/>
<circle cx="197.47" cy="1216.72" r="4.8" fill="#e377c2"/>
<circle cx="332.2" cy="1247.01" r="4.8" fill="#e377c2"/>
<circle cx="285.8" cy="1244.67" r="4.8" fill="#e377c2"/>
<circle cx="224.13" cy="1267.39" r="4.8" fill="#e377c2"/>
<circle cx="177.2" cy="1311.33" r="4.8" fill="#e377c2"/>
<circle cx="206" cy="1304.08" r="4.8" fill="#e377c2"/>
<circle cx="237.47" cy="1305.47" r="4.8" fill="#e377c2"/>
<circle cx="190.32" cy="1331.6" r="4.8" fill="#e377c2"/>
<circle cx="321.32" cy="1269.52" r="4.8" fill="#e377c2"/>
<circle cx="286.33" cy="1267.07" r="4.8" fill="#e377c2"/>
<circle cx="301.27" cy="1263.33" r="4.8" fill="#e377c2"/>
<circle cx="318.87" cy="1293.41" r="4.8" fill="#e377c2"/>
<circle cx="324.73" cy="1304.4" r="4.8" fill="#e377c2"/>
<circle cx="330.92" cy="1316.45" r="4.8" fill="#e377c2"/>
<circle cx="233.2" cy="1203.92" r="4.8" fill="#7f7f7f"/>
<circle cx="266.8" cy="1223.87" r="4.8" fill="#7f7f7f"/>
<circle cx="267.33" cy="1237.2" r="4.8" fill="#7f7f7f"/>
<circle cx="244.4" cy="1250.53" r="4.8" fill="#7f7f7f"/>
<circle cx="299.67" cy="1213.2" r="4.8" fill="#7f7f7f"/>
<circle cx="298.28" cy="1219.07" r="4.8" fill="#7f7f7f"/>
<circle cx="308.2" cy="1244.67" r="4.8" fill="#7f7f7f"/>
<circle cx="284.2" cy="1255.33" r="4.8" fill="#7f7f7f"/>
<circle cx="363.13" cy="1259.07" r="4.8" fill="#7f7f7f"/>
<circle cx="190" cy="1267.07" r="4.8" fill="#7f7f7f"/>
<circle cx="174.32" cy="1276.67" r="4.8" fill="#7f7f7f"/>
<circle cx="244.4" cy="1268.67" r="4.8" fill="#7f7f7f"/>
<circle cx="171.87" cy="1294.27" r="4.8" fill="#7f7f7f"/>
<circle cx="340.73" cy="1264.4" r="4.8" fill="#7f7f7f"/>
<circle cx="319.61" cy="1284.45" r="4.8" fill="#7f7f7f"/>
<circle cx="274.6" cy="1328.61" r="4.8" fill="#7f7f7f"/>
<circle cx="262.85" cy="1180.67" r="4.8" fill="#bcbd22"/>
<circle cx="222.32" cy="1192.93" r="4.8" fill="#bcbd22"/>
<circle cx="239.07" cy="1201.47" r="4.8" fill="#bcbd22"/>
<circle cx="215.6" cy="1240.93" r="4.8" fill="#bcbd22"/>
<circle cx="227.87" cy="1248.93" r="4.8" fill="#bcbd22"/>
<circle cx="264.13" cy="1252.13" r="4.8" fill="#bcbd22"/>
<circle cx="266.8" cy="1245.73" r="4.8" fill="#bcbd22"/>
<circle cx="314.6" cy="1218" r="4.8" fill="#bcbd22"/>
<circle cx="285.16" cy="1251.07" r="4.8" fill="#bcbd22"/>
<circle cx="263.07" cy="1341.73" r="4.8" fill="#bcbd22"/>
<circle cx="353.32" cy="1269.2" r="4.8" fill="#bcbd22"/>
<circle cx="268.73" cy="1296.93" r="4.8" fill="#bcbd22"/>
<circle cx="351.4" cy="1301.52" r="4.8" fill="#bcbd22"/>
<circle cx="315.99" cy="1320.93" r="4.8" fill="#bcbd22"/>
<circle cx="272.47" cy="1323.07" r="4.8" fill="#bcbd22"/>
<circle cx="262.85" cy="1189.2" r="4.8" fill="#17becf"/>
<circle cx="256.13" cy="1223.87" r="4.8" fill="#17becf"/>
<circle cx="208.45" cy="1254.05" r="4.8" fill="#17becf"/>
<circle cx="317.05" cy="1210" r="4.8" fill="#17becf"/>
<circle cx="289" cy="1220.13" r="4.8" fill="#17becf"/>
<circle cx="291.13" cy="1228.67" r="4.8" fill="#17becf"/>
<circle cx="287.4" cy="1237.2" r="4.8" fill="#17becf"/>
<circle cx="294.65" cy="1245.95" r="4.8" fill="#17becf"/>
<circle cx="344.73" cy="1260.13" r="4.8" fill="#17becf"/>
<circle cx="255.6" cy="1277.73" r="4.8" fill="#17becf"/>
<circle cx="221.25" cy="1322.85" r="4.8" fill="#17becf"/>
<circle cx="236.93" cy="1331.39" r="4.8" fill="#17becf"/>
<circle cx="337" cy="1284.67" r="4.8" fill="#17becf"/>
<circle cx="373.8" cy="1290.53" r="4.8" fill="#17becf"/>
<circle cx="301.05" cy="1302.8" r="4.8" fill="#17becf"/>
<circle cx="286.87" cy="1343.33" r="4.8" fill="#17becf"/>
</g>
<g clip-path="url(#ck)">
<circle cx="599.35" cy="1158.99" r="4.8" fill="#1f77b4"/>
<circle cx="544.52" cy="1181.6" r="4.8" fill="#1f77b4"/>
<circle cx="559.45" cy="1189.07" r="4.8" fill="#1f77b4"/>
<circle cx="582.07" cy="1184.27" r="4.8" fill="#1f77b4"/>
<circle cx="644.27" cy="1151.2" r="4.8" fill="#1f77b4"/>
<circle cx="532.79" cy="1226.95" r="4.8" fill="#1f77b4"/>
<circle cx="570.87" cy="1259.27" r="4.8" fill="#1f77b4"/>
<circle cx="567.13" cy="1304.07" r="4.8" fill="#1f77b4"/>
<circle cx="633.07" cy="1218.73" r="4.8" fill="#1f77b4"/>
<circle cx="690.67" cy="1217.35" r="4.8" fill="#1f77b4"/>
<circle cx="643.73" cy="1229.4" r="4.8" fill="#1f77b4"/>
<circle cx="677.87" cy="1233.67" r="4.8" fill="#1f77b4"/>
<circle cx="608.53" cy="1239.32" r="4.8" fill="#1f77b4"/>
<circle cx="634.99" cy="1241.88" r="4.8" fill="#1f77b4"/>
<circle cx="641.39" cy="1260.65" r="4.8" fill="#1f77b4"/>
<circle cx="606.4" cy="1290.73" r="4.8" fill="#1f77b4"/>
<circle cx="494.81" cy="1162.19" r="4.8" fill="#ff7f0e"/>
<circle cx="566.92" cy="1176.05" r="4.8" fill="#ff7f0e"/>
<circle cx="595.93" cy="1208.05" r="4.8" fill="#ff7f0e"/>
<circle cx="653.87" cy="1177.87" r="4.8" fill="#ff7f0e"/>
<circle cx="617.07" cy="1190.13" r="4.8" fill="#ff7f0e"/>
<circle cx="620.05" cy="1197.81" r="4.8" fill="#ff7f0e"/>
<circle cx="633.28" cy="1202.72" r="4.8" fill="#ff7f0e"/>
<circle cx="568.73" cy="1219.8" r="4.8" fill="#ff7f0e"/>
<circle cx="593.27" cy="1234.41" r="4.8" fill="#ff7f0e"/>
<circle cx="576.73" cy="1242.2" r="4.8" fill="#ff7f0e"/>
<circle cx="602.33" cy="1249.13" r="4.8" fill="#ff7f0e"/>
<circle cx="579.72" cy="1272.6" r="4.8" fill="#ff7f0e"/>
<circle cx="618.67" cy="1228.01" r="4.8" fill="#ff7f0e"/>
<circle cx="612.8" cy="1259.8" r="4.8" fill="#ff7f0e"/>
<circle cx="663.47" cy="1250.2" r="4.8" fill="#ff7f0e"/>
<circle cx="687.47" cy="1258.73" r="4.8" fill="#ff7f0e"/>
<circle cx="578.33" cy="1170.4" r="4.8" fill="#2ca02c"/>
<circle cx="585.27" cy="1177.33" r="4.8" fill="#2ca02c"/>
<circle cx="553.27" cy="1182.67" r="4.8" fill="#2ca02c"/>
<circle cx="589.75" cy="1193.33" r="4.8" fill="#2ca02c"/>
<circle cx="598.6" cy="1196.75" r="4.8" fill="#2ca02c"/>
<circle cx="541.53" cy="1209.87" r="4.8" fill="#2ca02c"/>
<circle cx="629.33" cy="1115.47" r="4.8" fill="#2ca02c"/>
<circle cx="606.4" cy="1173.07" r="4.8" fill="#2ca02c"/>
<circle cx="612.27" cy="1191.2" r="4.8" fill="#2ca02c"/>
<circle cx="574.07" cy="1218.2" r="4.8" fill="#2ca02c"/>
<circle cx="539.4" cy="1237.4" r="4.8" fill="#2ca02c"/>
<circle cx="543.67" cy="1250.73" r="4.8" fill="#2ca02c"/>
<circle cx="498.87" cy="1268.87" r="4.8" fill="#2ca02c"/>
<circle cx="584.2" cy="1273.88" r="4.8" fill="#2ca02c"/>
<circle cx="662.4" cy="1225.67" r="4.8" fill="#2ca02c"/>
<circle cx="608.53" cy="1314.73" r="4.8" fill="#2ca02c"/>
<circle cx="538.87" cy="1128.48" r="4.8" fill="#d62728"/>
<circle cx="524.47" cy="1160.27" r="4.8" fill="#d62728"/>
<circle cx="561.59" cy="1177.33" r="4.8" fill="#d62728"/>
<circle cx="556.25" cy="1191.41" r="4.8" fill="#d62728"/>
<circle cx="573.75" cy="1202.93" r="4.8" fill="#d62728"/>
<circle cx="590.07" cy="1189.92" r="4.8" fill="#d62728"/>
<circle cx="493.75" cy="1200.27" r="4.8" fill="#d62728"/>
<circle cx="622.93" cy="1141.92" r="4.8" fill="#d62728"/>
<circle cx="629.33" cy="1183.2" r="4.8" fill="#d62728"/>
<circle cx="609.6" cy="1197.39" r="4.8" fill="#d62728"/>
<circle cx="511.13" cy="1252.33" r="4.8" fill="#d62728"/>
<circle cx="537.48" cy="1241.13" r="4.8" fill="#d62728"/>
<circle cx="594.01" cy="1251.27" r="4.8" fill="#d62728"/>
<circle cx="564.79" cy="1274.2" r="4.8" fill="#d62728"/>
<circle cx="582.6" cy="1306.95" r="4.8" fill="#d62728"/>
<circle cx="654.4" cy="1304.6" r="4.8" fill="#d62728"/>
<circle cx="591.88" cy="1125.6" r="4.8" fill="#9467bd"/>
<circle cx="601.05" cy="1190.67" r="4.8" fill="#9467bd"/>
<circle cx="491.93" cy="1202.4" r="4.8" fill="#9467bd"/>
<circle cx="568.73" cy="1213.6" r="4.8" fill="#9467bd"/>
<circle cx="627.2" cy="1165.6" r="4.8" fill="#9467bd"/>
<circle cx="605.87" cy="1176.27" r="4.8" fill="#9467bd"/>
<circle cx="599.67" cy="1219.8" r="4.8" fill="#9467bd"/>
<circle cx="511.67" cy="1245.4" r="4.8" fill="#9467bd"/>
<circle cx="569.48" cy="1242.95" r="4.8" fill="#9467bd"/>
<circle cx="557.32" cy="1249.99" r="4.8" fill="#9467bd"/>
<circle cx="568.2" cy="1318.47" r="4.8" fill="#9467bd"/>
<circle cx="609.07" cy="1225.67" r="4.8" fill="#9467bd"/>
<circle cx="636.8" cy="1229.93" r="4.8" fill="#9467bd"/>
<circle cx="655.25" cy="1229.4" r="4.8" fill="#9467bd"/>
<circle cx="634.99" cy="1251.8" r="4.8" fill="#9467bd"/>
<circle cx="651.73" cy="1257.13" r="4.8" fill="#9467bd"/>
<circle cx="573" cy="1122.4" r="4.8" fill="#8c564b"/>
<circle cx="571.4" cy="1142.35" r="4.8" fill="#8c564b"/>
<circle cx="565" cy="1159.41" r="4.8" fill="#8c564b"/>
<circle cx="540.47" cy="1153.65" r="4.8" fill="#8c564b"/>
<circle cx="601.05" cy="1147.68" r="4.8" fill="#8c564b"/>
<circle cx="575.45" cy="1195.47" r="4.8" fill="#8c564b"/>
<circle cx="568.2" cy="1195.68" r="4.8" fill="#8c564b"/>
<circle cx="595.93" cy="1214.67" r="4.8" fill="#8c564b"/>
<circle cx="611.73" cy="1157.92" r="4.8" fill="#8c564b"/>
<circle cx="694.4" cy="1167.2" r="4.8" fill="#8c564b"/>
<circle cx="614.4" cy="1177.87" r="4.8" fill="#8c564b"/>
<circle cx="520.73" cy="1219.27" r="4.8" fill="#8c564b"/>
<circle cx="571.4" cy="1218.2" r="4.8" fill="#8c564b"/>
<circle cx="566.92" cy="1259.8" r="4.8" fill="#8c564b"/>
<circle cx="561.59" cy="1266.73" r="4.8" fill="#8c564b"/>
<circle cx="530.65" cy="1263.85" r="4.8" fill="#8c564b"/>
<circle cx="537.27" cy="1149.81" r="4.8" fill="#e377c2"/>
<circle cx="524.47" cy="1158.67" r="4.8" fill="#e377c2"/>
<circle cx="503.99" cy="1176.48" r="4.8" fill="#e377c2"/>
<circle cx="529.59" cy="1184.59" r="4.8" fill="#e377c2"/>
<circle cx="534.6" cy="1195.47" r="4.8" fill="#e377c2"/>
<circle cx="588.47" cy="1177.87" r="4.8" fill="#e377c2"/>
<circle cx="627.52" cy="1119.52" r="4.8" fill="#e377c2"/>
<circle cx="554.12" cy="1220.87" r="4.8" fill="#e377c2"/>
<circle cx="489.8" cy="1239" r="4.8" fill="#e377c2"/>
<circle cx="569.8" cy="1255" r="4.8" fill="#e377c2"/>
<circle cx="542.07" cy="1292.33" r="4.8" fill="#e377c2"/>
<circle cx="669.87" cy="1234.73" r="4.8" fill="#e377c2"/>
<circle cx="699.41" cy="1225.67" r="4.8" fill="#e377c2"/>
<circle cx="609.07" cy="1254.47" r="4.8" fill="#e377c2"/>
<circle cx="682.67" cy="1273.88" r="4.8" fill="#e377c2"/>
<circle cx="625.07" cy="1318.68" r="4.8" fill="#e377c2"/>
<circle cx="566.28" cy="1149.39" r="4.8" fill="#7f7f7f"/>
<circle cx="563.93" cy="1195.68" r="4.8" fill="#7f7f7f"/>
<circle cx="647.15" cy="1187.15" r="4.8" fill="#7f7f7f"/>
<circle cx="676.8" cy="1189.6" r="4.8" fill="#7f7f7f"/>
<circle cx="607.68" cy="1206.99" r="4.8" fill="#7f7f7f"/>
<circle cx="659.2" cy="1207.73" r="4.8" fill="#7f7f7f"/>
<circle cx="591.67" cy="1221.93" r="4.8" fill="#7f7f7f"/>
<circle cx="554.87" cy="1234.2" r="4.8" fill="#7f7f7f"/>
<circle cx="566.6" cy="1229.93" r="4.8" fill="#7f7f7f"/>
<circle cx="544.2" cy="1305.45" r="4.8" fill="#7f7f7f"/>
<circle cx="567.67" cy="1322.2" r="4.8" fill="#7f7f7f"/>
<circle cx="624.32" cy="1255.53" r="4.8" fill="#7f7f7f"/>
<circle cx="661.65" cy="1259.59" r="4.8" fill="#7f7f7f"/>
<circle cx="611.95" cy="1274.2" r="4.8" fill="#7f7f7f"/>
<circle cx="618.99" cy="1291.8" r="4.8" fill="#7f7f7f"/>
<circle cx="652.05" cy="1283.27" r="4.8" fill="#7f7f7f"/>
<circle cx="575.88" cy="1118.45" r="4.8" fill="#bcbd22"/>
<circle cx="554.55" cy="1162.93" r="4.8" fill="#bcbd22"/>
<circle cx="575.45" cy="1189.6" r="4.8" fill="#bcbd22"/>
<circle cx="514.01" cy="1204" r="4.8" fill="#bcbd22"/>
<circle cx="647.15" cy="1134.88" r="4.8" fill="#bcbd22"/>
<circle cx="644.27" cy="1157.92" r="4.8" fill="#bcbd22"/>
<circle cx="636.27" cy="1197.07" r="4.8" fill="#bcbd22"/>
<circle cx="653.87" cy="1209.87" r="4.8" fill="#bcbd22"/>
<circle cx="672.53" cy="1201.87" r="4.8" fill="#bcbd22"/>
<circle cx="601.8" cy="1223" r="4.8" fill="#bcbd22"/>
<circle cx="533" cy="1237.19" r="4.8" fill="#bcbd22"/>
<circle cx="581" cy="1231.53" r="4.8" fill="#bcbd22"/>
<circle cx="531.08" cy="1293.72" r="4.8" fill="#bcbd22"/>
<circle cx="572.25" cy="1313.13" r="4.8" fill="#bcbd22"/>
<circle cx="610.88" cy="1279.53" r="4.8" fill="#bcbd22"/>
<circle cx="641.07" cy="1282.41" r="4.8" fill="#bcbd22"/>
<circle cx="543.13" cy="1132.32" r="4.8" fill="#17becf"/>
<circle cx="590.39" cy="1151.73" r="4.8" fill="#17becf"/>
<circle cx="557.32" cy="1167.2" r="4.8" fill="#17becf"/>
<circle cx="546.33" cy="1213.07" r="4.8" fill="#17becf"/>
<circle cx="654.93" cy="1144.05" r="4.8" fill="#17becf"/>
<circle cx="612.8" cy="1157.07" r="4.8" fill="#17becf"/>
<circle cx="698.13" cy="1166.88" r="4.8" fill="#17becf"/>
<circle cx="570.33" cy="1230.79" r="4.8" fill="#17becf"/>
<circle cx="503.67" cy="1268.87" r="4.8" fill="#17becf"/>
<circle cx="534.28" cy="1281.99" r="4.8" fill="#17becf"/>
<circle cx="539.93" cy="1300.87" r="4.8" fill="#17becf"/>
<circle cx="632.53" cy="1225.67" r="4.8" fill="#17becf"/>
<circle cx="702.4" cy="1231.53" r="4.8" fill="#17becf"/>
<circle cx="609.39" cy="1285.61" r="4.8" fill="#17becf"/>
<circle cx="660.59" cy="1287.75" r="4.8" fill="#17becf"/>
<circle cx="646.08" cy="1304.07" r="4.8" fill="#17becf"/>
</g>
<g clip-path="url(#cl)">
<circle cx="954.93" cy="1138.4" r="4.8" fill="#1f77b4"/>
<circle cx="969.65" cy="1154.08" r="4.8" fill="#1f77b4"/>
<circle cx="966.67" cy="1182.67" r="4.8" fill="#1f77b4"/>
<circle cx="923.79" cy="1217.33" r="4.8" fill="#1f77b4"/>
<circle cx="919.2" cy="1222.67" r="4.8" fill="#1f77b4"/>
<circle cx="1031" cy="1164.75" r="4.8" fill="#1f77b4"/>
<circle cx="1034.73" cy="1164.53" r="4.8" fill="#1f77b4"/>
<circle cx="1012.33" cy="1213.6" r="4.8" fill="#1f77b4"/>
<circle cx="966.67" cy="1228.4" r="4.8" fill="#1f77b4"/>
<circle cx="912.8" cy="1257.2" r="4.8" fill="#1f77b4"/>
<circle cx="927.73" cy="1262.53" r="4.8" fill="#1f77b4"/>
<circle cx="933.39" cy="1304.99" r="4.8" fill="#1f77b4"/>
<circle cx="1000.07" cy="1224.13" r="4.8" fill="#1f77b4"/>
<circle cx="994.63" cy="1254.53" r="4.8" fill="#1f77b4"/>
<circle cx="1018.73" cy="1238.53" r="4.8" fill="#1f77b4"/>
<circle cx="964.53" cy="1192.27" r="4.8" fill="#ff7f0e"/>
<circle cx="870.88" cy="1197.81" r="4.8" fill="#ff7f0e"/>
<circle cx="1050.52" cy="1192.48" r="4.8" fill="#ff7f0e"/>
<circle cx="1008.28" cy="1214.13" r="4.8" fill="#ff7f0e"/>
<circle cx="1020.65" cy="1215.95" r="4.8" fill="#ff7f0e"/>
<circle cx="916.53" cy="1235.87" r="4.8" fill="#ff7f0e"/>
<circle cx="940.85" cy="1235.01" r="4.8" fill="#ff7f0e"/>
<circle cx="962.19" cy="1237.79" r="4.8" fill="#ff7f0e"/>
<circle cx="940" cy="1246" r="4.8" fill="#ff7f0e"/>
<circle cx="951.2" cy="1245.47" r="4.8" fill="#ff7f0e"/>
<circle cx="956" cy="1252.4" r="4.8" fill="#ff7f0e"/>
<circle cx="959.73" cy="1252.4" r="4.8" fill="#ff7f0e"/>
<circle cx="925.28" cy="1284.93" r="4.8" fill="#ff7f0e"/>
<circle cx="1043.05" cy="1239.92" r="4.8" fill="#ff7f0e"/>
<circle cx="1027.8" cy="1295.6" r="4.8" fill="#ff7f0e"/>
<circle cx="982.68" cy="1335.28" r="4.8" fill="#ff7f0e"/>
<circle cx="912.8" cy="1120.59" r="4.8" fill="#2ca02c"/>
<circle cx="966.13" cy="1170.93" r="4.8" fill="#2ca02c"/>
<circle cx="951.73" cy="1177.87" r="4.8" fill="#2ca02c"/>
<circle cx="970.93" cy="1178.93" r="4.8" fill="#2ca02c"/>
<circle cx="881.12" cy="1200.8" r="4.8" fill="#2ca02c"/>
<circle cx="908.53" cy="1208.05" r="4.8" fill="#2ca02c"/>
<circle cx="938.72" cy="1207.41" r="4.8" fill="#2ca02c"/>
<circle cx="893.07" cy="1218.93" r="4.8" fill="#2ca02c"/>
<circle cx="897.33" cy="1220.53" r="4.8" fill="#2ca02c"/>
<circle cx="978.73" cy="1116.53" r="4.8" fill="#2ca02c"/>
<circle cx="987.27" cy="1172.53" r="4.8" fill="#2ca02c"/>
<circle cx="984.6" cy="1187.47" r="4.8" fill="#2ca02c"/>
<circle cx="974.99" cy="1320.99" r="4.8" fill="#2ca02c"/>
<circle cx="964" cy="1185.01" r="4.8" fill="#d62728"/>
<circle cx="918.67" cy="1173.07" r="4.8" fill="#d62728"/>
<circle cx="898.93" cy="1200.8" r="4.8" fill="#d62728"/>
<circle cx="964.53" cy="1204.53" r="4.8" fill="#d62728"/>
<circle cx="988.33" cy="1131.25" r="4.8" fill="#d62728"/>
<circle cx="1005.4" cy="1138.4" r="4.8" fill="#d62728"/>
<circle cx="989.72" cy="1163.47" r="4.8" fill="#d62728"/>
<circle cx="1009.99" cy="1162.61" r="4.8" fill="#d62728"/>
<circle cx="989.93" cy="1180" r="4.8" fill="#d62728"/>
<circle cx="1000.6" cy="1184.8" r="4.8" fill="#d62728"/>
<circle cx="986.73" cy="1198.67" r="4.8" fill="#d62728"/>
<circle cx="967.2" cy="1230.32" r="4.8" fill="#d62728"/>
<circle cx="888.27" cy="1304.13" r="4.8" fill="#d62728"/>
<circle cx="970.93" cy="1301.47" r="4.8" fill="#d62728"/>
<circle cx="1068.01" cy="1239.6" r="4.8" fill="#d62728"/>
<circle cx="1031.32" cy="1267.01" r="4.8" fill="#d62728"/>
<circle cx="941.6" cy="1160.8" r="4.8" fill="#9467bd"/>
<circle cx="956.53" cy="1170.4" r="4.8" fill="#9467bd"/>
<circle cx="974.67" cy="1170.93" r="4.8" fill="#9467bd"/>
<circle cx="938.93" cy="1184.27" r="4.8" fill="#9467bd"/>
<circle cx="950.13" cy="1216.8" r="4.8" fill="#9467bd"/>
<circle cx="985.67" cy="1146.93" r="4.8" fill="#9467bd"/>
<circle cx="981.4" cy="1184.8" r="4.8" fill="#9467bd"/>
<circle cx="1006.47" cy="1186.4" r="4.8" fill="#9467bd"/>
<circle cx="981.4" cy="1200.27" r="4.8" fill="#9467bd"/>
<circle cx="994.2" cy="1196.75" r="4.8" fill="#9467bd"/>
<circle cx="1068.65" cy="1218.08" r="4.8" fill="#9467bd"/>
<circle cx="909.6" cy="1259.33" r="4.8" fill="#9467bd"/>
<circle cx="929.87" cy="1265.2" r="4.8" fill="#9467bd"/>
<circle cx="953.33" cy="1284.4" r="4.8" fill="#9467bd"/>
<circle cx="1010.73" cy="1265.73" r="4.8" fill="#9467bd"/>
<circle cx="933.07" cy="1150.67" r="4.8" fill="#8c564b"/>
<circle cx="969.65" cy="1148" r="4.8" fill="#8c564b"/>
<circle cx="920.59" cy="1182.13" r="4.8" fill="#8c564b"/>
<circle cx="876.85" cy="1177.12" r="4.8" fill="#8c564b"/>
<circle cx="971.47" cy="1216.27" r="4.8" fill="#8c564b"/>
<circle cx="1017.67" cy="1197.81" r="4.8" fill="#8c564b"/>
<circle cx="1030.47" cy="1196" r="4.8" fill="#8c564b"/>
<circle cx="864.27" cy="1230.53" r="4.8" fill="#8c564b"/>
<circle cx="884.75" cy="1232.88" r="4.8" fill="#8c564b"/>
<circle cx="975.2" cy="1240.67" r="4.8" fill="#8c564b"/>
<circle cx="971.47" cy="1252.4" r="4.8" fill="#8c564b"/>
<circle cx="969.87" cy="1279.07" r="4.8" fill="#8c564b"/>
<circle cx="925.28" cy="1336.99" r="4.8" fill="#8c564b"/>
<circle cx="1012.33" cy="1247.39" r="4.8" fill="#8c564b"/>
<circle cx="1020.65" cy="1264.45" r="4.8" fill="#8c564b"/>
<circle cx="990.47" cy="1286.53" r="4.8" fill="#8c564b"/>
<circle cx="915.25" cy="1121.65" r="4.8" fill="#e377c2"/>
<circle cx="910.67" cy="1163.47" r="4.8" fill="#e377c2"/>
<circle cx="906.4" cy="1167.2" r="4.8" fill="#e377c2"/>
<circle cx="997.4" cy="1172.85" r="4.8" fill="#e377c2"/>
<circle cx="922.4" cy="1234.27" r="4.8" fill="#e377c2"/>
<circle cx="940.21" cy="1262.32" r="4.8" fill="#e377c2"/>
<circle cx="942.99" cy="1272.99" r="4.8" fill="#e377c2"/>
<circle cx="968.59" cy="1268.93" r="4.8" fill="#e377c2"/>
<circle cx="954.08" cy="1285.47" r="4.8" fill="#e377c2"/>
<circle cx="951.52" cy="1325.25" r="4.8" fill="#e377c2"/>
<circle cx="1046.68" cy="1258.05" r="4.8" fill="#e377c2"/>
<circle cx="1066.52" cy="1262.32" r="4.8" fill="#e377c2"/>
<circle cx="986.2" cy="1297.95" r="4.8" fill="#e377c2"/>
<circle cx="997.61" cy="1300.08" r="4.8" fill="#e377c2"/>
<circle cx="1031.53" cy="1303.6" r="4.8" fill="#e377c2"/>
<circle cx="1058.73" cy="1284.4" r="4.8" fill="#e377c2"/>
<circle cx="972.53" cy="1210.93" r="4.8" fill="#7f7f7f"/>
<circle cx="946.19" cy="1217.87" r="4.8" fill="#7f7f7f"/>
<circle cx="1019.8" cy="1168.8" r="4.8" fill="#7f7f7f"/>
<circle cx="1070.47" cy="1172" r="4.8" fill="#7f7f7f"/>
<circle cx="981.4" cy="1206.13" r="4.8" fill="#7f7f7f"/>
<circle cx="910.67" cy="1232.67" r="4.8" fill="#7f7f7f"/>
<circle cx="886.67" cy="1251.65" r="4.8" fill="#7f7f7f"/>
<circle cx="916.32" cy="1260.93" r="4.8" fill="#7f7f7f"/>
<circle cx="902.13" cy="1276.61" r="4.8" fill="#7f7f7f"/>
<circle cx="927.41" cy="1289.41" r="4.8" fill="#7f7f7f"/>
<circle cx="921.33" cy="1310.53" r="4.8" fill="#7f7f7f"/>
<circle cx="986.73" cy="1238.53" r="4.8" fill="#7f7f7f"/>
<circle cx="997.4" cy="1244.4" r="4.8" fill="#7f7f7f"/>
<circle cx="1004.33" cy="1234.59" r="4.8" fill="#7f7f7f"/>
<circle cx="1027.27" cy="1238.53" r="4.8" fill="#7f7f7f"/>
<circle cx="990.47" cy="1295.81" r="4.8" fill="#7f7f7f"/>
<circle cx="939.15" cy="1119.2" r="4.8" fill="#bcbd22"/>
<circle cx="948.75" cy="1129.12" r="4.8" fill="#bcbd22"/>
<circle cx="956" cy="1162.93" r="4.8" fill="#bcbd22"/>
<circle cx="925.6" cy="1194.4" r="4.8" fill="#bcbd22"/>
<circle cx="943.2" cy="1196" r="4.8" fill="#bcbd22"/>
<circle cx="948.32" cy="1209.55" r="4.8" fill="#bcbd22"/>
<circle cx="987.27" cy="1214.45" r="4.8" fill="#bcbd22"/>
<circle cx="1038.79" cy="1213.81" r="4.8" fill="#bcbd22"/>
<circle cx="900.53" cy="1240.35" r="4.8" fill="#bcbd22"/>
<circle cx="944.8" cy="1303.6" r="4.8" fill="#bcbd22"/>
<circle cx="970.72" cy="1303.6" r="4.8" fill="#bcbd22"/>
<circle cx="924" cy="1333.47" r="4.8" fill="#bcbd22"/>
<circle cx="993.13" cy="1240.35" r="4.8" fill="#bcbd22"/>
<circle cx="999.75" cy="1279.6" r="4.8" fill="#bcbd22"/>
<circle cx="1025.13" cy="1295.07" r="4.8" fill="#bcbd22"/>
<circle cx="1006.15" cy="1312.67" r="4.8" fill="#bcbd22"/>
<circle cx="951.95" cy="1118.67" r="4.8" fill="#17becf"/>
<circle cx="948.32" cy="1153.01" r="4.8" fill="#17becf"/>
<circle cx="949.07" cy="1195.25" r="4.8" fill="#17becf"/>
<circle cx="1060.87" cy="1164.75" r="4.8" fill="#17becf"/>
<circle cx="1068.65" cy="1169.65" r="4.8" fill="#17becf"/>
<circle cx="865.87" cy="1229.47" r="4.8" fill="#17becf"/>
<circle cx="968.27" cy="1274.8" r="4.8" fill="#17becf"/>
<circle cx="883.68" cy="1274.48" r="4.8" fill="#17becf"/>
<circle cx="889.87" cy="1286.21" r="4.8" fill="#17becf"/>
<circle cx="892.53" cy="1307.55" r="4.8" fill="#17becf"/>
<circle cx="926.13" cy="1305.41" r="4.8" fill="#17becf"/>
<circle cx="1016.39" cy="1248.67" r="4.8" fill="#17becf"/>
<circle cx="1032.6" cy="1241.2" r="4.8" fill="#17becf"/>
<circle cx="1039.21" cy="1232.13" r="4.8" fill="#17becf"/>
<circle cx="1004.01" cy="1262.75" r="4.8" fill="#17becf"/>
<circle cx="1036.87" cy="1295.81" r="4.8" fill="#17becf"/>
</g>
<g stroke="#000" stroke-width="2.5" fill="none">
<rect x="130.7" y="47.5" width="253.8" height="245.8" stroke-linejoin="miter"/>
<line x1="142" y1="293.3" x2="142" y2="304.24"/>
<line x1="257.3" y1="293.3" x2="257.3" y2="304.24"/>
<line x1="372.5" y1="293.3" x2="372.5" y2="304.24"/>
<line x1="119.76" y1="282.4" x2="130.7" y2="282.4"/>
<line x1="119.76" y1="58.4" x2="130.7" y2="58.4"/>
<rect x="479.2" y="47.5" width="253.6" height="245.8" stroke-linejoin="miter"/>
<line x1="498.1" y1="293.3" x2="498.1" y2="304.24"/>
<line x1="605.9" y1="293.3" x2="605.9" y2="304.24"/>
<line x1="713.3" y1="293.3" x2="713.3" y2="304.24"/>
<line x1="468.26" y1="282.2" x2="479.2" y2="282.2"/>
<line x1="468.26" y1="58.2" x2="479.2" y2="58.2"/>
<rect x="854.8" y="47.5" width="253.9" height="245.8" stroke-linejoin="miter"/>
<line x1="868.5" y1="293.3" x2="868.5" y2="304.24"/>
<line x1="981.1" y1="293.3" x2="981.1" y2="304.24"/>
<line x1="1094.7" y1="293.3" x2="1094.7" y2="304.24"/>
<line x1="843.86" y1="282.2" x2="854.8" y2="282.2"/>
<line x1="843.86" y1="108.6" x2="854.8" y2="108.6"/>
<rect x="130.7" y="375.6" width="253.8" height="246" stroke-linejoin="miter"/>
<line x1="142" y1="621.6" x2="142" y2="632.54"/>
<line x1="257.3" y1="621.6" x2="257.3" y2="632.54"/>
<line x1="372.5" y1="621.6" x2="372.5" y2="632.54"/>
<line x1="119.76" y1="620.7" x2="130.7" y2="620.7"/>
<line x1="119.76" y1="498.6" x2="130.7" y2="498.6"/>
<line x1="119.76" y1="376.5" x2="130.7" y2="376.5"/>
<rect x="479.2" y="375.6" width="253.6" height="246" stroke-linejoin="miter"/>
<line x1="498.1" y1="621.6" x2="498.1" y2="632.54"/>
<line x1="605.9" y1="621.6" x2="605.9" y2="632.54"/>
<line x1="713.3" y1="621.6" x2="713.3" y2="632.54"/>
<line x1="468.26" y1="599.7" x2="479.2" y2="599.7"/>
<line x1="468.26" y1="498.4" x2="479.2" y2="498.4"/>
<line x1="468.26" y1="396.7" x2="479.2" y2="396.7"/>
<rect x="854.8" y="375.6" width="253.9" height="246" stroke-linejoin="miter"/>
<line x1="868.5" y1="621.6" x2="868.5" y2="632.54"/>
<line x1="981.1" y1="621.6" x2="981.1" y2="632.54"/>
<line x1="1094.7" y1="621.6" x2="1094.7" y2="632.54"/>
<line x1="843.86" y1="604.2" x2="854.8" y2="604.2"/>
<line x1="843.86" y1="498.4" x2="854.8" y2="498.4"/>
<line x1="843.86" y1="392.05" x2="854.8" y2="392.05"/>
<rect x="130.7" y="744.4" width="253.8" height="246" stroke-linejoin="miter"/>
<line x1="152.2" y1="990.4" x2="152.2" y2="1001.34"/>
<line x1="257.3" y1="990.4" x2="257.3" y2="1001.34"/>
<line x1="362.7" y1="990.4" x2="362.7" y2="1001.34"/>
<line x1="119.76" y1="987.5" x2="130.7" y2="987.5"/>
<line x1="119.76" y1="867.4" x2="130.7" y2="867.4"/>
<line x1="119.76" y1="747.3" x2="130.7" y2="747.3"/>
<rect x="479.2" y="744.4" width="253.6" height="246" stroke-linejoin="miter"/>
<line x1="483.5" y1="990.4" x2="483.5" y2="1001.34"/>
<line x1="605.9" y1="990.4" x2="605.9" y2="1001.34"/>
<line x1="728" y1="990.4" x2="728" y2="1001.34"/>
<line x1="468.26" y1="967.6" x2="479.2" y2="967.6"/>
<line x1="468.26" y1="866.9" x2="479.2" y2="866.9"/>
<line x1="468.26" y1="767" x2="479.2" y2="767"/>
<rect x="854.8" y="744.4" width="253.9" height="246" stroke-linejoin="miter"/>
<line x1="874.7" y1="990.4" x2="874.7" y2="1001.34"/>
<line x1="981.1" y1="990.4" x2="981.1" y2="1001.34"/>
<line x1="1088" y1="990.4" x2="1088" y2="1001.34"/>
<line x1="843.86" y1="960.6" x2="854.8" y2="960.6"/>
<line x1="843.86" y1="867.2" x2="854.8" y2="867.2"/>
<line x1="843.86" y1="773.8" x2="854.8" y2="773.8"/>
<rect x="130.7" y="1105.6" width="253.8" height="246" stroke-linejoin="miter"/>
<line x1="134.5" y1="1351.6" x2="134.5" y2="1362.54"/>
<line x1="257.3" y1="1351.6" x2="257.3" y2="1362.54"/>
<line x1="380" y1="1351.6" x2="380" y2="1362.54"/>
<line x1="119.76" y1="1341" x2="130.7" y2="1341"/>
<line x1="119.76" y1="1228.65" x2="130.7" y2="1228.65"/>
<line x1="119.76" y1="1116.3" x2="130.7" y2="1116.3"/>
<rect x="479.2" y="1105.6" width="253.6" height="246" stroke-linejoin="miter"/>
<line x1="498.1" y1="1351.6" x2="498.1" y2="1362.54"/>
<line x1="605.9" y1="1351.6" x2="605.9" y2="1362.54"/>
<line x1="713.3" y1="1351.6" x2="713.3" y2="1362.54"/>
<line x1="468.26" y1="1333.5" x2="479.2" y2="1333.5"/>
<line x1="468.26" y1="1228.7" x2="479.2" y2="1228.7"/>
<line x1="468.26" y1="1123.4" x2="479.2" y2="1123.4"/>
<rect x="854.8" y="1105.6" width="253.9" height="246" stroke-linejoin="miter"/>
<line x1="867.5" y1="1351.6" x2="867.5" y2="1362.54"/>
<line x1="981.1" y1="1351.6" x2="981.1" y2="1362.54"/>
<line x1="1095.2" y1="1351.6" x2="1095.2" y2="1362.54"/>
<line x1="843.86" y1="1334.6" x2="854.8" y2="1334.6"/>
<line x1="843.86" y1="1228.7" x2="854.8" y2="1228.7"/>
<line x1="843.86" y1="1122.1" x2="854.8" y2="1122.1"/>
</g>
<text transform="matrix(0.3783 0.0000 0.0000 0.3510 110.3084 340.1949)" font-size="100" stroke="#000" stroke-width="1.234">−</text>
<text transform="matrix(0.3170 0.0000 0.0000 0.3204 135.1231 337.9731)" font-size="100" stroke="#000" stroke-width="1.412">2</text>
<text transform="matrix(0.3103 0.0000 0.0000 0.3211 155.4435 338.0865)" font-size="100" stroke="#000" stroke-width="1.425">5</text>
<text transform="matrix(0.3514 0.0000 0.0000 0.3220 247.2272 338.0855)" font-size="100" stroke="#000" stroke-width="1.336">0</text>
<text transform="matrix(0.3180 0.0000 0.0000 0.3204 353.0005 337.9731)" font-size="100" stroke="#000" stroke-width="1.410">2</text>
<text transform="matrix(0.3114 0.0000 0.0000 0.3211 373.3896 338.0865)" font-size="100" stroke="#000" stroke-width="1.423">5</text>
<text transform="matrix(0.3514 0.0000 0.0000 0.3220 89.2272 294.0855)" font-size="100" stroke="#000" stroke-width="1.336">0</text>
<text transform="matrix(0.3433 0.0000 0.0000 0.3314 88.9853 70.4000)" font-size="100" stroke="#000" stroke-width="1.334">1</text>
<text transform="matrix(0.4043 0.0000 0.0000 0.3971 112.9743 29.0122)" font-size="100" stroke="#000" stroke-width="1.123">u</text>
<text transform="matrix(0.3617 0.0000 0.0000 0.3911 137.1579 29.0181)" font-size="100" stroke="#000" stroke-width="1.196">s</text>
<text transform="matrix(0.4051 0.0000 0.0000 0.3900 156.0675 29.0191)" font-size="100" stroke="#000" stroke-width="1.132">e</text>
<text transform="matrix(0.4421 0.0000 0.0000 0.3907 179.6922 28.8731)" font-size="100" stroke="#000" stroke-width="1.081">f</text>
<text transform="matrix(0.4043 0.0000 0.0000 0.3971 192.5533 29.0122)" font-size="100" stroke="#000" stroke-width="1.123">u</text>
<text transform="matrix(0.3833 0.0000 0.0000 0.3902 216.7113 28.8731)" font-size="100" stroke="#000" stroke-width="1.164">l</text>
<text transform="matrix(0.4043 0.0000 0.0000 0.3873 226.9002 28.8731)" font-size="100" stroke="#000" stroke-width="1.137">n</text>
<text transform="matrix(0.4051 0.0000 0.0000 0.3900 250.2952 29.0191)" font-size="100" stroke="#000" stroke-width="1.132">e</text>
<text transform="matrix(0.3617 0.0000 0.0000 0.3911 273.9950 29.0181)" font-size="100" stroke="#000" stroke-width="1.196">s</text>
<text transform="matrix(0.3617 0.0000 0.0000 0.3911 293.5327 29.0181)" font-size="100" stroke="#000" stroke-width="1.196">s</text>
<text transform="matrix(0.4421 0.0000 0.0000 0.3333 314.9061 28.1963)" font-size="100" stroke="#000" stroke-width="1.161">=</text>
<text transform="matrix(0.3953 0.0000 0.0000 0.3975 344.4431 29.0118)" font-size="100" stroke="#000" stroke-width="1.135">0</text>
<text transform="matrix(0.4058 0.0000 0.0000 0.4316 367.6793 28.8731)" font-size="100" stroke="#000" stroke-width="1.075">.</text>
<text transform="matrix(0.3810 0.0000 0.0000 0.3955 380.1250 28.8731)" font-size="100" stroke="#000" stroke-width="1.159">2</text>
<text transform="matrix(0.0000 -0.3424 0.3174 0.0000 24.2132 230.6071)" font-size="100" stroke="#000" stroke-width="1.364">p</text>
<text transform="matrix(0.0000 -0.3421 0.3245 0.0000 24.5141 210.9790)" font-size="100" stroke="#000" stroke-width="1.350">d</text>
<text transform="matrix(0.0000 -0.3839 0.3233 0.0000 24.3950 190.7317)" font-size="100" stroke="#000" stroke-width="1.273">f</text>
<text transform="matrix(0.0000 -0.3346 0.3227 0.0000 24.5158 169.8820)" font-size="100" stroke="#000" stroke-width="1.369">o</text>
<text transform="matrix(0.0000 -0.3839 0.3233 0.0000 24.3950 150.3885)" font-size="100" stroke="#000" stroke-width="1.273">f</text>
<text transform="matrix(0.0000 -0.3171 0.3263 0.0000 24.3950 129.6865)" font-size="100" stroke="#000" stroke-width="1.399">A</text>
<text transform="matrix(0.2865 0.0000 0.0000 0.3272 136.8830 75.9074)" font-size="100" stroke="#000" stroke-width="1.467">a</text>
<text transform="matrix(0.2693 0.0000 0.0000 0.2984 158.1022 73.7222)" font-size="100" stroke="#000" stroke-width="1.585">)</text>
<text transform="matrix(0.3869 0.0000 0.0000 0.3510 467.1129 340.1949)" font-size="100" stroke="#000" stroke-width="1.220">−</text>
<text transform="matrix(0.3165 0.0000 0.0000 0.3194 492.5834 337.9731)" font-size="100" stroke="#000" stroke-width="1.415">1</text>
<text transform="matrix(0.3307 0.0000 0.0000 0.3220 512.2992 338.0855)" font-size="100" stroke="#000" stroke-width="1.379">0</text>
<text transform="matrix(0.3514 0.0000 0.0000 0.3220 596.2272 338.0855)" font-size="100" stroke="#000" stroke-width="1.336">0</text>
<text transform="matrix(0.3196 0.0000 0.0000 0.3194 694.1654 337.9731)" font-size="100" stroke="#000" stroke-width="1.408">1</text>
<text transform="matrix(0.3346 0.0000 0.0000 0.3220 714.0956 338.0855)" font-size="100" stroke="#000" stroke-width="1.371">0</text>
<text transform="matrix(0.3514 0.0000 0.0000 0.3220 437.2272 294.0855)" font-size="100" stroke="#000" stroke-width="1.336">0</text>
<text transform="matrix(0.3433 0.0000 0.0000 0.3314 437.9853 70.4000)" font-size="100" stroke="#000" stroke-width="1.334">1</text>
<text transform="matrix(0.4034 0.0000 0.0000 0.3971 460.9803 29.0122)" font-size="100" stroke="#000" stroke-width="1.124">u</text>
<text transform="matrix(0.3619 0.0000 0.0000 0.3911 485.0838 29.0181)" font-size="100" stroke="#000" stroke-width="1.195">s</text>
<text transform="matrix(0.4041 0.0000 0.0000 0.3900 503.9757 29.0191)" font-size="100" stroke="#000" stroke-width="1.133">e</text>
<text transform="matrix(0.4424 0.0000 0.0000 0.3907 527.5283 28.8731)" font-size="100" stroke="#000" stroke-width="1.080">f</text>
<text transform="matrix(0.4034 0.0000 0.0000 0.3971 540.3786 29.0122)" font-size="100" stroke="#000" stroke-width="1.124">u</text>
<text transform="matrix(0.3825 0.0000 0.0000 0.3902 564.4818 28.8731)" font-size="100" stroke="#000" stroke-width="1.165">l</text>
<text transform="matrix(0.4034 0.0000 0.0000 0.3873 574.6475 28.8731)" font-size="100" stroke="#000" stroke-width="1.138">n</text>
<text transform="matrix(0.4041 0.0000 0.0000 0.3900 597.9894 29.0191)" font-size="100" stroke="#000" stroke-width="1.133">e</text>
<text transform="matrix(0.3619 0.0000 0.0000 0.3911 621.6102 29.0181)" font-size="100" stroke="#000" stroke-width="1.195">s</text>
<text transform="matrix(0.3619 0.0000 0.0000 0.3911 641.1035 29.0181)" font-size="100" stroke="#000" stroke-width="1.195">s</text>
<text transform="matrix(0.4424 0.0000 0.0000 0.3333 662.4171 28.1963)" font-size="100" stroke="#000" stroke-width="1.160">=</text>
<text transform="matrix(0.3944 0.0000 0.0000 0.3975 691.9236 29.0118)" font-size="100" stroke="#000" stroke-width="1.136">0</text>
<text transform="matrix(0.4049 0.0000 0.0000 0.4316 715.1071 28.8731)" font-size="100" stroke="#000" stroke-width="1.076">.</text>
<text transform="matrix(0.3945 0.0000 0.0000 0.3943 727.6178 28.8731)" font-size="100" stroke="#000" stroke-width="1.141">4</text>
<text transform="matrix(0.3374 0.0000 0.0000 0.3286 484.9256 75.9100)" font-size="100" stroke="#000" stroke-width="1.351">b</text>
<text transform="matrix(0.2785 0.0000 0.0000 0.2981 506.0698 73.7290)" font-size="100" stroke="#000" stroke-width="1.561">)</text>
<text transform="matrix(0.3909 0.0000 0.0000 0.3572 846.9039 340.2268)" font-size="100" stroke="#000" stroke-width="1.203">−</text>
<text transform="matrix(0.3198 0.0000 0.0000 0.3268 872.2097 338.0809)" font-size="100" stroke="#000" stroke-width="1.392">5</text>
<text transform="matrix(0.3514 0.0000 0.0000 0.3220 971.2272 338.0855)" font-size="100" stroke="#000" stroke-width="1.336">0</text>
<text transform="matrix(0.3332 0.0000 0.0000 0.3268 1085.2657 338.0809)" font-size="100" stroke="#000" stroke-width="1.364">5</text>
<text transform="matrix(0.3514 0.0000 0.0000 0.3220 813.2272 294.0855)" font-size="100" stroke="#000" stroke-width="1.336">0</text>
<text transform="matrix(0.3433 0.0000 0.0000 0.3314 812.9853 120.4000)" font-size="100" stroke="#000" stroke-width="1.334">1</text>
<text transform="matrix(0.4038 0.0000 0.0000 0.3971 836.9779 29.0122)" font-size="100" stroke="#000" stroke-width="1.124">u</text>
<text transform="matrix(0.3634 0.0000 0.0000 0.3911 861.0757 29.0181)" font-size="100" stroke="#000" stroke-width="1.193">s</text>
<text transform="matrix(0.4045 0.0000 0.0000 0.3900 880.0120 29.0191)" font-size="100" stroke="#000" stroke-width="1.133">e</text>
<text transform="matrix(0.4441 0.0000 0.0000 0.3907 903.5658 28.8731)" font-size="100" stroke="#000" stroke-width="1.078">f</text>
<text transform="matrix(0.4038 0.0000 0.0000 0.3971 916.4476 29.0122)" font-size="100" stroke="#000" stroke-width="1.124">u</text>
<text transform="matrix(0.3828 0.0000 0.0000 0.3902 940.5725 28.8731)" font-size="100" stroke="#000" stroke-width="1.164">l</text>
<text transform="matrix(0.4038 0.0000 0.0000 0.3873 950.7473 28.8731)" font-size="100" stroke="#000" stroke-width="1.138">n</text>
<text transform="matrix(0.4045 0.0000 0.0000 0.3900 974.1102 29.0191)" font-size="100" stroke="#000" stroke-width="1.133">e</text>
<text transform="matrix(0.3634 0.0000 0.0000 0.3911 997.7249 29.0181)" font-size="100" stroke="#000" stroke-width="1.193">s</text>
<text transform="matrix(0.3634 0.0000 0.0000 0.3911 1017.2357 29.0181)" font-size="100" stroke="#000" stroke-width="1.193">s</text>
<text transform="matrix(0.4441 0.0000 0.0000 0.3333 1038.5561 28.1963)" font-size="100" stroke="#000" stroke-width="1.158">=</text>
<text transform="matrix(0.3948 0.0000 0.0000 0.3975 1068.1288 29.0118)" font-size="100" stroke="#000" stroke-width="1.136">0</text>
<text transform="matrix(0.4052 0.0000 0.0000 0.4316 1091.3331 28.8731)" font-size="100" stroke="#000" stroke-width="1.075">.</text>
<text transform="matrix(0.4086 0.0000 0.0000 0.3975 1103.4726 29.0118)" font-size="100" stroke="#000" stroke-width="1.116">6</text>
<text transform="matrix(0.3178 0.0000 0.0000 0.3272 860.7500 75.9074)" font-size="100" stroke="#000" stroke-width="1.395">c</text>
<text transform="matrix(0.2689 0.0000 0.0000 0.2984 880.1292 73.7222)" font-size="100" stroke="#000" stroke-width="1.587">)</text>
<text transform="matrix(0.3783 0.0000 0.0000 0.3510 110.3084 668.1949)" font-size="100" stroke="#000" stroke-width="1.234">−</text>
<text transform="matrix(0.3170 0.0000 0.0000 0.3204 135.1231 665.9731)" font-size="100" stroke="#000" stroke-width="1.412">2</text>
<text transform="matrix(0.3103 0.0000 0.0000 0.3211 155.4435 666.0865)" font-size="100" stroke="#000" stroke-width="1.425">5</text>
<text transform="matrix(0.3514 0.0000 0.0000 0.3220 247.2272 666.0855)" font-size="100" stroke="#000" stroke-width="1.336">0</text>
<text transform="matrix(0.3180 0.0000 0.0000 0.3204 353.0005 665.9731)" font-size="100" stroke="#000" stroke-width="1.410">2</text>
<text transform="matrix(0.3114 0.0000 0.0000 0.3211 373.3896 666.0865)" font-size="100" stroke="#000" stroke-width="1.423">5</text>
<text transform="matrix(0.3872 0.0000 0.0000 0.3510 44.1026 634.1949)" font-size="100" stroke="#000" stroke-width="1.219">−</text>
<text transform="matrix(0.3188 0.0000 0.0000 0.3204 69.2574 631.9731)" font-size="100" stroke="#000" stroke-width="1.408">2</text>
<text transform="matrix(0.3307 0.0000 0.0000 0.3220 89.2992 632.0855)" font-size="100" stroke="#000" stroke-width="1.379">0</text>
<text transform="matrix(0.3514 0.0000 0.0000 0.3220 89.2272 510.0855)" font-size="100" stroke="#000" stroke-width="1.336">0</text>
<text transform="matrix(0.3211 0.0000 0.0000 0.3204 68.9851 387.9731)" font-size="100" stroke="#000" stroke-width="1.403">2</text>
<text transform="matrix(0.3331 0.0000 0.0000 0.3220 89.1739 388.0855)" font-size="100" stroke="#000" stroke-width="1.374">0</text>
<text transform="matrix(0.3767 0.0000 0.0000 0.3229 185.5374 709.9645)" font-size="100" stroke="#000" stroke-width="1.287">f</text>
<text transform="matrix(0.3391 0.0000 0.0000 0.3223 196.2222 710.0852)" font-size="100" stroke="#000" stroke-width="1.361">e</text>
<text transform="matrix(0.3082 0.0000 0.0000 0.3223 215.1536 710.0852)" font-size="100" stroke="#000" stroke-width="1.427">a</text>
<text transform="matrix(0.3767 0.0000 0.0000 0.3300 235.2988 709.7067)" font-size="100" stroke="#000" stroke-width="1.274">t</text>
<text transform="matrix(0.3384 0.0000 0.0000 0.3282 247.2554 710.0795)" font-size="100" stroke="#000" stroke-width="1.350">u</text>
<text transform="matrix(0.3767 0.0000 0.0000 0.3201 267.3496 709.9645)" font-size="100" stroke="#000" stroke-width="1.292">r</text>
<text transform="matrix(0.3391 0.0000 0.0000 0.3223 279.1885 710.0852)" font-size="100" stroke="#000" stroke-width="1.361">e</text>
<text transform="matrix(0.3162 0.0000 0.0000 0.3259 308.3706 709.9645)" font-size="100" stroke="#000" stroke-width="1.402">A</text>
<text transform="matrix(0.0000 -0.3755 0.3229 0.0000 23.7645 570.4496)" font-size="100" stroke="#000" stroke-width="1.289">f</text>
<text transform="matrix(0.0000 -0.3388 0.3223 0.0000 23.8852 559.7852)" font-size="100" stroke="#000" stroke-width="1.361">e</text>
<text transform="matrix(0.0000 -0.3072 0.3223 0.0000 23.8852 540.8455)" font-size="100" stroke="#000" stroke-width="1.430">a</text>
<text transform="matrix(0.0000 -0.3755 0.3300 0.0000 23.5067 520.7234)" font-size="100" stroke="#000" stroke-width="1.276">t</text>
<text transform="matrix(0.0000 -0.3382 0.3282 0.0000 23.8795 508.7878)" font-size="100" stroke="#000" stroke-width="1.351">u</text>
<text transform="matrix(0.0000 -0.3755 0.3201 0.0000 23.7645 488.6908)" font-size="100" stroke="#000" stroke-width="1.294">r</text>
<text transform="matrix(0.0000 -0.3388 0.3223 0.0000 23.8852 476.8771)" font-size="100" stroke="#000" stroke-width="1.361">e</text>
<text transform="matrix(0.0000 -0.3072 0.3259 0.0000 23.7645 447.4065)" font-size="100" stroke="#000" stroke-width="1.422">B</text>
<text transform="matrix(0.3357 0.0000 0.0000 0.3286 136.6902 403.9100)" font-size="100" stroke="#000" stroke-width="1.355">d</text>
<text transform="matrix(0.2772 0.0000 0.0000 0.2981 158.1006 401.7290)" font-size="100" stroke="#000" stroke-width="1.564">)</text>
<text transform="matrix(0.3869 0.0000 0.0000 0.3510 467.1129 668.1949)" font-size="100" stroke="#000" stroke-width="1.220">−</text>
<text transform="matrix(0.3165 0.0000 0.0000 0.3194 492.5834 665.9731)" font-size="100" stroke="#000" stroke-width="1.415">1</text>
<text transform="matrix(0.3307 0.0000 0.0000 0.3220 512.2992 666.0855)" font-size="100" stroke="#000" stroke-width="1.379">0</text>
<text transform="matrix(0.3514 0.0000 0.0000 0.3220 596.2272 666.0855)" font-size="100" stroke="#000" stroke-width="1.336">0</text>
<text transform="matrix(0.3196 0.0000 0.0000 0.3194 694.1654 665.9731)" font-size="100" stroke="#000" stroke-width="1.408">1</text>
<text transform="matrix(0.3346 0.0000 0.0000 0.3220 714.0956 666.0855)" font-size="100" stroke="#000" stroke-width="1.371">0</text>
<text transform="matrix(0.4028 0.0000 0.0000 0.3510 412.6137 613.1949)" font-size="100" stroke="#000" stroke-width="1.194">−</text>
<text transform="matrix(0.3410 0.0000 0.0000 0.3220 437.9312 611.0855)" font-size="100" stroke="#000" stroke-width="1.357">6</text>
<text transform="matrix(0.3514 0.0000 0.0000 0.3220 437.2272 510.0855)" font-size="100" stroke="#000" stroke-width="1.336">0</text>
<text transform="matrix(0.3641 0.0000 0.0000 0.3220 437.7511 408.0855)" font-size="100" stroke="#000" stroke-width="1.312">6</text>
<text transform="matrix(0.3412 0.0000 0.0000 0.3272 484.6506 403.9074)" font-size="100" stroke="#000" stroke-width="1.347">e</text>
<text transform="matrix(0.2830 0.0000 0.0000 0.2984 505.9432 401.7222)" font-size="100" stroke="#000" stroke-width="1.548">)</text>
<text transform="matrix(0.3909 0.0000 0.0000 0.3572 846.9039 668.2268)" font-size="100" stroke="#000" stroke-width="1.203">−</text>
<text transform="matrix(0.3198 0.0000 0.0000 0.3268 872.2097 666.0809)" font-size="100" stroke="#000" stroke-width="1.392">5</text>
<text transform="matrix(0.3514 0.0000 0.0000 0.3220 971.2272 666.0855)" font-size="100" stroke="#000" stroke-width="1.336">0</text>
<text transform="matrix(0.3332 0.0000 0.0000 0.3268 1085.2657 666.0809)" font-size="100" stroke="#000" stroke-width="1.364">5</text>
<text transform="matrix(0.3916 0.0000 0.0000 0.3510 787.8276 618.1949)" font-size="100" stroke="#000" stroke-width="1.212">−</text>
<text transform="matrix(0.3204 0.0000 0.0000 0.3220 813.1695 616.0855)" font-size="100" stroke="#000" stroke-width="1.401">3</text>
<text transform="matrix(0.3514 0.0000 0.0000 0.3220 813.2272 510.0855)" font-size="100" stroke="#000" stroke-width="1.336">0</text>
<text transform="matrix(0.3332 0.0000 0.0000 0.3220 813.3308 404.0855)" font-size="100" stroke="#000" stroke-width="1.373">3</text>
<text transform="matrix(0.3618 0.0000 0.0000 0.3274 861.0966 403.7894)" font-size="100" stroke="#000" stroke-width="1.306">f</text>
<text transform="matrix(0.2960 0.0000 0.0000 0.2981 872.8875 401.7290)" font-size="100" stroke="#000" stroke-width="1.515">)</text>
<text transform="matrix(0.4044 0.0000 0.0000 0.3510 129.6055 1037.1949)" font-size="100" stroke="#000" stroke-width="1.191">−</text>
<text transform="matrix(0.3345 0.0000 0.0000 0.3220 155.2518 1035.0855)" font-size="100" stroke="#000" stroke-width="1.371">8</text>
<text transform="matrix(0.3514 0.0000 0.0000 0.3220 247.2272 1035.0855)" font-size="100" stroke="#000" stroke-width="1.336">0</text>
<text transform="matrix(0.3580 0.0000 0.0000 0.3220 353.0441 1035.0855)" font-size="100" stroke="#000" stroke-width="1.323">8</text>
<text transform="matrix(0.4044 0.0000 0.0000 0.3510 63.6055 1001.1949)" font-size="100" stroke="#000" stroke-width="1.191">−</text>
<text transform="matrix(0.3345 0.0000 0.0000 0.3220 89.2518 999.0855)" font-size="100" stroke="#000" stroke-width="1.371">8</text>
<text transform="matrix(0.3514 0.0000 0.0000 0.3220 89.2272 879.0855)" font-size="100" stroke="#000" stroke-width="1.336">0</text>
<text transform="matrix(0.3580 0.0000 0.0000 0.3220 89.0441 759.0855)" font-size="100" stroke="#000" stroke-width="1.323">8</text>
<text transform="matrix(0.3148 0.0000 0.0000 0.3222 154.2627 1079.1273)" font-size="100" stroke="#000" stroke-width="1.413">c</text>
<text transform="matrix(0.3335 0.0000 0.0000 0.3222 171.4492 1079.1273)" font-size="100" stroke="#000" stroke-width="1.373">o</text>
<text transform="matrix(0.3575 0.0000 0.0000 0.3199 190.7897 1079.0067)" font-size="100" stroke="#000" stroke-width="1.329">m</text>
<text transform="matrix(0.3413 0.0000 0.0000 0.3168 221.5259 1078.8252)" font-size="100" stroke="#000" stroke-width="1.367">p</text>
<text transform="matrix(0.3335 0.0000 0.0000 0.3222 241.1225 1079.1273)" font-size="100" stroke="#000" stroke-width="1.373">o</text>
<text transform="matrix(0.3383 0.0000 0.0000 0.3199 260.5904 1079.0067)" font-size="100" stroke="#000" stroke-width="1.367">n</text>
<text transform="matrix(0.3389 0.0000 0.0000 0.3222 280.1636 1079.1273)" font-size="100" stroke="#000" stroke-width="1.362">e</text>
<text transform="matrix(0.3383 0.0000 0.0000 0.3199 299.7778 1079.0067)" font-size="100" stroke="#000" stroke-width="1.367">n</text>
<text transform="matrix(0.3749 0.0000 0.0000 0.3298 319.9017 1078.7490)" font-size="100" stroke="#000" stroke-width="1.277">t</text>
<text transform="matrix(0.3159 0.0000 0.0000 0.3257 342.3748 1079.0067)" font-size="100" stroke="#000" stroke-width="1.403">1</text>
<text transform="matrix(0.0000 -0.3136 0.3177 0.0000 24.0143 970.7323)" font-size="100" stroke="#000" stroke-width="1.426">c</text>
<text transform="matrix(0.0000 -0.3323 0.3177 0.0000 24.0143 953.6099)" font-size="100" stroke="#000" stroke-width="1.385">o</text>
<text transform="matrix(0.0000 -0.3561 0.3155 0.0000 23.8954 934.3415)" font-size="100" stroke="#000" stroke-width="1.340">m</text>
<text transform="matrix(0.0000 -0.3401 0.3124 0.0000 23.7165 903.7197)" font-size="100" stroke="#000" stroke-width="1.379">p</text>
<text transform="matrix(0.0000 -0.3323 0.3177 0.0000 24.0143 884.1963)" font-size="100" stroke="#000" stroke-width="1.385">o</text>
<text transform="matrix(0.0000 -0.3370 0.3155 0.0000 23.8954 864.8008)" font-size="100" stroke="#000" stroke-width="1.379">n</text>
<text transform="matrix(0.0000 -0.3376 0.3177 0.0000 24.0143 845.3006)" font-size="100" stroke="#000" stroke-width="1.373">e</text>
<text transform="matrix(0.0000 -0.3370 0.3155 0.0000 23.8954 825.7595)" font-size="100" stroke="#000" stroke-width="1.379">n</text>
<text transform="matrix(0.0000 -0.3737 0.3253 0.0000 23.6413 805.7131)" font-size="100" stroke="#000" stroke-width="1.288">t</text>
<text transform="matrix(0.0000 -0.3176 0.3222 0.0000 23.8954 783.6661)" font-size="100" stroke="#000" stroke-width="1.407">2</text>
<text transform="matrix(0.3357 0.0000 0.0000 0.3181 136.6902 772.2979)" font-size="100" stroke="#000" stroke-width="1.376">g</text>
<text transform="matrix(0.2772 0.0000 0.0000 0.2947 158.1006 770.4516)" font-size="100" stroke="#000" stroke-width="1.574">)</text>
<text transform="matrix(0.3869 0.0000 0.0000 0.3510 452.1129 1037.1949)" font-size="100" stroke="#000" stroke-width="1.220">−</text>
<text transform="matrix(0.3165 0.0000 0.0000 0.3194 477.5834 1034.9731)" font-size="100" stroke="#000" stroke-width="1.415">1</text>
<text transform="matrix(0.3307 0.0000 0.0000 0.3220 497.2992 1035.0855)" font-size="100" stroke="#000" stroke-width="1.379">0</text>
<text transform="matrix(0.3514 0.0000 0.0000 0.3220 596.2272 1035.0855)" font-size="100" stroke="#000" stroke-width="1.336">0</text>
<text transform="matrix(0.3196 0.0000 0.0000 0.3194 709.1654 1034.9731)" font-size="100" stroke="#000" stroke-width="1.408">1</text>
<text transform="matrix(0.3346 0.0000 0.0000 0.3220 729.0956 1035.0855)" font-size="100" stroke="#000" stroke-width="1.371">0</text>
<text transform="matrix(0.4044 0.0000 0.0000 0.3510 412.6055 981.1949)" font-size="100" stroke="#000" stroke-width="1.191">−</text>
<text transform="matrix(0.3345 0.0000 0.0000 0.3220 438.2518 979.0855)" font-size="100" stroke="#000" stroke-width="1.371">8</text>
<text transform="matrix(0.3514 0.0000 0.0000 0.3220 437.2272 879.0855)" font-size="100" stroke="#000" stroke-width="1.336">0</text>
<text transform="matrix(0.3580 0.0000 0.0000 0.3220 438.0441 778.0855)" font-size="100" stroke="#000" stroke-width="1.323">8</text>
<text transform="matrix(0.3370 0.0000 0.0000 0.3269 484.7631 772.7894)" font-size="100" stroke="#000" stroke-width="1.356">h</text>
<text transform="matrix(0.2774 0.0000 0.0000 0.2981 506.0809 770.7290)" font-size="100" stroke="#000" stroke-width="1.564">)</text>
<text transform="matrix(0.3869 0.0000 0.0000 0.3510 843.1129 1037.1949)" font-size="100" stroke="#000" stroke-width="1.220">−</text>
<text transform="matrix(0.3165 0.0000 0.0000 0.3194 868.5834 1034.9731)" font-size="100" stroke="#000" stroke-width="1.415">1</text>
<text transform="matrix(0.3307 0.0000 0.0000 0.3220 888.2992 1035.0855)" font-size="100" stroke="#000" stroke-width="1.379">0</text>
<text transform="matrix(0.3514 0.0000 0.0000 0.3220 971.2272 1035.0855)" font-size="100" stroke="#000" stroke-width="1.336">0</text>
<text transform="matrix(0.3196 0.0000 0.0000 0.3194 1068.1654 1034.9731)" font-size="100" stroke="#000" stroke-width="1.408">1</text>
<text transform="matrix(0.3346 0.0000 0.0000 0.3220 1088.0956 1035.0855)" font-size="100" stroke="#000" stroke-width="1.371">0</text>
<text transform="matrix(0.3869 0.0000 0.0000 0.3510 768.1129 974.1949)" font-size="100" stroke="#000" stroke-width="1.220">−</text>
<text transform="matrix(0.3165 0.0000 0.0000 0.3194 793.5834 971.9731)" font-size="100" stroke="#000" stroke-width="1.415">1</text>
<text transform="matrix(0.3307 0.0000 0.0000 0.3220 813.2992 972.0855)" font-size="100" stroke="#000" stroke-width="1.379">0</text>
<text transform="matrix(0.3514 0.0000 0.0000 0.3220 813.2272 879.0855)" font-size="100" stroke="#000" stroke-width="1.336">0</text>
<text transform="matrix(0.3196 0.0000 0.0000 0.3194 794.1654 784.9731)" font-size="100" stroke="#000" stroke-width="1.408">1</text>
<text transform="matrix(0.3346 0.0000 0.0000 0.3220 814.0956 785.0855)" font-size="100" stroke="#000" stroke-width="1.371">0</text>
<text transform="matrix(0.3269 0.0000 0.0000 0.3269 859.9777 772.7894)" font-size="100" stroke="#000" stroke-width="1.377">i</text>
<text transform="matrix(0.2825 0.0000 0.0000 0.2981 870.7453 770.7290)" font-size="100" stroke="#000" stroke-width="1.550">)</text>
<text transform="matrix(0.3909 0.0000 0.0000 0.3572 112.9039 1398.2268)" font-size="100" stroke="#000" stroke-width="1.203">−</text>
<text transform="matrix(0.3198 0.0000 0.0000 0.3268 138.2097 1396.0809)" font-size="100" stroke="#000" stroke-width="1.392">5</text>
<text transform="matrix(0.3514 0.0000 0.0000 0.3220 247.2272 1396.0855)" font-size="100" stroke="#000" stroke-width="1.336">0</text>
<text transform="matrix(0.3332 0.0000 0.0000 0.3268 371.2657 1396.0809)" font-size="100" stroke="#000" stroke-width="1.364">5</text>
<text transform="matrix(0.4028 0.0000 0.0000 0.3510 63.6137 1355.1949)" font-size="100" stroke="#000" stroke-width="1.194">−</text>
<text transform="matrix(0.3410 0.0000 0.0000 0.3220 88.9312 1353.0855)" font-size="100" stroke="#000" stroke-width="1.357">6</text>
<text transform="matrix(0.3514 0.0000 0.0000 0.3220 89.2272 1240.0855)" font-size="100" stroke="#000" stroke-width="1.336">0</text>
<text transform="matrix(0.3641 0.0000 0.0000 0.3220 88.7511 1128.0855)" font-size="100" stroke="#000" stroke-width="1.312">6</text>
<text transform="matrix(0.3148 0.0000 0.0000 0.3222 154.2627 1440.1273)" font-size="100" stroke="#000" stroke-width="1.413">c</text>
<text transform="matrix(0.3335 0.0000 0.0000 0.3222 171.4492 1440.1273)" font-size="100" stroke="#000" stroke-width="1.373">o</text>
<text transform="matrix(0.3575 0.0000 0.0000 0.3199 190.7897 1440.0067)" font-size="100" stroke="#000" stroke-width="1.329">m</text>
<text transform="matrix(0.3413 0.0000 0.0000 0.3168 221.5259 1439.8252)" font-size="100" stroke="#000" stroke-width="1.367">p</text>
<text transform="matrix(0.3335 0.0000 0.0000 0.3222 241.1225 1440.1273)" font-size="100" stroke="#000" stroke-width="1.373">o</text>
<text transform="matrix(0.3383 0.0000 0.0000 0.3199 260.5904 1440.0067)" font-size="100" stroke="#000" stroke-width="1.367">n</text>
<text transform="matrix(0.3389 0.0000 0.0000 0.3222 280.1636 1440.1273)" font-size="100" stroke="#000" stroke-width="1.362">e</text>
<text transform="matrix(0.3383 0.0000 0.0000 0.3199 299.7778 1440.0067)" font-size="100" stroke="#000" stroke-width="1.367">n</text>
<text transform="matrix(0.3749 0.0000 0.0000 0.3298 319.9017 1439.7490)" font-size="100" stroke="#000" stroke-width="1.277">t</text>
<text transform="matrix(0.3159 0.0000 0.0000 0.3257 342.3748 1440.0067)" font-size="100" stroke="#000" stroke-width="1.403">1</text>
<text transform="matrix(0.0000 -0.3136 0.3177 0.0000 24.0143 1331.7323)" font-size="100" stroke="#000" stroke-width="1.426">c</text>
<text transform="matrix(0.0000 -0.3323 0.3177 0.0000 24.0143 1314.6099)" font-size="100" stroke="#000" stroke-width="1.385">o</text>
<text transform="matrix(0.0000 -0.3561 0.3155 0.0000 23.8954 1295.3415)" font-size="100" stroke="#000" stroke-width="1.340">m</text>
<text transform="matrix(0.0000 -0.3401 0.3124 0.0000 23.7165 1264.7197)" font-size="100" stroke="#000" stroke-width="1.379">p</text>
<text transform="matrix(0.0000 -0.3323 0.3177 0.0000 24.0143 1245.1963)" font-size="100" stroke="#000" stroke-width="1.385">o</text>
<text transform="matrix(0.0000 -0.3370 0.3155 0.0000 23.8954 1225.8008)" font-size="100" stroke="#000" stroke-width="1.379">n</text>
<text transform="matrix(0.0000 -0.3376 0.3177 0.0000 24.0143 1206.3006)" font-size="100" stroke="#000" stroke-width="1.373">e</text>
<text transform="matrix(0.0000 -0.3370 0.3155 0.0000 23.8954 1186.7595)" font-size="100" stroke="#000" stroke-width="1.379">n</text>
<text transform="matrix(0.0000 -0.3737 0.3253 0.0000 23.6413 1166.7131)" font-size="100" stroke="#000" stroke-width="1.288">t</text>
<text transform="matrix(0.0000 -0.3176 0.3222 0.0000 23.8954 1144.6661)" font-size="100" stroke="#000" stroke-width="1.407">2</text>
<text transform="matrix(0.3394 0.0000 0.0000 0.3197 135.1383 1133.2656)" font-size="100" stroke="#000" stroke-width="1.366">j</text>
<text transform="matrix(0.2777 0.0000 0.0000 0.2944 145.9521 1131.4602)" font-size="100" stroke="#000" stroke-width="1.573">)</text>
<text transform="matrix(0.4000 0.0000 0.0000 0.3642 475.6450 1398.7051)" font-size="100" stroke="#000" stroke-width="1.178">−</text>
<text transform="matrix(0.3278 0.0000 0.0000 0.3314 501.1272 1396.4000)" font-size="100" stroke="#000" stroke-width="1.365">4</text>
<text transform="matrix(0.3514 0.0000 0.0000 0.3220 596.2272 1396.0855)" font-size="100" stroke="#000" stroke-width="1.336">0</text>
<text transform="matrix(0.3334 0.0000 0.0000 0.3314 704.8349 1396.4000)" font-size="100" stroke="#000" stroke-width="1.354">4</text>
<text transform="matrix(0.4000 0.0000 0.0000 0.3642 412.6450 1347.7051)" font-size="100" stroke="#000" stroke-width="1.178">−</text>
<text transform="matrix(0.3278 0.0000 0.0000 0.3314 438.1272 1345.4000)" font-size="100" stroke="#000" stroke-width="1.365">4</text>
<text transform="matrix(0.3514 0.0000 0.0000 0.3220 437.2272 1240.0855)" font-size="100" stroke="#000" stroke-width="1.336">0</text>
<text transform="matrix(0.3334 0.0000 0.0000 0.3314 438.8349 1135.4000)" font-size="100" stroke="#000" stroke-width="1.354">4</text>
<text transform="matrix(0.3563 0.0000 0.0000 0.3269 484.7127 1133.7894)" font-size="100" stroke="#000" stroke-width="1.317">k</text>
<text transform="matrix(0.2915 0.0000 0.0000 0.2981 504.7867 1131.7290)" font-size="100" stroke="#000" stroke-width="1.526">)</text>
<text transform="matrix(0.3909 0.0000 0.0000 0.3572 845.9039 1398.2268)" font-size="100" stroke="#000" stroke-width="1.203">−</text>
<text transform="matrix(0.3198 0.0000 0.0000 0.3268 871.2097 1396.0809)" font-size="100" stroke="#000" stroke-width="1.392">5</text>
<text transform="matrix(0.3514 0.0000 0.0000 0.3220 971.2272 1396.0855)" font-size="100" stroke="#000" stroke-width="1.336">0</text>
<text transform="matrix(0.3332 0.0000 0.0000 0.3268 1086.2657 1396.0809)" font-size="100" stroke="#000" stroke-width="1.364">5</text>
<text transform="matrix(0.3909 0.0000 0.0000 0.3572 787.9039 1348.2268)" font-size="100" stroke="#000" stroke-width="1.203">−</text>
<text transform="matrix(0.3198 0.0000 0.0000 0.3268 813.2097 1346.0809)" font-size="100" stroke="#000" stroke-width="1.392">5</text>
<text transform="matrix(0.3514 0.0000 0.0000 0.3220 813.2272 1240.0855)" font-size="100" stroke="#000" stroke-width="1.336">0</text>
<text transform="matrix(0.3332 0.0000 0.0000 0.3268 813.2657 1134.0809)" font-size="100" stroke="#000" stroke-width="1.364">5</text>
<text transform="matrix(0.3269 0.0000 0.0000 0.3269 859.9618 1133.7894)" font-size="100" stroke="#000" stroke-width="1.377">l</text>
<text transform="matrix(0.2825 0.0000 0.0000 0.2981 870.7453 1131.7290)" font-size="100" stroke="#000" stroke-width="1.550">)</text>
</svg></body></html>
